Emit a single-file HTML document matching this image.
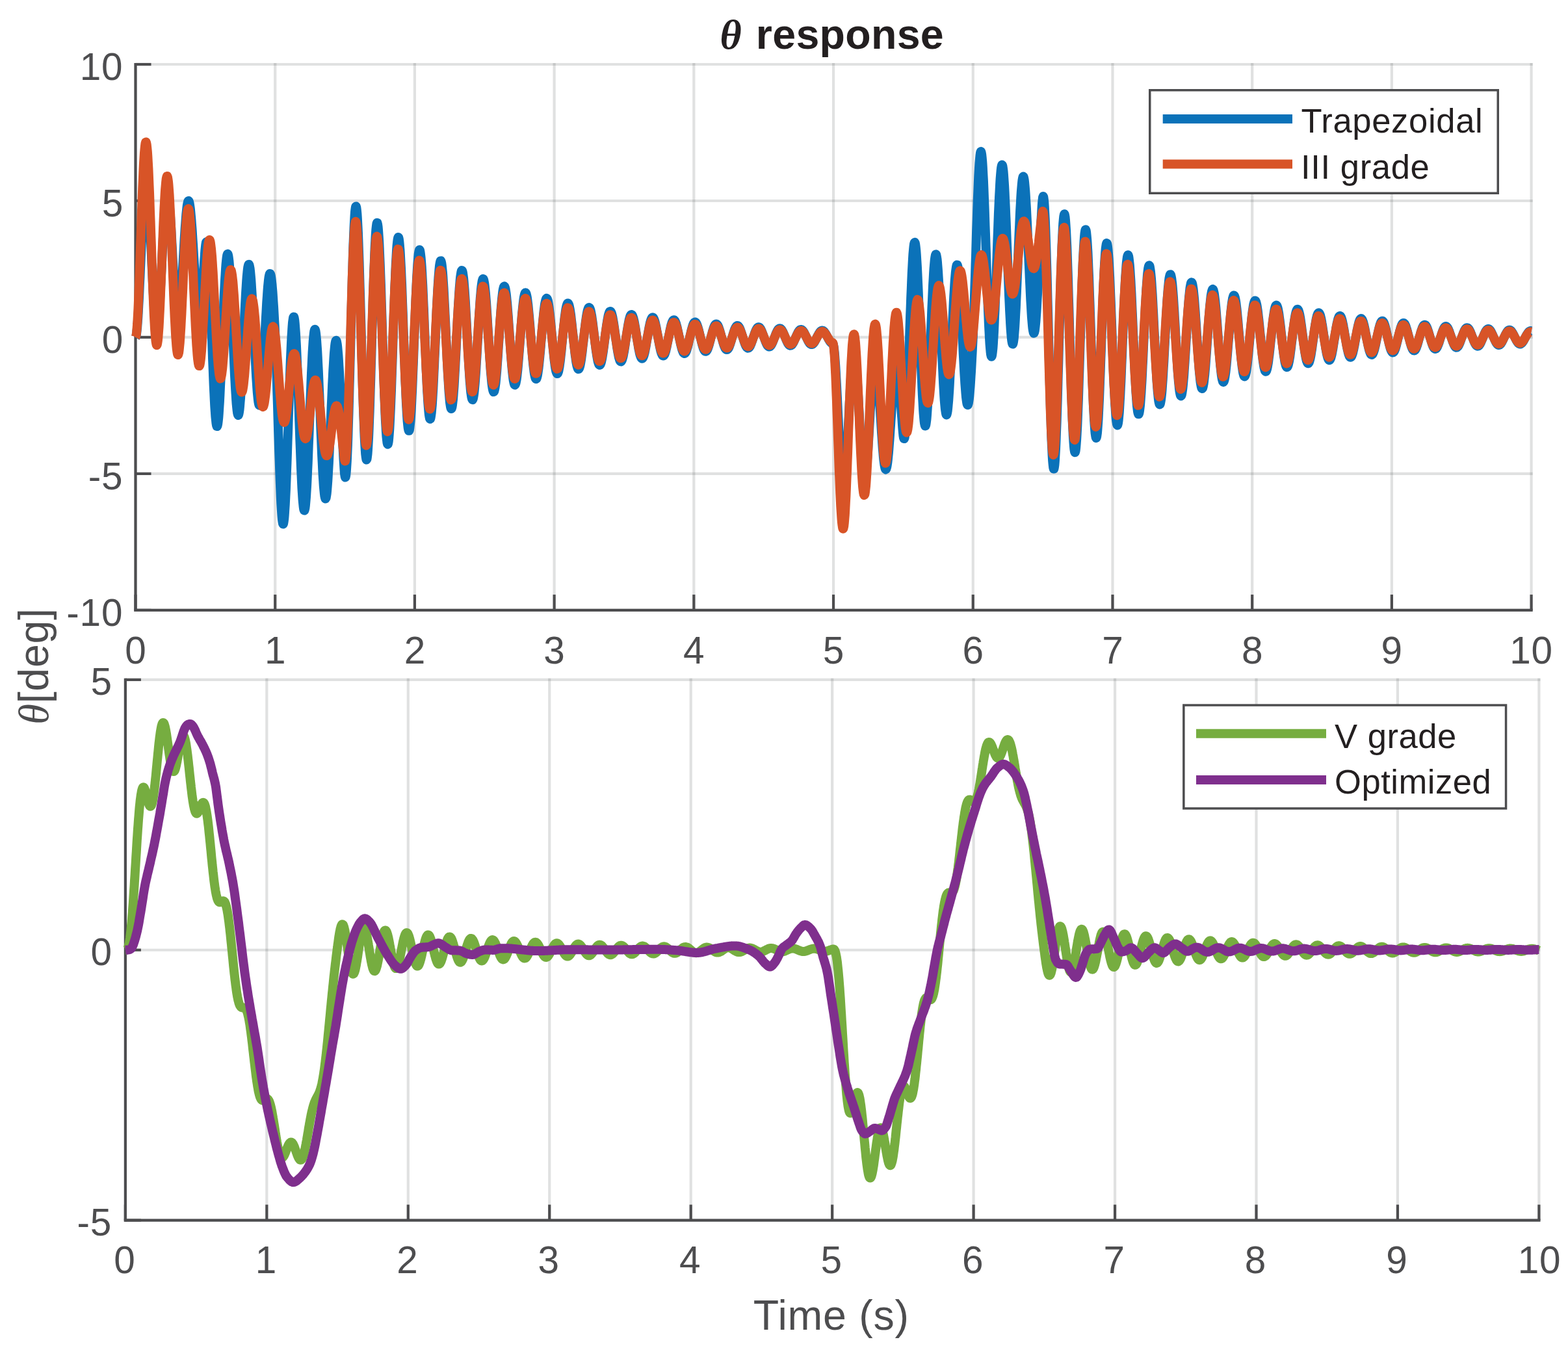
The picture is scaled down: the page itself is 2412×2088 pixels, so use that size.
<!DOCTYPE html>
<html lang="en"><head><meta charset="utf-8"><title>θ response</title>
<style>html,body{margin:0;padding:0;background:#fff}body{width:2412px;height:2088px;overflow:hidden}svg{display:block}</style>
</head><body>
<svg width="2412" height="2088" viewBox="0 0 2412 2088" font-family='"Liberation Sans", sans-serif'>
<rect width="2412" height="2088" fill="#fff"/>
<line x1="208.50" y1="96.90" x2="208.50" y2="938.90" stroke="#24272d" stroke-opacity="0.142" stroke-width="4.2"/>
<line x1="423.21" y1="96.90" x2="423.21" y2="938.90" stroke="#24272d" stroke-opacity="0.142" stroke-width="4.2"/>
<line x1="637.92" y1="96.90" x2="637.92" y2="938.90" stroke="#24272d" stroke-opacity="0.142" stroke-width="4.2"/>
<line x1="852.63" y1="96.90" x2="852.63" y2="938.90" stroke="#24272d" stroke-opacity="0.142" stroke-width="4.2"/>
<line x1="1067.34" y1="96.90" x2="1067.34" y2="938.90" stroke="#24272d" stroke-opacity="0.142" stroke-width="4.2"/>
<line x1="1282.05" y1="96.90" x2="1282.05" y2="938.90" stroke="#24272d" stroke-opacity="0.142" stroke-width="4.2"/>
<line x1="1496.76" y1="96.90" x2="1496.76" y2="938.90" stroke="#24272d" stroke-opacity="0.142" stroke-width="4.2"/>
<line x1="1711.47" y1="96.90" x2="1711.47" y2="938.90" stroke="#24272d" stroke-opacity="0.142" stroke-width="4.2"/>
<line x1="1926.18" y1="96.90" x2="1926.18" y2="938.90" stroke="#24272d" stroke-opacity="0.142" stroke-width="4.2"/>
<line x1="2140.89" y1="96.90" x2="2140.89" y2="938.90" stroke="#24272d" stroke-opacity="0.142" stroke-width="4.2"/>
<line x1="2355.60" y1="96.90" x2="2355.60" y2="938.90" stroke="#24272d" stroke-opacity="0.142" stroke-width="4.2"/>
<line x1="208.50" y1="938.90" x2="2357.70" y2="938.90" stroke="#24272d" stroke-opacity="0.142" stroke-width="4.2"/>
<line x1="208.50" y1="728.92" x2="2357.70" y2="728.92" stroke="#24272d" stroke-opacity="0.142" stroke-width="4.2"/>
<line x1="208.50" y1="518.95" x2="2357.70" y2="518.95" stroke="#24272d" stroke-opacity="0.142" stroke-width="4.2"/>
<line x1="208.50" y1="308.98" x2="2357.70" y2="308.98" stroke="#24272d" stroke-opacity="0.142" stroke-width="4.2"/>
<line x1="208.50" y1="99.00" x2="2357.70" y2="99.00" stroke="#24272d" stroke-opacity="0.142" stroke-width="4.2"/>
<line x1="192.90" y1="1043.80" x2="192.90" y2="1877.60" stroke="#24272d" stroke-opacity="0.142" stroke-width="4.2"/>
<line x1="410.35" y1="1043.80" x2="410.35" y2="1877.60" stroke="#24272d" stroke-opacity="0.142" stroke-width="4.2"/>
<line x1="627.80" y1="1043.80" x2="627.80" y2="1877.60" stroke="#24272d" stroke-opacity="0.142" stroke-width="4.2"/>
<line x1="845.25" y1="1043.80" x2="845.25" y2="1877.60" stroke="#24272d" stroke-opacity="0.142" stroke-width="4.2"/>
<line x1="1062.70" y1="1043.80" x2="1062.70" y2="1877.60" stroke="#24272d" stroke-opacity="0.142" stroke-width="4.2"/>
<line x1="1280.15" y1="1043.80" x2="1280.15" y2="1877.60" stroke="#24272d" stroke-opacity="0.142" stroke-width="4.2"/>
<line x1="1497.60" y1="1043.80" x2="1497.60" y2="1877.60" stroke="#24272d" stroke-opacity="0.142" stroke-width="4.2"/>
<line x1="1715.05" y1="1043.80" x2="1715.05" y2="1877.60" stroke="#24272d" stroke-opacity="0.142" stroke-width="4.2"/>
<line x1="1932.50" y1="1043.80" x2="1932.50" y2="1877.60" stroke="#24272d" stroke-opacity="0.142" stroke-width="4.2"/>
<line x1="2149.95" y1="1043.80" x2="2149.95" y2="1877.60" stroke="#24272d" stroke-opacity="0.142" stroke-width="4.2"/>
<line x1="2367.40" y1="1043.80" x2="2367.40" y2="1877.60" stroke="#24272d" stroke-opacity="0.142" stroke-width="4.2"/>
<line x1="192.90" y1="1877.60" x2="2369.50" y2="1877.60" stroke="#24272d" stroke-opacity="0.142" stroke-width="4.2"/>
<line x1="192.90" y1="1461.75" x2="2369.50" y2="1461.75" stroke="#24272d" stroke-opacity="0.142" stroke-width="4.2"/>
<line x1="192.90" y1="1045.90" x2="2369.50" y2="1045.90" stroke="#24272d" stroke-opacity="0.142" stroke-width="4.2"/>
<line x1="208.50" y1="914.90" x2="208.50" y2="938.90" stroke="#4d4d4f" stroke-width="4.2"/>
<line x1="423.21" y1="914.90" x2="423.21" y2="938.90" stroke="#4d4d4f" stroke-width="4.2"/>
<line x1="637.92" y1="914.90" x2="637.92" y2="938.90" stroke="#4d4d4f" stroke-width="4.2"/>
<line x1="852.63" y1="914.90" x2="852.63" y2="938.90" stroke="#4d4d4f" stroke-width="4.2"/>
<line x1="1067.34" y1="914.90" x2="1067.34" y2="938.90" stroke="#4d4d4f" stroke-width="4.2"/>
<line x1="1282.05" y1="914.90" x2="1282.05" y2="938.90" stroke="#4d4d4f" stroke-width="4.2"/>
<line x1="1496.76" y1="914.90" x2="1496.76" y2="938.90" stroke="#4d4d4f" stroke-width="4.2"/>
<line x1="1711.47" y1="914.90" x2="1711.47" y2="938.90" stroke="#4d4d4f" stroke-width="4.2"/>
<line x1="1926.18" y1="914.90" x2="1926.18" y2="938.90" stroke="#4d4d4f" stroke-width="4.2"/>
<line x1="2140.89" y1="914.90" x2="2140.89" y2="938.90" stroke="#4d4d4f" stroke-width="4.2"/>
<line x1="2355.60" y1="914.90" x2="2355.60" y2="938.90" stroke="#4d4d4f" stroke-width="4.2"/>
<line x1="208.50" y1="938.90" x2="232.50" y2="938.90" stroke="#4d4d4f" stroke-width="4.2"/>
<line x1="208.50" y1="728.92" x2="232.50" y2="728.92" stroke="#4d4d4f" stroke-width="4.2"/>
<line x1="208.50" y1="518.95" x2="232.50" y2="518.95" stroke="#4d4d4f" stroke-width="4.2"/>
<line x1="208.50" y1="308.98" x2="232.50" y2="308.98" stroke="#4d4d4f" stroke-width="4.2"/>
<line x1="208.50" y1="99.00" x2="232.50" y2="99.00" stroke="#4d4d4f" stroke-width="4.2"/>
<path d="M208.50 96.90 V938.90 H2357.70" fill="none" stroke="#4d4d4f" stroke-width="4.2" stroke-linecap="butt" stroke-linejoin="miter"/>
<rect x="206.40" y="936.80" width="4.2" height="4.2" fill="#4d4d4f"/>
<line x1="192.90" y1="1853.60" x2="192.90" y2="1877.60" stroke="#4d4d4f" stroke-width="4.2"/>
<line x1="410.35" y1="1853.60" x2="410.35" y2="1877.60" stroke="#4d4d4f" stroke-width="4.2"/>
<line x1="627.80" y1="1853.60" x2="627.80" y2="1877.60" stroke="#4d4d4f" stroke-width="4.2"/>
<line x1="845.25" y1="1853.60" x2="845.25" y2="1877.60" stroke="#4d4d4f" stroke-width="4.2"/>
<line x1="1062.70" y1="1853.60" x2="1062.70" y2="1877.60" stroke="#4d4d4f" stroke-width="4.2"/>
<line x1="1280.15" y1="1853.60" x2="1280.15" y2="1877.60" stroke="#4d4d4f" stroke-width="4.2"/>
<line x1="1497.60" y1="1853.60" x2="1497.60" y2="1877.60" stroke="#4d4d4f" stroke-width="4.2"/>
<line x1="1715.05" y1="1853.60" x2="1715.05" y2="1877.60" stroke="#4d4d4f" stroke-width="4.2"/>
<line x1="1932.50" y1="1853.60" x2="1932.50" y2="1877.60" stroke="#4d4d4f" stroke-width="4.2"/>
<line x1="2149.95" y1="1853.60" x2="2149.95" y2="1877.60" stroke="#4d4d4f" stroke-width="4.2"/>
<line x1="2367.40" y1="1853.60" x2="2367.40" y2="1877.60" stroke="#4d4d4f" stroke-width="4.2"/>
<line x1="192.90" y1="1877.60" x2="216.90" y2="1877.60" stroke="#4d4d4f" stroke-width="4.2"/>
<line x1="192.90" y1="1461.75" x2="216.90" y2="1461.75" stroke="#4d4d4f" stroke-width="4.2"/>
<line x1="192.90" y1="1045.90" x2="216.90" y2="1045.90" stroke="#4d4d4f" stroke-width="4.2"/>
<path d="M192.90 1043.80 V1877.60 H2369.50" fill="none" stroke="#4d4d4f" stroke-width="4.2" stroke-linecap="butt" stroke-linejoin="miter"/>
<rect x="190.80" y="1875.50" width="4.2" height="4.2" fill="#4d4d4f"/>
<path d="M208.5 519.0 L209.0 518.3 L209.6 516.3 L210.1 513.1 L210.6 508.7 L211.2 503.0 L211.7 496.3 L212.3 488.5 L212.8 479.8 L213.3 470.2 L213.9 459.9 L214.4 448.9 L214.9 437.4 L215.5 425.6 L216.0 413.4 L216.6 401.2 L217.1 389.0 L217.6 376.8 L218.2 365.0 L218.7 353.5 L219.2 342.6 L219.8 332.3 L220.3 322.7 L220.8 313.9 L221.4 306.0 L221.9 299.2 L222.5 293.4 L223.0 288.8 L223.5 285.3 L224.1 283.0 L224.6 281.9 L225.1 282.1 L225.7 283.5 L226.2 286.0 L226.8 289.8 L227.3 294.7 L227.8 300.6 L228.4 307.5 L228.9 315.4 L229.4 324.1 L230.0 333.5 L230.5 343.5 L231.0 354.1 L231.6 365.0 L232.1 376.3 L232.7 387.7 L233.2 399.2 L233.7 410.6 L234.3 421.7 L234.8 432.6 L235.3 443.0 L235.9 452.9 L236.4 462.1 L236.9 470.6 L237.5 478.3 L238.0 485.1 L238.6 490.8 L239.1 495.6 L239.6 499.2 L240.2 501.8 L240.7 503.2 L241.2 503.5 L241.8 502.6 L242.3 500.6 L242.9 497.5 L243.4 493.3 L243.9 488.1 L244.5 482.0 L245.0 474.9 L245.5 467.1 L246.1 458.5 L246.6 449.4 L247.1 439.7 L247.7 429.5 L248.2 419.1 L248.8 408.5 L249.3 397.7 L249.8 387.1 L250.4 376.5 L250.9 366.2 L251.4 356.3 L252.0 346.9 L252.5 338.0 L253.1 329.8 L253.6 322.4 L254.1 315.7 L254.7 310.0 L255.2 305.2 L255.7 301.4 L256.3 298.6 L256.8 296.9 L257.3 296.3 L257.9 296.7 L258.4 298.2 L259.0 300.7 L259.5 304.3 L260.0 308.8 L260.6 314.2 L261.1 320.5 L261.6 327.5 L262.2 335.3 L262.7 343.7 L263.3 352.6 L263.8 361.9 L264.3 371.6 L264.9 381.5 L265.4 391.5 L265.9 401.5 L266.5 411.4 L267.0 421.1 L267.5 430.5 L268.1 439.5 L268.6 448.0 L269.2 455.9 L269.7 463.1 L270.2 469.6 L270.8 475.3 L271.3 480.1 L271.8 484.0 L272.4 487.0 L272.9 488.9 L273.4 489.9 L274.0 489.9 L274.5 488.9 L275.1 486.8 L275.6 483.9 L276.1 480.0 L276.7 475.2 L277.2 469.6 L277.7 463.3 L278.3 456.3 L278.8 448.6 L279.4 440.5 L279.9 431.9 L280.4 422.9 L281.0 413.8 L281.5 404.4 L282.0 395.1 L282.6 385.8 L283.1 376.6 L283.6 367.7 L284.2 359.1 L284.7 351.0 L285.3 343.4 L285.8 336.4 L286.3 330.1 L286.9 324.5 L287.4 319.7 L287.9 315.7 L288.5 312.6 L289.0 310.5 L289.6 309.2 L290.1 308.9 L290.6 309.5 L291.2 311.1 L291.7 313.5 L292.2 316.8 L292.8 321.0 L293.3 325.9 L293.8 331.6 L294.4 338.0 L294.9 344.9 L295.5 352.4 L296.0 360.3 L296.5 368.5 L297.1 377.0 L297.6 385.7 L298.1 394.4 L298.7 403.2 L299.2 411.8 L299.8 420.2 L300.3 428.3 L300.8 436.1 L301.4 443.4 L301.9 450.2 L302.4 456.3 L303.0 461.8 L303.5 466.6 L304.0 470.6 L304.6 473.8 L305.1 476.1 L305.7 477.6 L306.2 478.2 L306.7 478.0 L307.3 476.8 L307.8 474.8 L308.3 472.0 L308.9 468.4 L309.4 464.1 L310.0 459.0 L310.5 453.3 L311.0 447.0 L311.6 440.2 L312.1 433.0 L312.6 425.4 L313.2 417.5 L313.7 409.4 L314.2 401.3 L314.8 393.1 L315.3 385.9 L315.9 380.2 L316.4 375.9 L316.9 373.2 L317.5 372.1 L318.0 372.6 L318.5 374.6 L319.1 378.1 L319.6 383.2 L320.1 389.6 L320.7 397.4 L321.2 406.5 L321.8 416.7 L322.3 428.0 L322.8 440.2 L323.4 453.2 L323.9 466.8 L324.4 481.0 L325.0 495.4 L325.5 510.1 L326.1 524.8 L326.6 539.3 L327.1 553.6 L327.7 567.5 L328.2 580.7 L328.7 593.3 L329.3 605.0 L329.8 615.7 L330.3 625.3 L330.9 633.8 L331.4 641.0 L332.0 646.9 L332.5 651.4 L333.0 654.4 L333.6 656.0 L334.1 656.1 L334.6 654.8 L335.2 652.0 L335.7 647.8 L336.3 642.2 L336.8 635.4 L337.3 627.3 L337.9 618.1 L338.4 607.9 L338.9 596.8 L339.5 584.9 L340.0 572.4 L340.5 559.4 L341.1 545.9 L341.6 532.3 L342.2 518.5 L342.7 504.9 L343.2 491.4 L343.8 478.3 L344.3 465.7 L344.8 453.7 L345.4 442.4 L345.9 432.1 L346.5 422.7 L347.0 414.3 L347.5 407.2 L348.1 401.2 L348.6 396.5 L349.1 393.2 L349.7 391.2 L350.2 390.6 L350.7 391.3 L351.3 393.5 L351.8 396.9 L352.4 401.7 L352.9 407.6 L353.4 414.7 L354.0 423.0 L354.5 432.2 L355.0 442.2 L355.6 453.1 L356.1 464.6 L356.6 476.7 L357.2 489.1 L357.7 501.8 L358.3 514.6 L358.8 527.4 L359.3 540.1 L359.9 552.5 L360.4 564.5 L360.9 575.9 L361.5 586.7 L362.0 596.7 L362.6 605.9 L363.1 614.0 L363.6 621.1 L364.2 627.1 L364.7 631.9 L365.2 635.5 L365.8 637.8 L366.3 638.9 L366.8 638.7 L367.4 637.1 L367.9 634.4 L368.5 630.4 L369.0 625.2 L369.5 618.9 L370.1 611.6 L370.6 603.4 L371.1 594.2 L371.7 584.3 L372.2 573.8 L372.8 562.7 L373.3 551.2 L373.8 539.4 L374.4 527.4 L374.9 515.4 L375.4 503.5 L376.0 491.8 L376.5 480.4 L377.0 469.5 L377.6 459.2 L378.1 449.6 L378.7 440.7 L379.2 432.8 L379.7 425.7 L380.3 419.7 L380.8 414.8 L381.3 411.1 L381.9 408.5 L382.4 407.0 L383.0 406.8 L383.5 407.8 L384.0 410.0 L384.6 413.3 L385.1 417.7 L385.6 423.2 L386.2 429.7 L386.7 437.1 L387.2 445.4 L387.8 454.4 L388.3 464.0 L388.9 474.2 L389.4 484.8 L389.9 495.8 L390.5 506.9 L391.0 518.2 L391.5 529.3 L392.1 540.4 L392.6 551.1 L393.2 561.5 L393.7 571.3 L394.2 580.6 L394.8 589.1 L395.3 596.9 L395.8 603.8 L396.4 609.8 L396.9 614.7 L397.4 618.6 L398.0 621.5 L398.5 623.2 L399.1 623.8 L399.6 623.3 L400.1 621.7 L400.7 619.0 L401.2 615.2 L401.7 610.5 L402.3 604.7 L402.8 598.1 L403.3 590.7 L403.9 582.5 L404.4 573.7 L405.0 564.3 L405.5 554.5 L406.0 544.4 L406.6 534.0 L407.1 523.5 L407.6 513.1 L408.2 502.7 L408.7 492.5 L409.3 482.7 L409.8 473.3 L410.3 464.4 L410.9 456.2 L411.4 448.7 L411.9 441.9 L412.5 436.0 L413.0 431.0 L413.5 427.0 L414.1 423.9 L414.6 421.9 L415.2 421.0 L415.7 421.1 L416.2 422.2 L416.8 424.4 L417.3 427.5 L417.8 431.6 L418.4 436.7 L418.9 442.6 L419.5 449.3 L420.0 456.7 L420.5 464.7 L421.1 473.3 L421.6 482.3 L422.1 491.7 L422.7 502.0 L423.2 513.8 L423.7 526.8 L424.3 541.1 L424.8 556.3 L425.4 572.4 L425.9 589.2 L426.4 606.5 L427.0 624.0 L427.5 641.7 L428.0 659.2 L428.6 676.5 L429.1 693.4 L429.7 709.6 L430.2 725.1 L430.7 739.5 L431.3 752.9 L431.8 765.0 L432.3 775.7 L432.9 785.0 L433.4 792.7 L433.9 798.7 L434.5 803.0 L435.0 805.6 L435.6 806.5 L436.1 805.5 L436.6 802.8 L437.2 798.4 L437.7 792.4 L438.2 784.8 L438.8 775.6 L439.3 765.1 L439.9 753.3 L440.4 740.4 L440.9 726.4 L441.5 711.7 L442.0 696.2 L442.5 680.2 L443.1 663.9 L443.6 647.4 L444.1 630.9 L444.7 614.6 L445.2 598.7 L445.8 583.3 L446.3 568.6 L446.8 554.7 L447.4 541.8 L447.9 530.0 L448.4 519.5 L449.0 510.3 L449.5 502.6 L450.0 496.4 L450.6 491.8 L451.1 488.7 L451.7 487.4 L452.2 487.6 L452.7 489.5 L453.3 493.1 L453.8 498.2 L454.3 504.8 L454.9 512.8 L455.4 522.2 L456.0 532.8 L456.5 544.5 L457.0 557.2 L457.6 570.7 L458.1 585.0 L458.6 599.8 L459.2 614.9 L459.7 630.3 L460.2 645.7 L460.8 661.1 L461.3 676.1 L461.9 690.7 L462.4 704.7 L462.9 718.0 L463.5 730.4 L464.0 741.8 L464.5 752.1 L465.1 761.1 L465.6 768.8 L466.2 775.2 L466.7 780.1 L467.2 783.5 L467.8 785.3 L468.3 785.6 L468.8 784.4 L469.4 781.6 L469.9 777.4 L470.4 771.7 L471.0 764.7 L471.5 756.4 L472.1 746.9 L472.6 736.3 L473.1 724.8 L473.7 712.4 L474.2 699.3 L474.7 685.6 L475.3 671.6 L475.8 657.2 L476.4 642.8 L476.9 628.4 L477.4 614.3 L478.0 600.4 L478.5 587.1 L479.0 574.4 L479.6 562.5 L480.1 551.5 L480.6 541.5 L481.2 532.6 L481.7 524.9 L482.3 518.5 L482.8 513.5 L483.3 509.8 L483.9 507.5 L484.4 506.7 L484.9 507.3 L485.5 509.4 L486.0 512.8 L486.5 517.6 L487.1 523.7 L487.6 531.1 L488.2 539.6 L488.7 549.1 L489.2 559.6 L489.8 570.9 L490.3 582.9 L490.8 595.5 L491.4 608.5 L491.9 621.8 L492.5 635.3 L493.0 648.8 L493.5 662.1 L494.1 675.2 L494.6 687.8 L495.1 699.9 L495.7 711.3 L496.2 721.9 L496.7 731.6 L497.3 740.3 L497.8 748.0 L498.4 754.4 L498.9 759.6 L499.4 763.5 L500.0 766.1 L500.5 767.4 L501.0 767.3 L501.6 765.9 L502.1 763.1 L502.7 759.1 L503.2 753.8 L503.7 747.4 L504.3 739.8 L504.8 731.2 L505.3 721.8 L505.9 711.5 L506.4 700.4 L506.9 688.9 L507.5 676.8 L508.0 664.5 L508.6 651.9 L509.1 639.3 L509.6 626.8 L510.2 614.4 L510.7 602.5 L511.2 591.0 L511.8 580.1 L512.3 569.8 L512.9 560.4 L513.4 551.9 L513.9 544.4 L514.5 538.0 L515.0 532.7 L515.5 528.6 L516.1 525.7 L516.6 524.1 L517.1 523.7 L517.7 524.6 L518.2 526.7 L518.8 530.0 L519.3 534.5 L519.8 540.2 L520.4 546.9 L520.9 554.5 L521.4 563.1 L522.0 572.5 L522.5 582.5 L523.1 593.2 L523.6 604.3 L524.1 615.8 L524.7 627.4 L525.2 639.2 L525.7 651.0 L526.3 662.6 L526.8 673.9 L527.3 684.8 L527.9 695.3 L528.4 705.1 L529.0 714.1 L529.5 722.4 L530.0 728.7 L530.6 732.8 L531.1 734.6 L531.6 734.1 L532.2 731.3 L532.7 726.2 L533.2 718.9 L533.8 709.6 L534.3 698.2 L534.9 685.0 L535.4 670.1 L535.9 653.6 L536.5 635.8 L537.0 616.7 L537.5 596.8 L538.1 576.1 L538.6 554.8 L539.2 533.3 L539.7 511.7 L540.2 490.3 L540.8 469.3 L541.3 448.9 L541.8 429.4 L542.4 410.9 L542.9 393.6 L543.4 377.8 L544.0 363.5 L544.5 350.9 L545.1 340.2 L545.6 331.5 L546.1 324.8 L546.7 320.2 L547.2 317.7 L547.7 317.4 L548.3 319.2 L548.8 323.2 L549.4 329.3 L549.9 337.3 L550.4 347.2 L551.0 359.0 L551.5 372.4 L552.0 387.3 L552.6 403.5 L553.1 420.9 L553.6 439.2 L554.2 458.4 L554.7 478.1 L555.3 498.1 L555.8 518.3 L556.3 538.4 L556.9 558.2 L557.4 577.5 L557.9 596.1 L558.5 613.7 L559.0 630.3 L559.6 645.7 L560.1 659.6 L560.6 671.9 L561.2 682.6 L561.7 691.4 L562.2 698.4 L562.8 703.4 L563.3 706.5 L563.8 707.5 L564.4 706.5 L564.9 703.5 L565.5 698.6 L566.0 691.8 L566.5 683.1 L567.1 672.7 L567.6 660.8 L568.1 647.3 L568.7 632.6 L569.2 616.7 L569.7 599.9 L570.3 582.2 L570.8 564.0 L571.4 545.3 L571.9 526.5 L572.4 507.6 L573.0 489.0 L573.5 470.8 L574.0 453.1 L574.6 436.3 L575.1 420.4 L575.7 405.6 L576.2 392.1 L576.7 380.0 L577.3 369.5 L577.8 360.5 L578.3 353.4 L578.9 348.0 L579.4 344.4 L579.9 342.8 L580.5 343.0 L581.0 345.1 L581.6 349.1 L582.1 354.8 L582.6 362.3 L583.2 371.4 L583.7 382.1 L584.2 394.2 L584.8 407.5 L585.3 422.0 L585.9 437.4 L586.4 453.7 L586.9 470.5 L587.5 487.9 L588.0 505.4 L588.5 523.1 L589.1 540.6 L589.6 557.8 L590.1 574.5 L590.7 590.6 L591.2 605.8 L591.8 620.0 L592.3 633.1 L592.8 644.9 L593.4 655.3 L593.9 664.2 L594.4 671.5 L595.0 677.1 L595.5 681.1 L596.1 683.3 L596.6 683.7 L597.1 682.4 L597.7 679.3 L598.2 674.5 L598.7 668.1 L599.3 660.2 L599.8 650.7 L600.3 639.9 L600.9 627.8 L601.4 614.7 L602.0 600.6 L602.5 585.6 L603.0 570.0 L603.6 554.0 L604.1 537.6 L604.6 521.1 L605.2 504.7 L605.7 488.5 L606.3 472.7 L606.8 457.4 L607.3 442.9 L607.9 429.3 L608.4 416.6 L608.9 405.1 L609.5 394.9 L610.0 386.1 L610.5 378.7 L611.1 372.8 L611.6 368.5 L612.2 365.9 L612.7 364.9 L613.2 365.5 L613.8 367.8 L614.3 371.7 L614.8 377.1 L615.4 384.0 L615.9 392.4 L616.4 402.0 L617.0 412.9 L617.5 424.8 L618.1 437.7 L618.6 451.4 L619.1 465.8 L619.7 480.6 L620.2 495.8 L620.7 511.2 L621.3 526.6 L621.8 541.9 L622.4 556.8 L622.9 571.3 L623.4 585.2 L624.0 598.2 L624.5 610.4 L625.0 621.6 L625.6 631.6 L626.1 640.3 L626.6 647.7 L627.2 653.7 L627.7 658.3 L628.3 661.3 L628.8 662.8 L629.3 662.8 L629.9 661.2 L630.4 658.1 L630.9 653.6 L631.5 647.6 L632.0 640.3 L632.6 631.7 L633.1 622.0 L633.6 611.2 L634.2 599.4 L634.7 586.9 L635.2 573.7 L635.8 559.9 L636.3 545.8 L636.8 531.4 L637.4 517.0 L637.9 502.7 L638.5 488.6 L639.0 474.9 L639.5 461.7 L640.1 449.2 L640.6 437.5 L641.1 426.7 L641.7 417.0 L642.2 408.4 L642.8 401.0 L643.3 394.8 L643.8 390.1 L644.4 386.7 L644.9 384.8 L645.4 384.3 L646.0 385.2 L646.5 387.6 L647.0 391.4 L647.6 396.5 L648.1 402.9 L648.7 410.5 L649.2 419.2 L649.7 428.9 L650.3 439.6 L650.8 451.1 L651.3 463.2 L651.9 475.9 L652.4 489.0 L652.9 502.3 L653.5 515.8 L654.0 529.2 L654.6 542.5 L655.1 555.5 L655.6 568.0 L656.2 579.9 L656.7 591.2 L657.2 601.6 L657.8 611.1 L658.3 619.5 L658.9 626.9 L659.4 633.0 L659.9 637.9 L660.5 641.6 L661.0 643.9 L661.5 644.8 L662.1 644.4 L662.6 642.7 L663.1 639.7 L663.7 635.4 L664.2 629.8 L664.8 623.1 L665.3 615.3 L665.8 606.6 L666.4 596.9 L666.9 586.4 L667.4 575.3 L668.0 563.6 L668.5 551.5 L669.1 539.1 L669.6 526.5 L670.1 513.9 L670.7 501.4 L671.2 489.2 L671.7 477.3 L672.3 466.0 L672.8 455.2 L673.3 445.2 L673.9 436.0 L674.4 427.7 L675.0 420.5 L675.5 414.3 L676.0 409.2 L676.6 405.4 L677.1 402.8 L677.6 401.4 L678.2 401.3 L678.7 402.5 L679.3 404.9 L679.8 408.5 L680.3 413.3 L680.9 419.1 L681.4 426.1 L681.9 433.9 L682.5 442.7 L683.0 452.2 L683.5 462.4 L684.1 473.1 L684.6 484.3 L685.2 495.8 L685.7 507.5 L686.2 519.3 L686.8 531.0 L687.3 542.6 L687.8 553.8 L688.4 564.6 L688.9 574.9 L689.5 584.6 L690.0 593.5 L690.5 601.5 L691.1 608.7 L691.6 614.8 L692.1 619.9 L692.7 623.9 L693.2 626.8 L693.7 628.5 L694.3 629.0 L694.8 628.4 L695.4 626.5 L695.9 623.6 L696.4 619.5 L697.0 614.4 L697.5 608.3 L698.0 601.2 L698.6 593.4 L699.1 584.7 L699.6 575.4 L700.2 565.5 L700.7 555.2 L701.3 544.5 L701.8 533.6 L702.3 522.6 L702.9 511.6 L703.4 500.8 L703.9 490.2 L704.5 479.9 L705.0 470.1 L705.6 460.8 L706.1 452.3 L706.6 444.4 L707.2 437.4 L707.7 431.3 L708.2 426.2 L708.8 422.1 L709.3 419.0 L709.8 417.0 L710.4 416.1 L710.9 416.3 L711.5 417.6 L712.0 420.0 L712.5 423.4 L713.1 427.9 L713.6 433.2 L714.1 439.5 L714.7 446.6 L715.2 454.4 L715.8 462.9 L716.3 472.0 L716.8 481.5 L717.4 491.3 L717.9 501.5 L718.4 511.7 L719.0 522.0 L719.5 532.2 L720.0 542.3 L720.6 552.0 L721.1 561.3 L721.7 570.2 L722.2 578.4 L722.7 586.0 L723.3 592.9 L723.8 598.9 L724.3 604.0 L724.9 608.2 L725.4 611.5 L726.0 613.7 L726.5 614.9 L727.0 615.1 L727.6 614.2 L728.1 612.4 L728.6 609.5 L729.2 605.7 L729.7 601.0 L730.2 595.5 L730.8 589.1 L731.3 582.0 L731.9 574.3 L732.4 566.0 L732.9 557.3 L733.5 548.2 L734.0 538.8 L734.5 529.2 L735.1 519.6 L735.6 510.0 L736.1 500.6 L736.7 491.4 L737.2 482.5 L737.8 474.0 L738.3 466.1 L738.8 458.8 L739.4 452.1 L739.9 446.2 L740.4 441.1 L741.0 436.8 L741.5 433.5 L742.1 431.0 L742.6 429.5 L743.1 429.0 L743.7 429.5 L744.2 430.8 L744.7 433.2 L745.3 436.4 L745.8 440.5 L746.3 445.4 L746.9 451.1 L747.4 457.5 L748.0 464.5 L748.5 472.0 L749.0 480.1 L749.6 488.5 L750.1 497.2 L750.6 506.0 L751.2 515.0 L751.7 524.0 L752.3 532.9 L752.8 541.6 L753.3 550.0 L753.9 558.1 L754.4 565.7 L754.9 572.8 L755.5 579.2 L756.0 585.0 L756.5 590.1 L757.1 594.4 L757.6 597.8 L758.2 600.4 L758.7 602.1 L759.2 603.0 L759.8 602.9 L760.3 601.9 L760.8 600.0 L761.4 597.3 L761.9 593.8 L762.5 589.5 L763.0 584.4 L763.5 578.7 L764.1 572.3 L764.6 565.5 L765.1 558.1 L765.7 550.4 L766.2 542.3 L766.7 534.1 L767.3 525.7 L767.8 517.3 L768.4 508.9 L768.9 500.7 L769.4 492.7 L770.0 485.1 L770.5 477.8 L771.0 471.0 L771.6 464.7 L772.1 459.1 L772.7 454.1 L773.2 449.8 L773.7 446.3 L774.3 443.6 L774.8 441.7 L775.3 440.6 L775.9 440.4 L776.4 441.0 L776.9 442.4 L777.5 444.6 L778.0 447.7 L778.6 451.5 L779.1 455.9 L779.6 461.1 L780.2 466.8 L780.7 473.1 L781.2 479.8 L781.8 486.9 L782.3 494.3 L782.8 502.0 L783.4 509.8 L783.9 517.6 L784.5 525.5 L785.0 533.2 L785.5 540.7 L786.1 548.0 L786.6 555.0 L787.1 561.5 L787.7 567.5 L788.2 573.0 L788.8 577.9 L789.3 582.2 L789.8 585.7 L790.4 588.6 L790.9 590.6 L791.4 591.9 L792.0 592.4 L792.5 592.2 L793.0 591.1 L793.6 589.3 L794.1 586.7 L794.7 583.4 L795.2 579.5 L795.7 574.9 L796.3 569.7 L796.8 564.1 L797.3 557.9 L797.9 551.4 L798.4 544.6 L799.0 537.5 L799.5 530.2 L800.0 522.9 L800.6 515.5 L801.1 508.3 L801.6 501.1 L802.2 494.2 L802.7 487.6 L803.2 481.4 L803.8 475.5 L804.3 470.2 L804.9 465.4 L805.4 461.2 L805.9 457.6 L806.5 454.8 L807.0 452.6 L807.5 451.1 L808.1 450.3 L808.6 450.3 L809.2 451.1 L809.7 452.5 L810.2 454.6 L810.8 457.5 L811.3 460.9 L811.8 465.0 L812.4 469.6 L812.9 474.8 L813.4 480.4 L814.0 486.3 L814.5 492.6 L815.1 499.2 L815.6 505.9 L816.1 512.7 L816.7 519.6 L817.2 526.4 L817.7 533.2 L818.3 539.7 L818.8 546.0 L819.3 552.0 L819.9 557.6 L820.4 562.8 L821.0 567.4 L821.5 571.6 L822.0 575.1 L822.6 578.0 L823.1 580.3 L823.6 582.0 L824.2 582.9 L824.7 583.2 L825.3 582.8 L825.8 581.7 L826.3 579.9 L826.9 577.5 L827.4 574.4 L827.9 570.8 L828.5 566.7 L829.0 562.1 L829.5 557.0 L830.1 551.5 L830.6 545.8 L831.2 539.7 L831.7 533.5 L832.2 527.1 L832.8 520.7 L833.3 514.3 L833.8 507.9 L834.4 501.8 L834.9 495.8 L835.5 490.1 L836.0 484.7 L836.5 479.7 L837.1 475.2 L837.6 471.1 L838.1 467.6 L838.7 464.6 L839.2 462.3 L839.7 460.5 L840.3 459.4 L840.8 458.9 L841.4 459.1 L841.9 459.9 L842.4 461.3 L843.0 463.3 L843.5 466.0 L844.0 469.1 L844.6 472.8 L845.1 477.0 L845.7 481.6 L846.2 486.6 L846.7 491.9 L847.3 497.4 L847.8 503.2 L848.3 509.1 L848.9 515.1 L849.4 521.1 L849.9 527.1 L850.5 532.9 L851.0 538.6 L851.6 544.0 L852.1 549.2 L852.6 554.0 L853.2 558.4 L853.7 562.3 L854.2 565.8 L854.8 568.8 L855.3 571.2 L855.9 573.0 L856.4 574.3 L856.9 575.0 L857.5 575.1 L858.0 574.5 L858.5 573.4 L859.1 571.7 L859.6 569.4 L860.1 566.7 L860.7 563.4 L861.2 559.6 L861.8 555.5 L862.3 551.0 L862.8 546.1 L863.4 541.0 L863.9 535.7 L864.4 530.2 L865.0 524.6 L865.5 519.0 L866.0 513.4 L866.6 507.9 L867.1 502.5 L867.7 497.3 L868.2 492.4 L868.7 487.8 L869.3 483.6 L869.8 479.7 L870.3 476.3 L870.9 473.3 L871.4 470.9 L872.0 468.9 L872.5 467.6 L873.0 466.7 L873.6 466.5 L874.1 466.8 L874.6 467.6 L875.2 469.0 L875.7 470.9 L876.2 473.3 L876.8 476.2 L877.3 479.6 L877.9 483.3 L878.4 487.4 L878.9 491.9 L879.5 496.6 L880.0 501.5 L880.5 506.6 L881.1 511.8 L881.6 517.0 L882.2 522.2 L882.7 527.4 L883.2 532.5 L883.8 537.4 L884.3 542.1 L884.8 546.5 L885.4 550.6 L885.9 554.4 L886.4 557.7 L887.0 560.6 L887.5 563.1 L888.1 565.1 L888.6 566.6 L889.1 567.5 L889.7 568.0 L890.2 567.9 L890.7 567.3 L891.3 566.2 L891.8 564.6 L892.4 562.5 L892.9 559.9 L893.4 557.0 L894.0 553.6 L894.5 549.9 L895.0 545.8 L895.6 541.5 L896.1 537.0 L896.6 532.3 L897.2 527.5 L897.7 522.6 L898.3 517.7 L898.8 512.8 L899.3 508.0 L899.9 503.4 L900.4 498.9 L900.9 494.7 L901.5 490.7 L902.0 487.1 L902.6 483.8 L903.1 480.9 L903.6 478.5 L904.2 476.4 L904.7 474.9 L905.2 473.8 L905.8 473.2 L906.3 473.1 L906.8 473.5 L907.4 474.3 L907.9 475.7 L908.5 477.5 L909.0 479.7 L909.5 482.4 L910.1 485.4 L910.6 488.7 L911.1 492.4 L911.7 496.3 L912.2 500.5 L912.7 504.8 L913.3 509.3 L913.8 513.9 L914.4 518.5 L914.9 523.0 L915.4 527.6 L916.0 532.0 L916.5 536.2 L917.0 540.2 L917.6 544.0 L918.1 547.5 L918.7 550.7 L919.2 553.6 L919.7 556.0 L920.3 558.1 L920.8 559.7 L921.3 560.8 L921.9 561.6 L922.4 561.8 L922.9 561.7 L923.5 561.0 L924.0 559.9 L924.6 558.4 L925.1 556.4 L925.6 554.1 L926.2 551.4 L926.7 548.4 L927.2 545.1 L927.8 541.5 L928.3 537.6 L928.9 533.6 L929.4 529.5 L929.9 525.3 L930.5 521.0 L931.0 516.7 L931.5 512.4 L932.1 508.3 L932.6 504.3 L933.1 500.4 L933.7 496.8 L934.2 493.4 L934.8 490.3 L935.3 487.5 L935.8 485.1 L936.4 483.1 L936.9 481.4 L937.4 480.1 L938.0 479.3 L938.5 478.9 L939.1 478.9 L939.6 479.4 L940.1 480.2 L940.7 481.5 L941.2 483.2 L941.7 485.2 L942.3 487.6 L942.8 490.4 L943.3 493.4 L943.9 496.6 L944.4 500.1 L945.0 503.8 L945.5 507.7 L946.0 511.6 L946.6 515.6 L947.1 519.6 L947.6 523.6 L948.2 527.5 L948.7 531.3 L949.2 535.0 L949.8 538.5 L950.3 541.7 L950.9 544.7 L951.4 547.4 L951.9 549.8 L952.5 551.8 L953.0 553.5 L953.5 554.9 L954.1 555.8 L954.6 556.3 L955.2 556.4 L955.7 556.2 L956.2 555.5 L956.8 554.4 L957.3 553.0 L957.8 551.2 L958.4 549.1 L958.9 546.7 L959.4 543.9 L960.0 541.0 L960.5 537.8 L961.1 534.4 L961.6 530.8 L962.1 527.2 L962.7 523.5 L963.2 519.7 L963.7 516.0 L964.3 512.3 L964.8 508.7 L965.4 505.2 L965.9 501.9 L966.4 498.8 L967.0 495.9 L967.5 493.2 L968.0 490.9 L968.6 488.9 L969.1 487.2 L969.6 485.8 L970.2 484.8 L970.7 484.2 L971.3 483.9 L971.8 484.0 L972.3 484.5 L972.9 485.4 L973.4 486.6 L973.9 488.1 L974.5 490.0 L975.0 492.2 L975.6 494.6 L976.1 497.3 L976.6 500.2 L977.2 503.4 L977.7 506.6 L978.2 510.0 L978.8 513.4 L979.3 516.9 L979.8 520.4 L980.4 523.9 L980.9 527.3 L981.5 530.6 L982.0 533.8 L982.5 536.8 L983.1 539.6 L983.6 542.1 L984.1 544.4 L984.7 546.4 L985.2 548.1 L985.8 549.5 L986.3 550.6 L986.8 551.3 L987.4 551.7 L987.9 551.7 L988.4 551.4 L989.0 550.7 L989.5 549.7 L990.0 548.3 L990.6 546.7 L991.1 544.8 L991.7 542.6 L992.2 540.1 L992.7 537.5 L993.3 534.6 L993.8 531.6 L994.3 528.5 L994.9 525.3 L995.4 522.0 L995.9 518.8 L996.5 515.5 L997.0 512.3 L997.6 509.2 L998.1 506.1 L998.6 503.3 L999.2 500.6 L999.7 498.1 L1000.2 495.9 L1000.8 493.9 L1001.3 492.2 L1001.9 490.8 L1002.4 489.7 L1002.9 488.9 L1003.5 488.5 L1004.0 488.3 L1004.5 488.5 L1005.1 489.0 L1005.6 489.9 L1006.1 491.0 L1006.7 492.4 L1007.2 494.1 L1007.8 496.1 L1008.3 498.3 L1008.8 500.7 L1009.4 503.3 L1009.9 506.1 L1010.4 508.9 L1011.0 511.9 L1011.5 514.9 L1012.1 518.0 L1012.6 521.1 L1013.1 524.1 L1013.7 527.0 L1014.2 529.9 L1014.7 532.6 L1015.3 535.2 L1015.8 537.6 L1016.3 539.8 L1016.9 541.7 L1017.4 543.4 L1018.0 544.8 L1018.5 545.9 L1019.0 546.8 L1019.6 547.3 L1020.1 547.6 L1020.6 547.5 L1021.2 547.1 L1021.7 546.5 L1022.3 545.5 L1022.8 544.3 L1023.3 542.8 L1023.9 541.0 L1024.4 539.0 L1024.9 536.8 L1025.5 534.5 L1026.0 532.0 L1026.5 529.3 L1027.1 526.6 L1027.6 523.7 L1028.2 520.9 L1028.7 518.0 L1029.2 515.2 L1029.8 512.4 L1030.3 509.7 L1030.8 507.1 L1031.4 504.6 L1031.9 502.3 L1032.4 500.2 L1033.0 498.3 L1033.5 496.7 L1034.1 495.2 L1034.6 494.1 L1035.1 493.2 L1035.7 492.6 L1036.2 492.2 L1036.7 492.2 L1037.3 492.4 L1037.8 493.0 L1038.4 493.8 L1038.9 494.8 L1039.4 496.1 L1040.0 497.7 L1040.5 499.5 L1041.0 501.4 L1041.6 503.6 L1042.1 505.9 L1042.6 508.3 L1043.2 510.9 L1043.7 513.5 L1044.3 516.2 L1044.8 518.8 L1045.3 521.5 L1045.9 524.1 L1046.4 526.7 L1046.9 529.2 L1047.5 531.5 L1048.0 533.7 L1048.6 535.8 L1049.1 537.6 L1049.6 539.2 L1050.2 540.7 L1050.7 541.8 L1051.2 542.8 L1051.8 543.4 L1052.3 543.8 L1052.8 544.0 L1053.4 543.9 L1053.9 543.5 L1054.5 542.8 L1055.0 541.9 L1055.5 540.8 L1056.1 539.4 L1056.6 537.8 L1057.1 536.0 L1057.7 534.1 L1058.2 531.9 L1058.8 529.7 L1059.3 527.4 L1059.8 524.9 L1060.4 522.5 L1060.9 520.0 L1061.4 517.5 L1062.0 515.0 L1062.5 512.6 L1063.0 510.2 L1063.6 508.0 L1064.1 505.9 L1064.7 503.9 L1065.2 502.1 L1065.7 500.5 L1066.3 499.1 L1066.8 497.9 L1067.3 497.0 L1067.9 496.3 L1068.4 495.8 L1069.0 495.6 L1069.5 495.6 L1070.0 495.9 L1070.6 496.4 L1071.1 497.2 L1071.6 498.1 L1072.2 499.4 L1072.7 500.8 L1073.2 502.4 L1073.8 504.1 L1074.3 506.1 L1074.9 508.1 L1075.4 510.3 L1075.9 512.5 L1076.5 514.8 L1077.0 517.1 L1077.5 519.5 L1078.1 521.8 L1078.6 524.1 L1079.1 526.3 L1079.7 528.4 L1080.2 530.5 L1080.8 532.3 L1081.3 534.1 L1081.8 535.7 L1082.4 537.0 L1082.9 538.2 L1083.4 539.2 L1084.0 539.9 L1084.5 540.5 L1085.1 540.8 L1085.6 540.8 L1086.1 540.6 L1086.7 540.2 L1087.2 539.6 L1087.7 538.8 L1088.3 537.7 L1088.8 536.5 L1089.3 535.0 L1089.9 533.4 L1090.4 531.7 L1091.0 529.8 L1091.5 527.8 L1092.0 525.8 L1092.6 523.6 L1093.1 521.4 L1093.6 519.3 L1094.2 517.1 L1094.7 514.9 L1095.3 512.8 L1095.8 510.8 L1096.3 508.9 L1096.9 507.1 L1097.4 505.4 L1097.9 503.9 L1098.5 502.5 L1099.0 501.3 L1099.5 500.3 L1100.1 499.6 L1100.6 499.0 L1101.2 498.6 L1101.7 498.5 L1102.2 498.6 L1102.8 498.9 L1103.3 499.4 L1103.8 500.1 L1104.4 501.0 L1104.9 502.1 L1105.5 503.4 L1106.0 504.9 L1106.5 506.4 L1107.1 508.1 L1107.6 510.0 L1108.1 511.9 L1108.7 513.8 L1109.2 515.9 L1109.7 517.9 L1110.3 520.0 L1110.8 522.0 L1111.4 524.0 L1111.9 525.9 L1112.4 527.7 L1113.0 529.5 L1113.5 531.1 L1114.0 532.6 L1114.6 533.9 L1115.1 535.1 L1115.6 536.0 L1116.2 536.8 L1116.7 537.4 L1117.3 537.9 L1117.8 538.1 L1118.3 538.0 L1118.9 537.8 L1119.4 537.4 L1119.9 536.8 L1120.5 536.0 L1121.0 535.1 L1121.6 533.9 L1122.1 532.6 L1122.6 531.2 L1123.2 529.6 L1123.7 528.0 L1124.2 526.2 L1124.8 524.4 L1125.3 522.5 L1125.8 520.6 L1126.4 518.7 L1126.9 516.8 L1127.5 514.9 L1128.0 513.1 L1128.5 511.4 L1129.1 509.7 L1129.6 508.2 L1130.1 506.7 L1130.7 505.4 L1131.2 504.3 L1131.8 503.3 L1132.3 502.5 L1132.8 501.8 L1133.4 501.4 L1133.9 501.1 L1134.4 501.1 L1135.0 501.2 L1135.5 501.5 L1136.0 502.0 L1136.6 502.7 L1137.1 503.5 L1137.7 504.5 L1138.2 505.7 L1138.7 507.0 L1139.3 508.4 L1139.8 509.9 L1140.3 511.5 L1140.9 513.2 L1141.4 515.0 L1142.0 516.7 L1142.5 518.5 L1143.0 520.3 L1143.6 522.1 L1144.1 523.8 L1144.6 525.4 L1145.2 527.0 L1145.7 528.5 L1146.2 529.9 L1146.8 531.2 L1147.3 532.3 L1147.9 533.3 L1148.4 534.1 L1148.9 534.7 L1149.5 535.2 L1150.0 535.5 L1150.5 535.7 L1151.1 535.6 L1151.6 535.4 L1152.2 535.0 L1152.7 534.4 L1153.2 533.7 L1153.8 532.8 L1154.3 531.8 L1154.8 530.6 L1155.4 529.3 L1155.9 527.9 L1156.4 526.4 L1157.0 524.9 L1157.5 523.3 L1158.1 521.6 L1158.6 520.0 L1159.1 518.3 L1159.7 516.6 L1160.2 515.0 L1160.7 513.4 L1161.3 511.9 L1161.8 510.5 L1162.3 509.2 L1162.9 507.9 L1163.4 506.8 L1164.0 505.9 L1164.5 505.1 L1165.0 504.4 L1165.6 503.9 L1166.1 503.5 L1166.6 503.3 L1167.2 503.3 L1167.7 503.5 L1168.3 503.8 L1168.8 504.3 L1169.3 504.9 L1169.9 505.7 L1170.4 506.6 L1170.9 507.7 L1171.5 508.8 L1172.0 510.1 L1172.5 511.4 L1173.1 512.9 L1173.6 514.3 L1174.2 515.9 L1174.7 517.4 L1175.2 519.0 L1175.8 520.5 L1176.3 522.1 L1176.8 523.6 L1177.4 525.0 L1177.9 526.4 L1178.5 527.7 L1179.0 528.8 L1179.5 529.9 L1180.1 530.9 L1180.6 531.7 L1181.1 532.3 L1181.7 532.9 L1182.2 533.3 L1182.7 533.5 L1183.3 533.6 L1183.8 533.5 L1184.4 533.2 L1184.9 532.8 L1185.4 532.3 L1186.0 531.6 L1186.5 530.8 L1187.0 529.9 L1187.6 528.8 L1188.1 527.7 L1188.7 526.5 L1189.2 525.1 L1189.7 523.8 L1190.3 522.4 L1190.8 520.9 L1191.3 519.5 L1191.9 518.0 L1192.4 516.6 L1192.9 515.1 L1193.5 513.8 L1194.0 512.5 L1194.6 511.2 L1195.1 510.1 L1195.6 509.1 L1196.2 508.1 L1196.7 507.3 L1197.2 506.6 L1197.8 506.1 L1198.3 505.7 L1198.8 505.4 L1199.4 505.3 L1199.9 505.3 L1200.5 505.5 L1201.0 505.8 L1201.5 506.3 L1202.1 506.8 L1202.6 507.6 L1203.1 508.4 L1203.7 509.3 L1204.2 510.4 L1204.8 511.5 L1205.3 512.7 L1205.8 514.0 L1206.4 515.3 L1206.9 516.6 L1207.4 518.0 L1208.0 519.3 L1208.5 520.7 L1209.0 522.0 L1209.6 523.3 L1210.1 524.6 L1210.7 525.7 L1211.2 526.8 L1211.7 527.8 L1212.3 528.8 L1212.8 529.6 L1213.3 530.2 L1213.9 530.8 L1214.4 531.2 L1215.0 531.5 L1215.5 531.7 L1216.0 531.7 L1216.6 531.6 L1217.1 531.4 L1217.6 531.0 L1218.2 530.5 L1218.7 529.9 L1219.2 529.1 L1219.8 528.3 L1220.3 527.3 L1220.9 526.3 L1221.4 525.2 L1221.9 524.1 L1222.5 522.8 L1223.0 521.6 L1223.5 520.3 L1224.1 519.0 L1224.6 517.8 L1225.2 516.5 L1225.7 515.3 L1226.2 514.1 L1226.8 513.0 L1227.3 511.9 L1227.8 511.0 L1228.4 510.1 L1228.9 509.3 L1229.4 508.6 L1230.0 508.1 L1230.5 507.6 L1231.1 507.3 L1231.6 507.1 L1232.1 507.0 L1232.7 507.1 L1233.2 507.3 L1233.7 507.6 L1234.3 508.0 L1234.8 508.5 L1235.4 509.2 L1235.9 509.9 L1236.4 510.8 L1237.0 511.7 L1237.5 512.7 L1238.0 513.8 L1238.6 514.9 L1239.1 516.0 L1239.6 517.2 L1240.2 518.4 L1240.7 519.6 L1241.3 520.8 L1241.8 521.9 L1242.3 523.1 L1242.9 524.1 L1243.4 525.1 L1243.9 526.1 L1244.5 526.9 L1245.0 527.7 L1245.5 528.4 L1246.1 529.0 L1246.6 529.4 L1247.2 529.8 L1247.7 530.0 L1248.2 530.1 L1248.8 530.1 L1249.3 530.0 L1249.8 529.7 L1250.4 529.4 L1250.9 528.9 L1251.5 528.3 L1252.0 527.6 L1252.5 526.9 L1253.1 526.0 L1253.6 525.1 L1254.1 524.2 L1254.7 523.1 L1255.2 522.1 L1255.7 521.0 L1256.3 519.9 L1256.8 518.7 L1257.4 517.6 L1257.9 516.5 L1258.4 515.5 L1259.0 514.5 L1259.5 513.5 L1260.0 512.6 L1260.6 511.8 L1261.1 511.0 L1261.7 510.3 L1262.2 509.8 L1262.7 509.3 L1263.3 508.9 L1263.8 508.7 L1264.3 508.5 L1264.9 508.5 L1265.4 508.6 L1265.9 508.8 L1266.5 509.1 L1267.0 509.5 L1267.6 510.0 L1268.1 510.6 L1268.6 511.3 L1269.2 512.0 L1269.7 512.8 L1270.2 513.7 L1270.8 514.7 L1271.3 515.7 L1271.9 516.7 L1272.4 517.7 L1272.9 518.8 L1273.5 519.8 L1274.0 520.8 L1274.5 521.8 L1275.1 522.8 L1275.6 523.7 L1276.1 524.6 L1276.7 525.4 L1277.2 526.1 L1277.8 526.8 L1278.3 527.3 L1278.8 527.8 L1279.4 528.2 L1279.9 528.5 L1280.4 528.6 L1281.0 528.7 L1281.5 529.1 L1282.0 530.7 L1282.6 533.4 L1283.1 537.3 L1283.7 542.3 L1284.2 548.4 L1284.7 555.4 L1285.3 563.3 L1285.8 572.0 L1286.3 581.4 L1286.9 591.4 L1287.4 601.9 L1288.0 612.7 L1288.5 623.9 L1289.0 635.2 L1289.6 646.5 L1290.1 657.6 L1290.6 668.6 L1291.2 679.3 L1291.7 689.5 L1292.2 699.1 L1292.8 708.1 L1293.3 716.3 L1293.9 723.7 L1294.4 730.2 L1294.9 735.7 L1295.5 740.2 L1296.0 743.6 L1296.5 745.9 L1297.1 747.1 L1297.6 747.2 L1298.2 746.1 L1298.7 744.0 L1299.2 740.7 L1299.8 736.4 L1300.3 731.1 L1300.8 724.9 L1301.4 717.8 L1301.9 709.9 L1302.4 701.4 L1303.0 692.2 L1303.5 682.6 L1304.1 672.5 L1304.6 662.2 L1305.1 651.7 L1305.7 641.1 L1306.2 630.6 L1306.7 620.2 L1307.3 610.2 L1307.8 600.5 L1308.4 591.2 L1308.9 582.6 L1309.4 574.7 L1310.0 567.4 L1310.5 561.1 L1311.0 555.6 L1311.6 551.0 L1312.1 547.4 L1312.6 544.9 L1313.2 543.4 L1313.7 542.9 L1314.3 543.5 L1314.8 545.2 L1315.3 547.9 L1315.9 551.6 L1316.4 556.2 L1316.9 561.7 L1317.5 568.0 L1318.0 575.1 L1318.6 582.9 L1319.1 591.2 L1319.6 600.1 L1320.2 609.4 L1320.7 619.0 L1321.2 628.7 L1321.8 638.6 L1322.3 648.5 L1322.8 658.2 L1323.4 667.7 L1323.9 676.9 L1324.5 685.7 L1325.0 694.0 L1325.5 701.7 L1326.1 708.7 L1326.6 715.0 L1327.1 720.4 L1327.7 725.0 L1328.2 728.7 L1328.7 731.4 L1329.3 733.2 L1329.8 734.0 L1330.4 733.8 L1330.9 732.6 L1331.4 730.4 L1332.0 727.3 L1332.5 723.3 L1333.0 718.5 L1333.6 712.8 L1334.1 706.4 L1334.7 699.4 L1335.2 691.8 L1335.7 683.6 L1336.3 675.1 L1336.8 666.2 L1337.3 657.2 L1337.9 647.9 L1338.4 638.7 L1338.9 629.6 L1339.5 620.6 L1340.0 611.8 L1340.6 603.5 L1341.1 595.5 L1341.6 588.1 L1342.2 581.4 L1342.7 575.2 L1343.2 569.9 L1343.8 565.3 L1344.3 561.5 L1344.9 558.6 L1345.4 556.6 L1345.9 555.6 L1346.5 555.4 L1347.0 556.2 L1347.5 557.9 L1348.1 560.5 L1348.6 563.9 L1349.1 568.1 L1349.7 573.2 L1350.2 578.9 L1350.8 585.2 L1351.3 592.2 L1351.8 599.6 L1352.4 607.5 L1352.9 615.7 L1353.4 624.1 L1354.0 632.7 L1354.5 641.3 L1355.1 649.9 L1355.6 658.4 L1356.1 666.6 L1356.7 674.6 L1357.2 682.2 L1357.7 689.3 L1358.3 695.8 L1358.8 701.8 L1359.3 707.1 L1359.9 711.6 L1360.4 715.4 L1361.0 718.4 L1361.5 720.6 L1362.0 721.9 L1362.6 722.4 L1363.1 722.0 L1363.6 720.7 L1364.2 718.6 L1364.7 715.7 L1365.3 712.0 L1365.8 707.6 L1366.3 702.4 L1366.9 696.7 L1367.4 690.4 L1367.9 683.6 L1368.5 676.4 L1369.0 668.9 L1369.5 661.1 L1370.1 653.1 L1370.6 645.0 L1371.2 636.9 L1371.7 629.0 L1372.2 621.2 L1372.8 613.6 L1373.3 606.4 L1373.8 599.6 L1374.4 593.3 L1374.9 587.5 L1375.4 582.3 L1376.0 577.8 L1376.5 573.9 L1377.1 570.9 L1377.6 568.5 L1378.1 567.0 L1378.7 566.3 L1379.2 566.4 L1379.7 567.3 L1380.3 569.0 L1380.8 571.4 L1381.4 574.6 L1381.9 578.5 L1382.4 583.1 L1383.0 588.2 L1383.5 593.9 L1384.0 600.1 L1384.6 606.7 L1385.1 613.7 L1385.6 620.9 L1386.2 628.3 L1386.7 635.8 L1387.3 643.3 L1387.8 650.8 L1388.3 658.2 L1388.9 664.8 L1389.4 669.9 L1389.9 673.3 L1390.5 675.0 L1391.0 675.1 L1391.6 673.5 L1392.1 670.2 L1392.6 665.4 L1393.2 659.0 L1393.7 651.1 L1394.2 641.9 L1394.8 631.4 L1395.3 619.8 L1395.8 607.1 L1396.4 593.5 L1396.9 579.2 L1397.5 564.3 L1398.0 549.0 L1398.5 533.5 L1399.1 517.9 L1399.6 502.3 L1400.1 487.0 L1400.7 472.1 L1401.2 457.7 L1401.8 444.1 L1402.3 431.4 L1402.8 419.6 L1403.4 408.9 L1403.9 399.5 L1404.4 391.4 L1405.0 384.7 L1405.5 379.4 L1406.0 375.7 L1406.6 373.5 L1407.1 372.8 L1407.7 373.8 L1408.2 376.2 L1408.7 380.2 L1409.3 385.7 L1409.8 392.5 L1410.3 400.7 L1410.9 410.1 L1411.4 420.6 L1411.9 432.1 L1412.5 444.5 L1413.0 457.6 L1413.6 471.4 L1414.1 485.5 L1414.6 500.0 L1415.2 514.6 L1415.7 529.2 L1416.2 543.6 L1416.8 557.7 L1417.3 571.3 L1417.9 584.3 L1418.4 596.6 L1418.9 607.9 L1419.5 618.3 L1420.0 627.5 L1420.5 635.6 L1421.1 642.3 L1421.6 647.8 L1422.1 651.8 L1422.7 654.4 L1423.2 655.5 L1423.8 655.2 L1424.3 653.4 L1424.8 650.2 L1425.4 645.6 L1425.9 639.7 L1426.4 632.5 L1427.0 624.1 L1427.5 614.6 L1428.1 604.2 L1428.6 592.9 L1429.1 580.9 L1429.7 568.2 L1430.2 555.1 L1430.7 541.7 L1431.3 528.0 L1431.8 514.4 L1432.3 500.8 L1432.9 487.5 L1433.4 474.6 L1434.0 462.2 L1434.5 450.5 L1435.0 439.6 L1435.6 429.5 L1436.1 420.5 L1436.6 412.5 L1437.2 405.8 L1437.7 400.2 L1438.3 396.0 L1438.8 393.1 L1439.3 391.5 L1439.9 391.3 L1440.4 392.5 L1440.9 395.0 L1441.5 398.8 L1442.0 403.9 L1442.5 410.2 L1443.1 417.7 L1443.6 426.1 L1444.2 435.6 L1444.7 445.9 L1445.2 456.9 L1445.8 468.5 L1446.3 480.6 L1446.8 493.1 L1447.4 505.8 L1447.9 518.6 L1448.5 531.3 L1449.0 543.8 L1449.5 556.0 L1450.1 567.8 L1450.6 579.0 L1451.1 589.5 L1451.7 599.2 L1452.2 608.0 L1452.7 615.8 L1453.3 622.6 L1453.8 628.2 L1454.4 632.6 L1454.9 635.8 L1455.4 637.7 L1456.0 638.4 L1456.5 637.7 L1457.0 635.8 L1457.6 632.7 L1458.1 628.4 L1458.6 622.9 L1459.2 616.3 L1459.7 608.7 L1460.3 600.2 L1460.8 590.9 L1461.3 580.8 L1461.9 570.2 L1462.4 559.0 L1462.9 547.4 L1463.5 535.6 L1464.0 523.7 L1464.6 511.8 L1465.1 500.0 L1465.6 488.4 L1466.2 477.3 L1466.7 466.6 L1467.2 456.5 L1467.8 447.2 L1468.3 438.6 L1468.8 431.0 L1469.4 424.3 L1469.9 418.6 L1470.5 414.1 L1471.0 410.7 L1471.5 408.4 L1472.1 407.4 L1472.6 407.6 L1473.1 408.9 L1473.7 411.4 L1474.2 415.0 L1474.8 419.8 L1475.3 425.6 L1475.8 432.3 L1476.4 439.9 L1476.9 448.4 L1477.4 457.6 L1478.0 467.3 L1478.5 477.6 L1479.0 488.3 L1479.6 499.3 L1480.1 510.4 L1480.7 521.6 L1481.2 532.7 L1481.7 543.6 L1482.3 554.1 L1482.8 564.3 L1483.3 573.9 L1483.9 582.9 L1484.4 591.2 L1485.0 598.7 L1485.5 605.3 L1486.0 610.9 L1486.6 615.6 L1487.1 619.1 L1487.6 621.6 L1488.2 623.0 L1488.7 623.3 L1489.2 622.4 L1489.8 620.5 L1490.3 617.5 L1490.9 613.4 L1491.4 608.4 L1491.9 602.4 L1492.5 595.5 L1493.0 587.9 L1493.5 579.6 L1494.1 570.6 L1494.6 561.2 L1495.1 551.3 L1495.7 541.1 L1496.2 530.4 L1496.8 518.3 L1497.3 504.9 L1497.8 490.4 L1498.4 475.0 L1498.9 458.8 L1499.4 442.1 L1500.0 424.9 L1500.5 407.5 L1501.1 390.0 L1501.6 372.7 L1502.1 355.7 L1502.7 339.2 L1503.2 323.4 L1503.7 308.5 L1504.3 294.5 L1504.8 281.7 L1505.3 270.2 L1505.9 260.0 L1506.4 251.4 L1507.0 244.4 L1507.5 239.0 L1508.0 235.3 L1508.6 233.3 L1509.1 233.1 L1509.6 234.6 L1510.2 237.9 L1510.7 242.8 L1511.3 249.4 L1511.8 257.4 L1512.3 267.0 L1512.9 277.8 L1513.4 289.9 L1513.9 303.1 L1514.5 317.2 L1515.0 332.0 L1515.5 347.5 L1516.1 363.5 L1516.6 379.7 L1517.2 396.0 L1517.7 412.3 L1518.2 428.3 L1518.8 443.9 L1519.3 458.9 L1519.8 473.2 L1520.4 486.6 L1520.9 499.0 L1521.5 510.2 L1522.0 520.2 L1522.5 528.8 L1523.1 535.9 L1523.6 541.6 L1524.1 545.6 L1524.7 548.0 L1525.2 548.8 L1525.7 548.0 L1526.3 545.5 L1526.8 541.5 L1527.4 535.9 L1527.9 528.9 L1528.4 520.5 L1529.0 510.8 L1529.5 499.9 L1530.0 487.9 L1530.6 475.1 L1531.1 461.4 L1531.7 447.1 L1532.2 432.3 L1532.7 417.2 L1533.3 402.0 L1533.8 386.7 L1534.3 371.7 L1534.9 356.9 L1535.4 342.7 L1535.9 329.0 L1536.5 316.2 L1537.0 304.2 L1537.6 293.3 L1538.1 283.6 L1538.6 275.1 L1539.2 267.9 L1539.7 262.1 L1540.2 257.8 L1540.8 254.9 L1541.3 253.6 L1541.8 253.9 L1542.4 255.6 L1542.9 258.8 L1543.5 263.5 L1544.0 269.6 L1544.5 277.0 L1545.1 285.7 L1545.6 295.4 L1546.1 306.3 L1546.7 318.0 L1547.2 330.5 L1547.8 343.7 L1548.3 357.3 L1548.8 371.4 L1549.4 385.6 L1549.9 399.9 L1550.4 414.0 L1551.0 427.9 L1551.5 441.5 L1552.0 454.4 L1552.6 466.7 L1553.1 478.2 L1553.7 488.8 L1554.2 498.3 L1554.7 506.7 L1555.3 513.9 L1555.8 519.8 L1556.3 524.3 L1556.9 527.5 L1557.4 529.2 L1558.0 529.5 L1558.5 528.4 L1559.0 525.9 L1559.6 522.0 L1560.1 516.8 L1560.6 510.3 L1561.2 502.7 L1561.7 493.9 L1562.2 484.1 L1562.8 473.5 L1563.3 462.0 L1563.9 449.9 L1564.4 437.3 L1564.9 424.3 L1565.5 411.1 L1566.0 397.7 L1566.5 384.4 L1567.1 371.3 L1567.6 358.5 L1568.2 346.2 L1568.7 334.4 L1569.2 323.4 L1569.8 313.2 L1570.3 303.9 L1570.8 295.7 L1571.4 288.5 L1571.9 282.6 L1572.4 277.9 L1573.0 274.4 L1573.5 272.3 L1574.1 271.5 L1574.6 272.1 L1575.1 273.9 L1575.7 277.1 L1576.2 281.5 L1576.7 287.2 L1577.3 293.9 L1577.8 301.8 L1578.3 310.6 L1578.9 320.3 L1579.4 330.7 L1580.0 341.8 L1580.5 353.4 L1581.0 365.5 L1581.6 377.8 L1582.1 390.2 L1582.6 402.7 L1583.2 415.0 L1583.7 427.1 L1584.3 438.8 L1584.8 450.0 L1585.3 460.6 L1585.9 470.4 L1586.4 479.4 L1586.9 487.5 L1587.5 494.6 L1588.0 500.6 L1588.5 505.4 L1589.1 509.0 L1589.6 511.5 L1590.2 512.7 L1590.7 512.6 L1591.2 511.3 L1591.8 508.8 L1592.3 505.1 L1592.8 500.2 L1593.4 494.3 L1593.9 487.3 L1594.5 479.4 L1595.0 470.6 L1595.5 461.1 L1596.1 451.0 L1596.6 440.3 L1597.1 429.1 L1597.7 417.7 L1598.2 406.1 L1598.7 394.4 L1599.3 382.8 L1599.8 371.4 L1600.4 360.3 L1600.9 349.7 L1601.4 339.6 L1602.0 330.1 L1602.5 321.4 L1603.0 313.5 L1603.6 307.4 L1604.1 303.5 L1604.7 302.0 L1605.2 302.7 L1605.7 305.8 L1606.3 311.2 L1606.8 318.7 L1607.3 328.3 L1607.9 340.0 L1608.4 353.4 L1608.9 368.6 L1609.5 385.4 L1610.0 403.4 L1610.6 422.7 L1611.1 442.9 L1611.6 463.8 L1612.2 485.2 L1612.7 506.8 L1613.2 528.5 L1613.8 550.0 L1614.3 571.1 L1614.9 591.5 L1615.4 611.1 L1615.9 629.6 L1616.5 646.8 L1617.0 662.6 L1617.5 676.8 L1618.1 689.2 L1618.6 699.8 L1619.1 708.4 L1619.7 714.9 L1620.2 719.3 L1620.8 721.5 L1621.3 721.6 L1621.8 719.5 L1622.4 715.3 L1622.9 709.0 L1623.4 700.7 L1624.0 690.5 L1624.5 678.5 L1625.0 664.9 L1625.6 649.7 L1626.1 633.3 L1626.7 615.7 L1627.2 597.1 L1627.7 577.8 L1628.3 557.9 L1628.8 537.7 L1629.3 517.4 L1629.9 497.2 L1630.4 477.4 L1631.0 458.0 L1631.5 439.4 L1632.0 421.7 L1632.6 405.2 L1633.1 389.9 L1633.6 376.1 L1634.2 363.8 L1634.7 353.3 L1635.2 344.6 L1635.8 337.8 L1636.3 332.9 L1636.9 330.1 L1637.4 329.3 L1637.9 330.5 L1638.5 333.7 L1639.0 338.9 L1639.5 346.0 L1640.1 354.9 L1640.6 365.5 L1641.2 377.7 L1641.7 391.3 L1642.2 406.3 L1642.8 422.4 L1643.3 439.4 L1643.8 457.3 L1644.4 475.7 L1644.9 494.4 L1645.4 513.4 L1646.0 532.4 L1646.5 551.1 L1647.1 569.4 L1647.6 587.0 L1648.1 603.9 L1648.7 619.8 L1649.2 634.5 L1649.7 647.9 L1650.3 659.9 L1650.8 670.4 L1651.4 679.2 L1651.9 686.2 L1652.4 691.4 L1653.0 694.8 L1653.5 696.2 L1654.0 695.8 L1654.6 693.5 L1655.1 689.3 L1655.6 683.3 L1656.2 675.6 L1656.7 666.3 L1657.3 655.4 L1657.8 643.1 L1658.3 629.5 L1658.9 614.9 L1659.4 599.2 L1659.9 582.8 L1660.5 565.8 L1661.0 548.3 L1661.5 530.6 L1662.1 512.9 L1662.6 495.3 L1663.2 478.0 L1663.7 461.3 L1664.2 445.2 L1664.8 430.0 L1665.3 415.8 L1665.8 402.8 L1666.4 391.1 L1666.9 380.8 L1667.5 372.0 L1668.0 364.8 L1668.5 359.3 L1669.1 355.5 L1669.6 353.5 L1670.1 353.3 L1670.7 354.8 L1671.2 358.1 L1671.7 363.1 L1672.3 369.7 L1672.8 377.9 L1673.4 387.5 L1673.9 398.5 L1674.4 410.8 L1675.0 424.1 L1675.5 438.4 L1676.0 453.5 L1676.6 469.3 L1677.1 485.5 L1677.7 501.9 L1678.2 518.5 L1678.7 535.0 L1679.3 551.3 L1679.8 567.2 L1680.3 582.4 L1680.9 597.0 L1681.4 610.6 L1681.9 623.2 L1682.5 634.6 L1683.0 644.7 L1683.6 653.5 L1684.1 660.8 L1684.6 666.5 L1685.2 670.6 L1685.7 673.1 L1686.2 674.0 L1686.8 673.1 L1687.3 670.7 L1687.9 666.6 L1688.4 661.0 L1688.9 653.8 L1689.5 645.3 L1690.0 635.5 L1690.5 624.4 L1691.1 612.3 L1691.6 599.2 L1692.1 585.4 L1692.7 570.9 L1693.2 555.9 L1693.8 540.5 L1694.3 525.0 L1694.8 509.6 L1695.4 494.2 L1695.9 479.3 L1696.4 464.8 L1697.0 450.9 L1697.5 437.8 L1698.1 425.7 L1698.6 414.6 L1699.1 404.7 L1699.7 396.0 L1700.2 388.7 L1700.7 382.8 L1701.3 378.4 L1701.8 375.5 L1702.3 374.1 L1702.9 374.3 L1703.4 376.1 L1704.0 379.4 L1704.5 384.1 L1705.0 390.2 L1705.6 397.8 L1706.1 406.5 L1706.6 416.4 L1707.2 427.4 L1707.7 439.3 L1708.2 452.0 L1708.8 465.4 L1709.3 479.3 L1709.9 493.5 L1710.4 507.9 L1710.9 522.4 L1711.5 536.8 L1712.0 551.0 L1712.5 564.7 L1713.1 577.9 L1713.6 590.4 L1714.2 602.1 L1714.7 612.8 L1715.2 622.5 L1715.8 631.1 L1716.3 638.4 L1716.8 644.4 L1717.4 649.0 L1717.9 652.2 L1718.4 654.0 L1719.0 654.4 L1719.5 653.3 L1720.1 650.7 L1720.6 646.8 L1721.1 641.5 L1721.7 635.0 L1722.2 627.2 L1722.7 618.3 L1723.3 608.4 L1723.8 597.6 L1724.4 586.0 L1724.9 573.7 L1725.4 560.9 L1726.0 547.7 L1726.5 534.2 L1727.0 520.7 L1727.6 507.2 L1728.1 493.8 L1728.6 480.8 L1729.2 468.3 L1729.7 456.4 L1730.3 445.1 L1730.8 434.8 L1731.3 425.3 L1731.9 416.9 L1732.4 409.7 L1732.9 403.6 L1733.5 398.8 L1734.0 395.3 L1734.6 393.1 L1735.1 392.3 L1735.6 392.8 L1736.2 394.7 L1736.7 397.9 L1737.2 402.4 L1737.8 408.1 L1738.3 415.0 L1738.8 422.9 L1739.4 431.8 L1739.9 441.6 L1740.5 452.2 L1741.0 463.5 L1741.5 475.3 L1742.1 487.5 L1742.6 500.0 L1743.1 512.7 L1743.7 525.4 L1744.2 537.9 L1744.8 550.2 L1745.3 562.1 L1745.8 573.4 L1746.4 584.2 L1746.9 594.2 L1747.4 603.3 L1748.0 611.6 L1748.5 618.8 L1749.0 624.8 L1749.6 629.8 L1750.1 633.5 L1750.7 636.0 L1751.2 637.2 L1751.7 637.2 L1752.3 635.9 L1752.8 633.3 L1753.3 629.6 L1753.9 624.7 L1754.4 618.7 L1754.9 611.6 L1755.5 603.6 L1756.0 594.7 L1756.6 585.0 L1757.1 574.7 L1757.6 563.8 L1758.2 552.5 L1758.7 540.9 L1759.2 529.1 L1759.8 517.3 L1760.3 505.5 L1760.9 493.9 L1761.4 482.7 L1761.9 471.8 L1762.5 461.6 L1763.0 452.0 L1763.5 443.1 L1764.1 435.1 L1764.6 428.0 L1765.1 421.9 L1765.7 416.9 L1766.2 413.0 L1766.8 410.2 L1767.3 408.7 L1767.8 408.3 L1768.4 409.0 L1768.9 411.0 L1769.4 414.1 L1770.0 418.3 L1770.5 423.6 L1771.1 429.8 L1771.6 437.0 L1772.1 445.0 L1772.7 453.8 L1773.2 463.2 L1773.7 473.2 L1774.3 483.6 L1774.8 494.4 L1775.3 505.4 L1775.9 516.4 L1776.4 527.5 L1777.0 538.4 L1777.5 549.0 L1778.0 559.3 L1778.6 569.1 L1779.1 578.4 L1779.6 586.9 L1780.2 594.7 L1780.7 601.7 L1781.3 607.7 L1781.8 612.8 L1782.3 616.8 L1782.9 619.8 L1783.4 621.7 L1783.9 622.4 L1784.5 622.1 L1785.0 620.7 L1785.5 618.2 L1786.1 614.6 L1786.6 610.1 L1787.2 604.5 L1787.7 598.1 L1788.2 590.9 L1788.8 583.0 L1789.3 574.4 L1789.8 565.2 L1790.4 555.6 L1790.9 545.6 L1791.4 535.4 L1792.0 525.1 L1792.5 514.8 L1793.1 504.5 L1793.6 494.4 L1794.1 484.7 L1794.7 475.3 L1795.2 466.5 L1795.7 458.3 L1796.3 450.7 L1796.8 443.9 L1797.4 437.9 L1797.9 432.9 L1798.4 428.7 L1799.0 425.6 L1799.5 423.5 L1800.0 422.4 L1800.6 422.3 L1801.1 423.2 L1801.6 425.2 L1802.2 428.2 L1802.7 432.1 L1803.3 436.9 L1803.8 442.6 L1804.3 449.1 L1804.9 456.3 L1805.4 464.1 L1805.9 472.5 L1806.5 481.3 L1807.0 490.6 L1807.6 500.0 L1808.1 509.6 L1808.6 519.3 L1809.2 529.0 L1809.7 538.4 L1810.2 547.7 L1810.8 556.6 L1811.3 565.0 L1811.8 572.9 L1812.4 580.2 L1812.9 586.9 L1813.5 592.7 L1814.0 597.8 L1814.5 602.0 L1815.1 605.3 L1815.6 607.6 L1816.1 609.0 L1816.7 609.4 L1817.2 608.9 L1817.8 607.4 L1818.3 604.9 L1818.8 601.6 L1819.4 597.4 L1819.9 592.3 L1820.4 586.6 L1821.0 580.1 L1821.5 573.0 L1822.0 565.3 L1822.6 557.2 L1823.1 548.7 L1823.7 539.9 L1824.2 531.0 L1824.7 521.9 L1825.3 512.9 L1825.8 504.0 L1826.3 495.2 L1826.9 486.8 L1827.4 478.7 L1828.0 471.1 L1828.5 464.1 L1829.0 457.7 L1829.6 451.9 L1830.1 446.9 L1830.6 442.7 L1831.2 439.3 L1831.7 436.8 L1832.2 435.1 L1832.8 434.4 L1833.3 434.6 L1833.9 435.7 L1834.4 437.6 L1834.9 440.4 L1835.5 444.1 L1836.0 448.5 L1836.5 453.7 L1837.1 459.5 L1837.6 466.0 L1838.1 472.9 L1838.7 480.4 L1839.2 488.2 L1839.8 496.3 L1840.3 504.6 L1840.8 513.1 L1841.4 521.5 L1841.9 529.9 L1842.4 538.2 L1843.0 546.2 L1843.5 553.8 L1844.1 561.1 L1844.6 567.9 L1845.1 574.1 L1845.7 579.7 L1846.2 584.7 L1846.7 588.9 L1847.3 592.4 L1847.8 595.0 L1848.3 596.8 L1848.9 597.8 L1849.4 598.0 L1850.0 597.3 L1850.5 595.7 L1851.0 593.4 L1851.6 590.3 L1852.1 586.4 L1852.6 581.8 L1853.2 576.6 L1853.7 570.8 L1854.3 564.4 L1854.8 557.6 L1855.3 550.4 L1855.9 542.9 L1856.4 535.2 L1856.9 527.4 L1857.5 519.4 L1858.0 511.6 L1858.5 503.8 L1859.1 496.2 L1859.6 488.9 L1860.2 482.0 L1860.7 475.5 L1861.2 469.4 L1861.8 464.0 L1862.3 459.1 L1862.8 454.9 L1863.4 451.4 L1863.9 448.7 L1864.5 446.7 L1865.0 445.4 L1865.5 445.0 L1866.1 445.4 L1866.6 446.5 L1867.1 448.5 L1867.7 451.1 L1868.2 454.5 L1868.7 458.5 L1869.3 463.2 L1869.8 468.4 L1870.4 474.2 L1870.9 480.4 L1871.4 487.0 L1872.0 493.9 L1872.5 501.1 L1873.0 508.4 L1873.6 515.8 L1874.1 523.2 L1874.6 530.5 L1875.2 537.6 L1875.7 544.6 L1876.3 551.2 L1876.8 557.4 L1877.3 563.2 L1877.9 568.5 L1878.4 573.3 L1878.9 577.4 L1879.5 581.0 L1880.0 583.8 L1880.6 585.9 L1881.1 587.3 L1881.6 588.0 L1882.2 587.9 L1882.7 587.1 L1883.2 585.6 L1883.8 583.4 L1884.3 580.5 L1884.8 576.9 L1885.4 572.7 L1885.9 568.0 L1886.5 562.8 L1887.0 557.1 L1887.5 551.1 L1888.1 544.7 L1888.6 538.1 L1889.1 531.3 L1889.7 524.5 L1890.2 517.5 L1890.8 510.7 L1891.3 503.9 L1891.8 497.4 L1892.4 491.1 L1892.9 485.1 L1893.4 479.5 L1894.0 474.4 L1894.5 469.7 L1895.0 465.6 L1895.6 462.1 L1896.1 459.2 L1896.7 457.0 L1897.2 455.4 L1897.7 454.5 L1898.3 454.4 L1898.8 454.9 L1899.3 456.0 L1899.9 457.9 L1900.4 460.4 L1901.0 463.5 L1901.5 467.2 L1902.0 471.4 L1902.6 476.1 L1903.1 481.3 L1903.6 486.8 L1904.2 492.6 L1904.7 498.7 L1905.2 505.0 L1905.8 511.4 L1906.3 517.9 L1906.9 524.3 L1907.4 530.7 L1907.9 536.9 L1908.5 542.9 L1909.0 548.6 L1909.5 554.0 L1910.1 558.9 L1910.6 563.4 L1911.2 567.5 L1911.7 571.0 L1912.2 573.9 L1912.8 576.2 L1913.3 577.9 L1913.8 578.9 L1914.4 579.4 L1914.9 579.1 L1915.4 578.2 L1916.0 576.7 L1916.5 574.6 L1917.1 571.9 L1917.6 568.7 L1918.1 564.9 L1918.7 560.7 L1919.2 556.0 L1919.7 551.0 L1920.3 545.6 L1920.8 540.0 L1921.3 534.1 L1921.9 528.2 L1922.4 522.2 L1923.0 516.1 L1923.5 510.1 L1924.0 504.3 L1924.6 498.6 L1925.1 493.2 L1925.6 488.0 L1926.2 483.2 L1926.7 478.8 L1927.3 474.9 L1927.8 471.5 L1928.3 468.5 L1928.9 466.2 L1929.4 464.4 L1929.9 463.2 L1930.5 462.5 L1931.0 462.5 L1931.5 463.1 L1932.1 464.3 L1932.6 466.1 L1933.2 468.4 L1933.7 471.3 L1934.2 474.6 L1934.8 478.4 L1935.3 482.7 L1935.8 487.3 L1936.4 492.2 L1936.9 497.3 L1937.5 502.7 L1938.0 508.3 L1938.5 513.9 L1939.1 519.5 L1939.6 525.2 L1940.1 530.7 L1940.7 536.1 L1941.2 541.2 L1941.7 546.1 L1942.3 550.7 L1942.8 555.0 L1943.4 558.8 L1943.9 562.2 L1944.4 565.1 L1945.0 567.5 L1945.5 569.4 L1946.0 570.8 L1946.6 571.5 L1947.1 571.7 L1947.7 571.4 L1948.2 570.5 L1948.7 569.0 L1949.3 567.0 L1949.8 564.5 L1950.3 561.6 L1950.9 558.2 L1951.4 554.4 L1951.9 550.2 L1952.5 545.7 L1953.0 541.0 L1953.6 536.0 L1954.1 530.9 L1954.6 525.6 L1955.2 520.3 L1955.7 515.1 L1956.2 509.9 L1956.8 504.8 L1957.3 499.9 L1957.8 495.2 L1958.4 490.8 L1958.9 486.7 L1959.5 482.9 L1960.0 479.6 L1960.5 476.7 L1961.1 474.3 L1961.6 472.3 L1962.1 470.9 L1962.7 470.0 L1963.2 469.6 L1963.8 469.7 L1964.3 470.4 L1964.8 471.6 L1965.4 473.3 L1965.9 475.4 L1966.4 478.0 L1967.0 481.1 L1967.5 484.5 L1968.0 488.3 L1968.6 492.4 L1969.1 496.7 L1969.7 501.3 L1970.2 506.0 L1970.7 510.9 L1971.3 515.8 L1971.8 520.8 L1972.3 525.7 L1972.9 530.5 L1973.4 535.1 L1974.0 539.6 L1974.5 543.8 L1975.0 547.8 L1975.6 551.4 L1976.1 554.6 L1976.6 557.5 L1977.2 559.9 L1977.7 561.9 L1978.2 563.4 L1978.8 564.5 L1979.3 565.0 L1979.9 565.1 L1980.4 564.6 L1980.9 563.7 L1981.5 562.3 L1982.0 560.4 L1982.5 558.2 L1983.1 555.5 L1983.6 552.4 L1984.2 549.0 L1984.7 545.2 L1985.2 541.2 L1985.8 537.0 L1986.3 532.7 L1986.8 528.1 L1987.4 523.6 L1987.9 518.9 L1988.4 514.3 L1989.0 509.8 L1989.5 505.4 L1990.1 501.2 L1990.6 497.1 L1991.1 493.3 L1991.7 489.8 L1992.2 486.7 L1992.7 483.9 L1993.3 481.4 L1993.8 479.4 L1994.4 477.8 L1994.9 476.7 L1995.4 476.0 L1996.0 475.8 L1996.5 476.0 L1997.0 476.7 L1997.6 477.9 L1998.1 479.5 L1998.6 481.5 L1999.2 483.8 L1999.7 486.6 L2000.3 489.7 L2000.8 493.1 L2001.3 496.7 L2001.9 500.6 L2002.4 504.6 L2002.9 508.8 L2003.5 513.1 L2004.0 517.4 L2004.5 521.7 L2005.1 525.9 L2005.6 530.1 L2006.2 534.1 L2006.7 538.0 L2007.2 541.6 L2007.8 545.0 L2008.3 548.1 L2008.8 550.8 L2009.4 553.2 L2009.9 555.3 L2010.5 556.9 L2011.0 558.1 L2011.5 558.9 L2012.1 559.3 L2012.6 559.2 L2013.1 558.7 L2013.7 557.8 L2014.2 556.4 L2014.7 554.7 L2015.3 552.6 L2015.8 550.2 L2016.4 547.4 L2016.9 544.3 L2017.4 541.0 L2018.0 537.5 L2018.5 533.8 L2019.0 529.9 L2019.6 525.9 L2020.1 521.9 L2020.7 517.9 L2021.2 513.9 L2021.7 509.9 L2022.3 506.1 L2022.8 502.4 L2023.3 499.0 L2023.9 495.7 L2024.4 492.7 L2024.9 490.0 L2025.5 487.7 L2026.0 485.7 L2026.6 484.0 L2027.1 482.7 L2027.6 481.8 L2028.2 481.3 L2028.7 481.3 L2029.2 481.6 L2029.8 482.3 L2030.3 483.4 L2030.9 484.9 L2031.4 486.7 L2031.9 488.9 L2032.5 491.4 L2033.0 494.1 L2033.5 497.2 L2034.1 500.4 L2034.6 503.8 L2035.1 507.4 L2035.7 511.1 L2036.2 514.8 L2036.8 518.6 L2037.3 522.3 L2037.8 526.0 L2038.4 529.7 L2038.9 533.1 L2039.4 536.5 L2040.0 539.6 L2040.5 542.5 L2041.0 545.1 L2041.6 547.4 L2042.1 549.4 L2042.7 551.1 L2043.2 552.4 L2043.7 553.4 L2044.3 554.0 L2044.8 554.2 L2045.3 554.0 L2045.9 553.5 L2046.4 552.6 L2047.0 551.4 L2047.5 549.8 L2048.0 547.8 L2048.6 545.6 L2049.1 543.1 L2049.6 540.4 L2050.2 537.4 L2050.7 534.3 L2051.2 531.0 L2051.8 527.6 L2052.3 524.1 L2052.9 520.6 L2053.4 517.1 L2053.9 513.6 L2054.5 510.2 L2055.0 506.9 L2055.5 503.7 L2056.1 500.7 L2056.6 497.9 L2057.2 495.4 L2057.7 493.1 L2058.2 491.1 L2058.8 489.4 L2059.3 488.1 L2059.8 487.0 L2060.4 486.4 L2060.9 486.0 L2061.4 486.0 L2062.0 486.4 L2062.5 487.1 L2063.1 488.2 L2063.6 489.6 L2064.1 491.2 L2064.7 493.2 L2065.2 495.5 L2065.7 497.9 L2066.3 500.6 L2066.8 503.5 L2067.4 506.5 L2067.9 509.7 L2068.4 512.9 L2069.0 516.2 L2069.5 519.5 L2070.0 522.8 L2070.6 526.0 L2071.1 529.1 L2071.6 532.1 L2072.2 535.0 L2072.7 537.7 L2073.3 540.1 L2073.8 542.4 L2074.3 544.3 L2074.9 546.0 L2075.4 547.4 L2075.9 548.5 L2076.5 549.2 L2077.0 549.7 L2077.6 549.8 L2078.1 549.5 L2078.6 549.0 L2079.2 548.1 L2079.7 546.9 L2080.2 545.5 L2080.8 543.7 L2081.3 541.7 L2081.8 539.5 L2082.4 537.0 L2082.9 534.4 L2083.5 531.6 L2084.0 528.7 L2084.5 525.7 L2085.1 522.6 L2085.6 519.6 L2086.1 516.5 L2086.7 513.5 L2087.2 510.5 L2087.7 507.6 L2088.3 504.9 L2088.8 502.3 L2089.4 500.0 L2089.9 497.8 L2090.4 495.9 L2091.0 494.2 L2091.5 492.8 L2092.0 491.7 L2092.6 490.9 L2093.1 490.4 L2093.7 490.1 L2094.2 490.2 L2094.7 490.6 L2095.3 491.4 L2095.8 492.4 L2096.3 493.6 L2096.9 495.2 L2097.4 497.0 L2097.9 499.0 L2098.5 501.2 L2099.0 503.6 L2099.6 506.1 L2100.1 508.8 L2100.6 511.6 L2101.2 514.4 L2101.7 517.3 L2102.2 520.2 L2102.8 523.1 L2103.3 525.9 L2103.9 528.6 L2104.4 531.2 L2104.9 533.6 L2105.5 535.9 L2106.0 538.0 L2106.5 539.9 L2107.1 541.5 L2107.6 542.9 L2108.1 544.1 L2108.7 545.0 L2109.2 545.5 L2109.8 545.8 L2110.3 545.9 L2110.8 545.6 L2111.4 545.0 L2111.9 544.2 L2112.4 543.1 L2113.0 541.7 L2113.5 540.1 L2114.1 538.3 L2114.6 536.3 L2115.1 534.1 L2115.7 531.8 L2116.2 529.3 L2116.7 526.8 L2117.3 524.1 L2117.8 521.5 L2118.3 518.8 L2118.9 516.1 L2119.4 513.5 L2120.0 510.9 L2120.5 508.4 L2121.0 506.1 L2121.6 503.9 L2122.1 501.8 L2122.6 500.0 L2123.2 498.4 L2123.7 497.0 L2124.2 495.8 L2124.8 494.9 L2125.3 494.3 L2125.9 493.9 L2126.4 493.8 L2126.9 493.9 L2127.5 494.4 L2128.0 495.0 L2128.5 496.0 L2129.1 497.2 L2129.6 498.6 L2130.2 500.2 L2130.7 502.0 L2131.2 504.0 L2131.8 506.1 L2132.3 508.4 L2132.8 510.7 L2133.4 513.2 L2133.9 515.7 L2134.4 518.2 L2135.0 520.7 L2135.5 523.2 L2136.1 525.6 L2136.6 528.0 L2137.1 530.2 L2137.7 532.3 L2138.2 534.3 L2138.7 536.1 L2139.3 537.7 L2139.8 539.0 L2140.4 540.2 L2140.9 541.1 L2141.4 541.8 L2142.0 542.3 L2142.5 542.5 L2143.0 542.4 L2143.6 542.1 L2144.1 541.6 L2144.6 540.8 L2145.2 539.8 L2145.7 538.5 L2146.3 537.1 L2146.8 535.4 L2147.3 533.6 L2147.9 531.7 L2148.4 529.6 L2148.9 527.4 L2149.5 525.2 L2150.0 522.9 L2150.6 520.5 L2151.1 518.2 L2151.6 515.8 L2152.2 513.5 L2152.7 511.3 L2153.2 509.2 L2153.8 507.2 L2154.3 505.3 L2154.8 503.5 L2155.4 502.0 L2155.9 500.6 L2156.5 499.4 L2157.0 498.5 L2157.5 497.8 L2158.1 497.3 L2158.6 497.0 L2159.1 497.0 L2159.7 497.2 L2160.2 497.6 L2160.8 498.2 L2161.3 499.1 L2161.8 500.2 L2162.4 501.5 L2162.9 502.9 L2163.4 504.6 L2164.0 506.3 L2164.5 508.2 L2165.0 510.2 L2165.6 512.3 L2166.1 514.5 L2166.7 516.7 L2167.2 518.9 L2167.7 521.1 L2168.3 523.2 L2168.8 525.3 L2169.3 527.4 L2169.9 529.3 L2170.4 531.1 L2170.9 532.8 L2171.5 534.3 L2172.0 535.6 L2172.6 536.8 L2173.1 537.8 L2173.6 538.5 L2174.2 539.1 L2174.7 539.4 L2175.2 539.5 L2175.8 539.4 L2176.3 539.1 L2176.9 538.6 L2177.4 537.8 L2177.9 536.9 L2178.5 535.7 L2179.0 534.4 L2179.5 533.0 L2180.1 531.4 L2180.6 529.6 L2181.1 527.8 L2181.7 525.9 L2182.2 523.9 L2182.8 521.8 L2183.3 519.8 L2183.8 517.7 L2184.4 515.7 L2184.9 513.7 L2185.4 511.8 L2186.0 509.9 L2186.5 508.2 L2187.1 506.6 L2187.6 505.1 L2188.1 503.8 L2188.7 502.6 L2189.2 501.7 L2189.7 500.9 L2190.3 500.3 L2190.8 499.9 L2191.3 499.7 L2191.9 499.8 L2192.4 500.0 L2193.0 500.4 L2193.5 501.0 L2194.0 501.9 L2194.6 502.8 L2195.1 504.0 L2195.6 505.3 L2196.2 506.8 L2196.7 508.4 L2197.3 510.0 L2197.8 511.8 L2198.3 513.7 L2198.9 515.6 L2199.4 517.5 L2199.9 519.4 L2200.5 521.3 L2201.0 523.2 L2201.5 525.0 L2202.1 526.8 L2202.6 528.4 L2203.2 530.0 L2203.7 531.4 L2204.2 532.7 L2204.8 533.8 L2205.3 534.8 L2205.8 535.6 L2206.4 536.2 L2206.9 536.6 L2207.5 536.9 L2208.0 536.9 L2208.5 536.8 L2209.1 536.5 L2209.6 535.9 L2210.1 535.2 L2210.7 534.4 L2211.2 533.3 L2211.7 532.2 L2212.3 530.8 L2212.8 529.4 L2213.4 527.9 L2213.9 526.2 L2214.4 524.5 L2215.0 522.8 L2215.5 521.0 L2216.0 519.2 L2216.6 517.4 L2217.1 515.6 L2217.6 513.9 L2218.2 512.2 L2218.7 510.7 L2219.3 509.2 L2219.8 507.8 L2220.3 506.5 L2220.9 505.4 L2221.4 504.4 L2221.9 503.6 L2222.5 503.0 L2223.0 502.5 L2223.6 502.2 L2224.1 502.1 L2224.6 502.2 L2225.2 502.5 L2225.7 502.9 L2226.2 503.5 L2226.8 504.2 L2227.3 505.1 L2227.8 506.2 L2228.4 507.4 L2228.9 508.7 L2229.5 510.1 L2230.0 511.6 L2230.5 513.1 L2231.1 514.8 L2231.6 516.4 L2232.1 518.1 L2232.7 519.8 L2233.2 521.5 L2233.8 523.1 L2234.3 524.7 L2234.8 526.2 L2235.4 527.6 L2235.9 528.9 L2236.4 530.1 L2237.0 531.2 L2237.5 532.2 L2238.0 533.0 L2238.6 533.7 L2239.1 534.2 L2239.7 534.5 L2240.2 534.7 L2240.7 534.6 L2241.3 534.5 L2241.8 534.1 L2242.3 533.6 L2242.9 533.0 L2243.4 532.2 L2244.0 531.3 L2244.5 530.2 L2245.0 529.0 L2245.6 527.7 L2246.1 526.4 L2246.6 524.9 L2247.2 523.4 L2247.7 521.9 L2248.2 520.3 L2248.8 518.7 L2249.3 517.2 L2249.9 515.6 L2250.4 514.1 L2250.9 512.7 L2251.5 511.3 L2252.0 510.1 L2252.5 508.9 L2253.1 507.8 L2253.6 506.9 L2254.1 506.1 L2254.7 505.4 L2255.2 504.9 L2255.8 504.5 L2256.3 504.3 L2256.8 504.3 L2257.4 504.4 L2257.9 504.6 L2258.4 505.0 L2259.0 505.6 L2259.5 506.3 L2260.1 507.1 L2260.6 508.1 L2261.1 509.1 L2261.7 510.3 L2262.2 511.5 L2262.7 512.9 L2263.3 514.2 L2263.8 515.7 L2264.3 517.1 L2264.9 518.6 L2265.4 520.1 L2266.0 521.5 L2266.5 522.9 L2267.0 524.3 L2267.6 525.6 L2268.1 526.8 L2268.6 528.0 L2269.2 529.0 L2269.7 529.9 L2270.3 530.7 L2270.8 531.4 L2271.3 531.9 L2271.9 532.3 L2272.4 532.6 L2272.9 532.7 L2273.5 532.6 L2274.0 532.5 L2274.5 532.1 L2275.1 531.7 L2275.6 531.1 L2276.2 530.3 L2276.7 529.5 L2277.2 528.5 L2277.8 527.5 L2278.3 526.3 L2278.8 525.1 L2279.4 523.8 L2279.9 522.5 L2280.5 521.2 L2281.0 519.8 L2281.5 518.4 L2282.1 517.0 L2282.6 515.7 L2283.1 514.4 L2283.7 513.2 L2284.2 512.0 L2284.7 510.9 L2285.3 509.9 L2285.8 509.0 L2286.4 508.2 L2286.9 507.5 L2287.4 507.0 L2288.0 506.6 L2288.5 506.3 L2289.0 506.1 L2289.6 506.1 L2290.1 506.2 L2290.7 506.5 L2291.2 506.9 L2291.7 507.4 L2292.3 508.1 L2292.8 508.8 L2293.3 509.7 L2293.9 510.6 L2294.4 511.7 L2294.9 512.8 L2295.5 513.9 L2296.0 515.2 L2296.6 516.4 L2297.1 517.7 L2297.6 519.0 L2298.2 520.3 L2298.7 521.5 L2299.2 522.8 L2299.8 523.9 L2300.3 525.1 L2300.8 526.1 L2301.4 527.1 L2301.9 528.0 L2302.5 528.7 L2303.0 529.4 L2303.5 530.0 L2304.1 530.4 L2304.6 530.7 L2305.1 530.9 L2305.7 531.0 L2306.2 530.9 L2306.8 530.7 L2307.3 530.4 L2307.8 529.9 L2308.4 529.4 L2308.9 528.7 L2309.4 527.9 L2310.0 527.1 L2310.5 526.1 L2311.0 525.1 L2311.6 524.0 L2312.1 522.9 L2312.7 521.7 L2313.2 520.6 L2313.7 519.4 L2314.3 518.2 L2314.8 517.0 L2315.3 515.8 L2315.9 514.7 L2316.4 513.6 L2317.0 512.6 L2317.5 511.7 L2318.0 510.8 L2318.6 510.1 L2319.1 509.4 L2319.6 508.8 L2320.2 508.4 L2320.7 508.0 L2321.2 507.8 L2321.8 507.7 L2322.3 507.7 L2322.9 507.9 L2323.4 508.1 L2323.9 508.5 L2324.5 509.0 L2325.0 509.6 L2325.5 510.3 L2326.1 511.1 L2326.6 511.9 L2327.2 512.8 L2327.7 513.8 L2328.2 514.9 L2328.8 515.9 L2329.3 517.0 L2329.8 518.2 L2330.4 519.3 L2330.9 520.4 L2331.4 521.5 L2332.0 522.6 L2332.5 523.6 L2333.1 524.5 L2333.6 525.4 L2334.1 526.3 L2334.7 527.0 L2335.2 527.7 L2335.7 528.2 L2336.3 528.7 L2336.8 529.0 L2337.3 529.3 L2337.9 529.4 L2338.4 529.4 L2339.0 529.4 L2339.5 529.1 L2340.0 528.8 L2340.6 528.4 L2341.1 527.9 L2341.6 527.3 L2342.2 526.6 L2342.7 525.8 L2343.3 525.0 L2343.8 524.1 L2344.3 523.1 L2344.9 522.1 L2345.4 521.1 L2345.9 520.1 L2346.5 519.0 L2347.0 518.0 L2347.5 516.9 L2348.1 515.9 L2348.6 515.0 L2349.2 514.1 L2349.7 513.2 L2350.2 512.4 L2350.8 511.7 L2351.3 511.0 L2351.8 510.5 L2352.4 510.0 L2352.9 509.6 L2353.5 509.4 L2354.0 509.2 L2354.5 509.1 L2355.1 509.2 L2355.6 509.3" fill="none" stroke="#0b72b9" stroke-width="14" stroke-linejoin="round" stroke-linecap="butt"/>
<path d="M208.5 519.0 L209.0 518.1 L209.6 515.5 L210.1 511.2 L210.6 505.3 L211.2 497.8 L211.7 488.9 L212.3 478.7 L212.8 467.2 L213.3 454.6 L213.9 441.1 L214.4 426.8 L214.9 411.8 L215.5 396.4 L216.0 380.7 L216.6 364.8 L217.1 349.1 L217.6 333.5 L218.2 318.4 L218.7 303.8 L219.2 289.9 L219.8 277.0 L220.3 265.0 L220.8 254.2 L221.4 244.6 L221.9 236.4 L222.5 229.7 L223.0 224.5 L223.5 220.8 L224.1 218.8 L224.6 218.4 L225.1 219.6 L225.7 222.4 L226.2 226.9 L226.8 232.9 L227.3 240.3 L227.8 249.2 L228.4 259.3 L228.9 270.7 L229.4 283.1 L230.0 296.4 L230.5 310.6 L231.0 325.4 L231.6 340.7 L232.1 356.4 L232.7 372.2 L233.2 388.0 L233.7 403.7 L234.3 419.1 L234.8 434.0 L235.3 448.2 L235.9 461.7 L236.4 474.4 L236.9 486.0 L237.5 496.4 L238.0 505.6 L238.6 513.5 L239.1 520.0 L239.6 525.1 L240.2 528.6 L240.7 530.7 L241.2 531.2 L241.8 530.1 L242.3 527.6 L242.9 523.6 L243.4 518.3 L243.9 511.5 L244.5 503.6 L245.0 494.5 L245.5 484.3 L246.1 473.2 L246.6 461.3 L247.1 448.7 L247.7 435.7 L248.2 422.2 L248.8 408.5 L249.3 394.8 L249.8 381.1 L250.4 367.7 L250.9 354.6 L251.4 342.1 L252.0 330.2 L252.5 319.2 L253.1 309.0 L253.6 299.9 L254.1 291.8 L254.7 285.0 L255.2 279.5 L255.7 275.3 L256.3 272.5 L256.8 271.1 L257.3 271.1 L257.9 272.6 L258.4 275.4 L259.0 279.7 L259.5 285.2 L260.0 292.1 L260.6 300.1 L261.1 309.3 L261.6 319.5 L262.2 330.6 L262.7 342.4 L263.3 355.0 L263.8 368.1 L264.3 381.6 L264.9 395.4 L265.4 409.3 L265.9 423.1 L266.5 436.8 L267.0 450.2 L267.5 463.2 L268.1 475.6 L268.6 487.3 L269.2 498.2 L269.7 508.1 L270.2 517.1 L270.8 525.0 L271.3 531.7 L271.8 537.1 L272.4 541.3 L272.9 544.2 L273.4 545.8 L274.0 546.0 L274.5 544.9 L275.1 542.5 L275.6 538.8 L276.1 533.9 L276.7 527.9 L277.2 520.8 L277.7 512.7 L278.3 503.7 L278.8 493.9 L279.4 483.5 L279.9 472.5 L280.4 461.1 L281.0 449.3 L281.5 437.4 L282.0 425.5 L282.6 413.7 L283.1 402.1 L283.6 390.9 L284.2 380.1 L284.7 370.0 L285.3 360.6 L285.8 352.0 L286.3 344.3 L286.9 337.6 L287.4 331.9 L287.9 327.4 L288.5 324.1 L289.0 321.9 L289.6 321.1 L290.1 321.4 L290.6 323.0 L291.2 325.9 L291.7 329.9 L292.2 335.1 L292.8 341.3 L293.3 348.6 L293.8 356.9 L294.4 366.0 L294.9 375.9 L295.5 386.5 L296.0 397.7 L296.5 409.3 L297.1 421.2 L297.6 433.3 L298.1 445.5 L298.7 457.6 L299.2 469.6 L299.8 481.3 L300.3 492.6 L300.8 503.3 L301.4 513.5 L301.9 522.9 L302.4 531.5 L303.0 539.1 L303.5 545.9 L304.0 551.5 L304.6 556.1 L305.1 559.6 L305.7 562.0 L306.2 563.1 L306.7 563.1 L307.3 562.0 L307.8 559.7 L308.3 556.4 L308.9 551.9 L309.4 546.5 L310.0 540.2 L310.5 533.0 L311.0 525.1 L311.6 516.5 L312.1 507.4 L312.6 497.7 L313.2 487.8 L313.7 477.6 L314.2 467.3 L314.8 456.9 L315.3 446.7 L315.9 436.7 L316.4 427.1 L316.9 417.9 L317.5 409.2 L318.0 401.2 L318.5 394.0 L319.1 387.5 L319.6 381.9 L320.1 377.3 L320.7 373.6 L321.2 371.0 L321.8 369.5 L322.3 369.0 L322.8 369.6 L323.4 371.3 L323.9 374.1 L324.4 377.9 L325.0 382.7 L325.5 388.4 L326.1 395.1 L326.6 402.5 L327.1 410.7 L327.7 419.5 L328.2 429.0 L328.7 438.8 L329.3 449.1 L329.8 459.6 L330.3 470.3 L330.9 481.0 L331.4 491.6 L332.0 502.1 L332.5 512.3 L333.0 522.1 L333.6 531.5 L334.1 540.2 L334.6 548.4 L335.2 555.8 L335.7 562.4 L336.3 568.1 L336.8 572.9 L337.3 576.8 L337.9 579.7 L338.4 581.6 L338.9 582.5 L339.5 582.3 L340.0 581.2 L340.5 579.1 L341.1 576.0 L341.6 572.0 L342.2 567.2 L342.7 561.6 L343.2 555.2 L343.8 548.3 L344.3 540.7 L344.8 532.7 L345.4 524.3 L345.9 515.6 L346.5 506.8 L347.0 497.8 L347.5 488.9 L348.1 480.1 L348.6 471.5 L349.1 463.2 L349.7 455.4 L350.2 448.0 L350.7 441.2 L351.3 435.1 L351.8 429.7 L352.4 425.0 L352.9 421.2 L353.4 418.3 L354.0 416.3 L354.5 415.2 L355.0 415.1 L355.6 415.9 L356.1 417.7 L356.6 420.3 L357.2 423.9 L357.7 428.4 L358.3 433.6 L358.8 439.6 L359.3 446.4 L359.9 453.7 L360.4 461.6 L360.9 470.0 L361.5 478.8 L362.0 487.8 L362.6 497.1 L363.1 506.5 L363.6 515.9 L364.2 525.2 L364.7 534.4 L365.2 543.3 L365.8 551.9 L366.3 560.0 L366.8 567.6 L367.4 574.6 L367.9 581.0 L368.5 586.7 L369.0 591.6 L369.5 595.7 L370.1 599.0 L370.6 601.4 L371.1 602.9 L371.7 603.5 L372.2 603.3 L372.8 602.2 L373.3 600.2 L373.8 597.4 L374.4 593.9 L374.9 589.6 L375.4 584.6 L376.0 579.0 L376.5 572.9 L377.0 566.3 L377.6 559.3 L378.1 551.9 L378.7 544.4 L379.2 536.7 L379.7 529.0 L380.3 521.3 L380.8 513.7 L381.3 506.3 L381.9 499.2 L382.4 492.5 L383.0 486.3 L383.5 480.5 L384.0 475.4 L384.6 470.9 L385.1 467.1 L385.6 464.0 L386.2 461.7 L386.7 460.2 L387.2 459.5 L387.8 459.6 L388.3 460.6 L388.9 462.3 L389.4 464.9 L389.9 468.3 L390.5 472.4 L391.0 477.2 L391.5 482.6 L392.1 488.7 L392.6 495.3 L393.2 502.4 L393.7 509.8 L394.2 517.6 L394.8 525.6 L395.3 533.8 L395.8 542.1 L396.4 550.4 L396.9 558.6 L397.4 566.6 L398.0 574.4 L398.5 581.8 L399.1 588.9 L399.6 595.5 L400.1 601.6 L400.7 607.1 L401.2 612.0 L401.7 616.2 L402.3 619.7 L402.8 622.4 L403.3 624.4 L403.9 625.7 L404.4 626.1 L405.0 625.8 L405.5 624.7 L406.0 622.9 L406.6 620.4 L407.1 617.2 L407.6 613.4 L408.2 609.0 L408.7 604.1 L409.3 598.7 L409.8 593.0 L410.3 586.9 L410.9 580.5 L411.4 573.9 L411.9 567.3 L412.5 560.6 L413.0 554.0 L413.5 547.5 L414.1 541.2 L414.6 535.1 L415.2 529.4 L415.7 524.1 L416.2 519.3 L416.8 515.0 L417.3 511.2 L417.8 508.1 L418.4 505.6 L418.9 503.9 L419.5 502.8 L420.0 502.4 L420.5 502.7 L421.1 503.8 L421.6 505.6 L422.1 508.0 L422.7 511.2 L423.2 515.0 L423.7 519.3 L424.3 524.3 L424.8 529.8 L425.4 535.7 L425.9 542.0 L426.4 548.6 L427.0 555.5 L427.5 562.6 L428.0 569.9 L428.6 577.2 L429.1 584.5 L429.7 591.6 L430.2 598.7 L430.7 605.5 L431.3 612.0 L431.8 618.1 L432.3 623.9 L432.9 629.2 L433.4 633.9 L433.9 638.1 L434.5 641.7 L435.0 644.7 L435.6 647.0 L436.1 648.7 L436.6 649.7 L437.2 650.0 L437.7 649.7 L438.2 648.7 L438.8 647.0 L439.3 644.8 L439.9 642.0 L440.4 638.6 L440.9 634.7 L441.5 630.4 L442.0 625.7 L442.5 620.7 L443.1 615.4 L443.6 609.8 L444.1 604.2 L444.7 598.4 L445.2 592.7 L445.8 587.0 L446.3 581.4 L446.8 576.0 L447.4 570.8 L447.9 566.0 L448.4 561.6 L449.0 557.5 L449.5 553.9 L450.0 550.8 L450.6 548.3 L451.1 546.3 L451.7 545.0 L452.2 544.2 L452.7 544.1 L453.3 544.6 L453.8 545.7 L454.3 547.5 L454.9 549.8 L455.4 552.8 L456.0 556.3 L456.5 560.3 L457.0 564.8 L457.6 569.7 L458.1 575.0 L458.6 580.6 L459.2 586.6 L459.7 592.7 L460.2 599.0 L460.8 605.4 L461.3 611.8 L461.9 618.3 L462.4 624.6 L462.9 630.7 L463.5 636.7 L464.0 642.4 L464.5 647.7 L465.1 652.7 L465.6 657.3 L466.2 661.4 L466.7 665.1 L467.2 668.2 L467.8 670.7 L468.3 672.7 L468.8 674.1 L469.4 674.9 L469.9 675.1 L470.4 674.8 L471.0 673.8 L471.5 672.4 L472.1 670.4 L472.6 667.9 L473.1 664.9 L473.7 661.5 L474.2 657.7 L474.7 653.6 L475.3 649.2 L475.8 644.6 L476.4 639.8 L476.9 634.9 L477.4 630.0 L478.0 625.0 L478.5 620.2 L479.0 615.4 L479.6 610.8 L480.1 606.4 L480.6 602.3 L481.2 598.6 L481.7 595.2 L482.3 592.2 L482.8 589.7 L483.3 587.7 L483.9 586.2 L484.4 585.2 L484.9 584.7 L485.5 584.8 L486.0 585.4 L486.5 586.6 L487.1 588.3 L487.6 590.5 L488.2 593.3 L488.7 596.5 L489.2 600.1 L489.8 604.2 L490.3 608.6 L490.8 613.4 L491.4 618.5 L491.9 623.7 L492.5 629.2 L493.0 634.8 L493.5 640.5 L494.1 646.2 L494.6 651.8 L495.1 657.4 L495.7 662.8 L496.2 668.0 L496.7 673.0 L497.3 677.7 L497.8 682.0 L498.4 686.0 L498.9 689.6 L499.4 692.7 L500.0 695.4 L500.5 697.6 L501.0 699.2 L501.6 700.4 L502.1 701.1 L502.7 701.2 L503.2 700.9 L503.7 700.0 L504.3 698.7 L504.8 696.9 L505.3 694.7 L505.9 692.1 L506.4 689.2 L506.9 685.9 L507.5 682.3 L508.0 678.5 L508.6 674.5 L509.1 670.4 L509.6 666.2 L510.2 661.9 L510.7 657.7 L511.2 653.5 L511.8 649.4 L512.3 645.5 L512.9 641.9 L513.4 638.4 L513.9 635.3 L514.5 632.5 L515.0 630.0 L515.5 628.0 L516.1 626.4 L516.6 625.2 L517.1 624.5 L517.7 624.3 L518.2 624.5 L518.8 625.2 L519.3 626.4 L519.8 628.1 L520.4 630.2 L520.9 632.8 L521.4 635.7 L522.0 639.1 L522.5 642.8 L523.1 646.8 L523.6 651.1 L524.1 655.6 L524.7 660.3 L525.2 665.2 L525.7 670.1 L526.3 675.2 L526.8 680.2 L527.3 685.2 L527.9 690.1 L528.4 694.8 L529.0 699.4 L529.5 703.8 L530.0 707.6 L530.6 709.5 L531.1 709.4 L531.6 707.3 L532.2 703.2 L532.7 697.1 L533.2 689.1 L533.8 679.4 L534.3 668.0 L534.9 655.1 L535.4 640.8 L535.9 625.2 L536.5 608.6 L537.0 591.1 L537.5 572.9 L538.1 554.2 L538.6 535.3 L539.2 516.2 L539.7 497.3 L540.2 478.6 L540.8 460.5 L541.3 443.1 L541.8 426.6 L542.4 411.1 L542.9 396.8 L543.4 383.9 L544.0 372.6 L544.5 362.8 L545.1 354.7 L545.6 348.4 L546.1 344.0 L546.7 341.4 L547.2 340.8 L547.7 342.0 L548.3 345.2 L548.8 350.1 L549.4 356.9 L549.9 365.3 L550.4 375.4 L551.0 386.9 L551.5 399.8 L552.0 413.9 L552.6 429.0 L553.1 445.1 L553.6 461.8 L554.2 479.1 L554.7 496.7 L555.3 514.5 L555.8 532.3 L556.3 549.9 L556.9 567.0 L557.4 583.5 L557.9 599.3 L558.5 614.2 L559.0 628.0 L559.6 640.5 L560.1 651.7 L560.6 661.4 L561.2 669.6 L561.7 676.1 L562.2 681.0 L562.8 684.1 L563.3 685.4 L563.8 684.9 L564.4 682.6 L564.9 678.7 L565.5 673.0 L566.0 665.7 L566.5 656.9 L567.1 646.7 L567.6 635.1 L568.1 622.4 L568.7 608.6 L569.2 593.9 L569.7 578.5 L570.3 562.5 L570.8 546.2 L571.4 529.6 L571.9 513.0 L572.4 496.5 L573.0 480.3 L573.5 464.6 L574.0 449.6 L574.6 435.3 L575.1 422.0 L575.7 409.9 L576.2 398.9 L576.7 389.2 L577.3 381.0 L577.8 374.3 L578.3 369.2 L578.9 365.7 L579.4 363.8 L579.9 363.6 L580.5 365.0 L581.0 368.1 L581.6 372.8 L582.1 379.0 L582.6 386.7 L583.2 395.7 L583.7 406.1 L584.2 417.5 L584.8 430.0 L585.3 443.4 L585.9 457.6 L586.4 472.3 L586.9 487.5 L587.5 502.9 L588.0 518.5 L588.5 533.9 L589.1 549.2 L589.6 564.0 L590.1 578.3 L590.7 592.0 L591.2 604.7 L591.8 616.5 L592.3 627.2 L592.8 636.7 L593.4 644.9 L593.9 651.8 L594.4 657.2 L595.0 661.0 L595.5 663.4 L596.1 664.2 L596.6 663.4 L597.1 661.2 L597.7 657.4 L598.2 652.1 L598.7 645.5 L599.3 637.5 L599.8 628.3 L600.3 618.0 L600.9 606.7 L601.4 594.5 L602.0 581.5 L602.5 567.9 L603.0 553.9 L603.6 539.6 L604.1 525.1 L604.6 510.6 L605.2 496.2 L605.7 482.2 L606.3 468.6 L606.8 455.6 L607.3 443.4 L607.9 432.0 L608.4 421.6 L608.9 412.3 L609.5 404.1 L610.0 397.2 L610.5 391.7 L611.1 387.5 L611.6 384.7 L612.2 383.4 L612.7 383.5 L613.2 385.1 L613.8 388.1 L614.3 392.5 L614.8 398.2 L615.4 405.2 L615.9 413.3 L616.4 422.5 L617.0 432.8 L617.5 443.9 L618.1 455.7 L618.6 468.2 L619.1 481.1 L619.7 494.4 L620.2 507.9 L620.7 521.5 L621.3 534.9 L621.8 548.2 L622.4 561.0 L622.9 573.4 L623.4 585.1 L624.0 596.1 L624.5 606.2 L625.0 615.3 L625.6 623.4 L626.1 630.3 L626.6 636.0 L627.2 640.4 L627.7 643.5 L628.3 645.2 L628.8 645.7 L629.3 644.7 L629.9 642.4 L630.4 638.8 L630.9 634.0 L631.5 627.9 L632.0 620.7 L632.6 612.5 L633.1 603.3 L633.6 593.2 L634.2 582.4 L634.7 571.0 L635.2 559.1 L635.8 546.8 L636.3 534.2 L636.8 521.6 L637.4 508.9 L637.9 496.5 L638.5 484.3 L639.0 472.5 L639.5 461.3 L640.1 450.8 L640.6 441.0 L641.1 432.2 L641.7 424.2 L642.2 417.4 L642.8 411.6 L643.3 407.0 L643.8 403.6 L644.4 401.5 L644.9 400.6 L645.4 401.0 L646.0 402.6 L646.5 405.5 L647.0 409.6 L647.6 414.8 L648.1 421.1 L648.7 428.4 L649.2 436.7 L649.7 445.8 L650.3 455.6 L650.8 466.1 L651.3 477.1 L651.9 488.4 L652.4 500.1 L652.9 511.9 L653.5 523.7 L654.0 535.4 L654.6 546.9 L655.1 558.1 L655.6 568.7 L656.2 578.8 L656.7 588.2 L657.2 596.9 L657.8 604.6 L658.3 611.5 L658.9 617.3 L659.4 622.0 L659.9 625.6 L660.5 628.0 L661.0 629.3 L661.5 629.4 L662.1 628.3 L662.6 626.1 L663.1 622.7 L663.7 618.3 L664.2 612.8 L664.8 606.3 L665.3 598.9 L665.8 590.7 L666.4 581.8 L666.9 572.2 L667.4 562.2 L668.0 551.7 L668.5 540.9 L669.1 529.9 L669.6 518.8 L670.1 507.8 L670.7 497.0 L671.2 486.4 L671.7 476.3 L672.3 466.6 L672.8 457.6 L673.3 449.2 L673.9 441.6 L674.4 434.9 L675.0 429.1 L675.5 424.3 L676.0 420.5 L676.6 417.8 L677.1 416.2 L677.6 415.7 L678.2 416.2 L678.7 417.9 L679.3 420.7 L679.8 424.4 L680.3 429.2 L680.9 434.9 L681.4 441.5 L681.9 448.8 L682.5 456.9 L683.0 465.6 L683.5 474.9 L684.1 484.5 L684.6 494.5 L685.2 504.7 L685.7 515.0 L686.2 525.3 L686.8 535.5 L687.3 545.5 L687.8 555.1 L688.4 564.3 L688.9 573.0 L689.5 581.1 L690.0 588.5 L690.5 595.1 L691.1 600.8 L691.6 605.7 L692.1 609.6 L692.7 612.5 L693.2 614.5 L693.7 615.4 L694.3 615.2 L694.8 614.1 L695.4 611.9 L695.9 608.7 L696.4 604.6 L697.0 599.7 L697.5 593.8 L698.0 587.2 L698.6 579.9 L699.1 572.0 L699.6 563.6 L700.2 554.7 L700.7 545.5 L701.3 536.0 L701.8 526.4 L702.3 516.8 L702.9 507.2 L703.4 497.8 L703.9 488.6 L704.5 479.9 L705.0 471.5 L705.6 463.8 L706.1 456.6 L706.6 450.2 L707.2 444.5 L707.7 439.6 L708.2 435.6 L708.8 432.5 L709.3 430.3 L709.8 429.1 L710.4 428.9 L710.9 429.6 L711.5 431.2 L712.0 433.8 L712.5 437.3 L713.1 441.6 L713.6 446.8 L714.1 452.7 L714.7 459.2 L715.2 466.4 L715.8 474.1 L716.3 482.3 L716.8 490.8 L717.4 499.5 L717.9 508.5 L718.4 517.5 L719.0 526.5 L719.5 535.3 L720.0 544.0 L720.6 552.3 L721.1 560.2 L721.7 567.7 L722.2 574.6 L722.7 580.9 L723.3 586.5 L723.8 591.4 L724.3 595.5 L724.9 598.7 L725.4 601.1 L726.0 602.5 L726.5 603.1 L727.0 602.8 L727.6 601.6 L728.1 599.5 L728.6 596.6 L729.2 592.8 L729.7 588.3 L730.2 583.1 L730.8 577.2 L731.3 570.7 L731.9 563.7 L732.4 556.2 L732.9 548.4 L733.5 540.3 L734.0 532.0 L734.5 523.6 L735.1 515.2 L735.6 506.9 L736.1 498.7 L736.7 490.8 L737.2 483.2 L737.8 476.1 L738.3 469.4 L738.8 463.3 L739.4 457.8 L739.9 453.0 L740.4 448.9 L741.0 445.6 L741.5 443.0 L742.1 441.3 L742.6 440.4 L743.1 440.4 L743.7 441.2 L744.2 442.8 L744.7 445.3 L745.3 448.5 L745.8 452.4 L746.3 457.0 L746.9 462.3 L747.4 468.2 L748.0 474.5 L748.5 481.4 L749.0 488.5 L749.6 496.0 L750.1 503.7 L750.6 511.5 L751.2 519.4 L751.7 527.2 L752.3 534.9 L752.8 542.4 L753.3 549.6 L753.9 556.4 L754.4 562.9 L754.9 568.8 L755.5 574.1 L756.0 578.9 L756.5 583.0 L757.1 586.4 L757.6 589.0 L758.2 590.9 L758.7 592.1 L759.2 592.4 L759.8 592.0 L760.3 590.7 L760.8 588.8 L761.4 586.0 L761.9 582.6 L762.5 578.5 L763.0 573.8 L763.5 568.6 L764.1 562.8 L764.6 556.6 L765.1 550.0 L765.7 543.1 L766.2 536.0 L766.7 528.8 L767.3 521.4 L767.8 514.1 L768.4 506.9 L768.9 499.8 L769.4 492.9 L770.0 486.4 L770.5 480.2 L771.0 474.5 L771.6 469.3 L772.1 464.6 L772.7 460.6 L773.2 457.1 L773.7 454.4 L774.3 452.3 L774.8 451.0 L775.3 450.4 L775.9 450.5 L776.4 451.4 L776.9 452.9 L777.5 455.2 L778.0 458.1 L778.6 461.7 L779.1 465.9 L779.6 470.6 L780.2 475.8 L780.7 481.5 L781.2 487.5 L781.8 493.8 L782.3 500.4 L782.8 507.1 L783.4 513.9 L783.9 520.8 L784.5 527.6 L785.0 534.3 L785.5 540.8 L786.1 547.0 L786.6 552.9 L787.1 558.4 L787.7 563.5 L788.2 568.1 L788.8 572.1 L789.3 575.5 L789.8 578.3 L790.4 580.5 L790.9 582.0 L791.4 582.9 L792.0 583.0 L792.5 582.5 L793.0 581.3 L793.6 579.4 L794.1 576.9 L794.7 573.8 L795.2 570.1 L795.7 565.9 L796.3 561.2 L796.8 556.1 L797.3 550.6 L797.9 544.8 L798.4 538.7 L799.0 532.5 L799.5 526.1 L800.0 519.7 L800.6 513.3 L801.1 507.1 L801.6 500.9 L802.2 495.0 L802.7 489.4 L803.2 484.1 L803.8 479.2 L804.3 474.7 L804.9 470.7 L805.4 467.3 L805.9 464.4 L806.5 462.2 L807.0 460.5 L807.5 459.5 L808.1 459.1 L808.6 459.3 L809.2 460.2 L809.7 461.7 L810.2 463.8 L810.8 466.5 L811.3 469.8 L811.8 473.5 L812.4 477.7 L812.9 482.3 L813.4 487.3 L814.0 492.7 L814.5 498.2 L815.1 504.0 L815.6 509.9 L816.1 515.9 L816.7 521.9 L817.2 527.8 L817.7 533.6 L818.3 539.2 L818.8 544.6 L819.3 549.6 L819.9 554.4 L820.4 558.7 L821.0 562.6 L821.5 566.0 L822.0 568.9 L822.6 571.2 L823.1 573.0 L823.6 574.2 L824.2 574.8 L824.7 574.8 L825.3 574.2 L825.8 573.0 L826.3 571.3 L826.9 569.0 L827.4 566.1 L827.9 562.8 L828.5 559.1 L829.0 554.9 L829.5 550.3 L830.1 545.5 L830.6 540.4 L831.2 535.0 L831.7 529.6 L832.2 524.0 L832.8 518.4 L833.3 512.9 L833.8 507.4 L834.4 502.1 L834.9 497.0 L835.5 492.1 L836.0 487.5 L836.5 483.3 L837.1 479.6 L837.6 476.2 L838.1 473.3 L838.7 470.9 L839.2 469.0 L839.7 467.7 L840.3 466.9 L840.8 466.7 L841.4 467.1 L841.9 467.9 L842.4 469.4 L843.0 471.3 L843.5 473.8 L844.0 476.7 L844.6 480.1 L845.1 483.8 L845.7 487.9 L846.2 492.4 L846.7 497.1 L847.3 502.0 L847.8 507.0 L848.3 512.2 L848.9 517.4 L849.4 522.6 L849.9 527.8 L850.5 532.8 L851.0 537.6 L851.6 542.3 L852.1 546.7 L852.6 550.7 L853.2 554.4 L853.7 557.7 L854.2 560.6 L854.8 563.0 L855.3 564.9 L855.9 566.4 L856.4 567.3 L856.9 567.7 L857.5 567.6 L858.0 567.0 L858.5 565.8 L859.1 564.2 L859.6 562.1 L860.1 559.5 L860.7 556.6 L861.2 553.2 L861.8 549.5 L862.3 545.4 L862.8 541.1 L863.4 536.6 L863.9 532.0 L864.4 527.2 L865.0 522.3 L865.5 517.4 L866.0 512.6 L866.6 507.8 L867.1 503.2 L867.7 498.8 L868.2 494.6 L868.7 490.7 L869.3 487.1 L869.8 483.9 L870.3 481.1 L870.9 478.6 L871.4 476.6 L872.0 475.1 L872.5 474.1 L873.0 473.5 L873.6 473.4 L874.1 473.8 L874.6 474.7 L875.2 476.0 L875.7 477.8 L876.2 480.1 L876.8 482.7 L877.3 485.7 L877.9 489.0 L878.4 492.7 L878.9 496.6 L879.5 500.8 L880.0 505.1 L880.5 509.5 L881.1 514.0 L881.6 518.6 L882.2 523.1 L882.7 527.6 L883.2 532.0 L883.8 536.2 L884.3 540.2 L884.8 543.9 L885.4 547.4 L885.9 550.5 L886.4 553.3 L887.0 555.8 L887.5 557.8 L888.1 559.4 L888.6 560.6 L889.1 561.3 L889.7 561.5 L890.2 561.3 L890.7 560.7 L891.3 559.6 L891.8 558.1 L892.4 556.1 L892.9 553.8 L893.4 551.2 L894.0 548.1 L894.5 544.8 L895.0 541.3 L895.6 537.5 L896.1 533.5 L896.6 529.4 L897.2 525.2 L897.7 521.0 L898.3 516.7 L898.8 512.5 L899.3 508.4 L899.9 504.4 L900.4 500.6 L900.9 497.0 L901.5 493.6 L902.0 490.6 L902.6 487.8 L903.1 485.4 L903.6 483.4 L904.2 481.7 L904.7 480.5 L905.2 479.6 L905.8 479.2 L906.3 479.2 L906.8 479.7 L907.4 480.5 L907.9 481.8 L908.5 483.5 L909.0 485.5 L909.5 487.9 L910.1 490.5 L910.6 493.5 L911.1 496.8 L911.7 500.2 L912.2 503.9 L912.7 507.7 L913.3 511.6 L913.8 515.5 L914.4 519.5 L914.9 523.4 L915.4 527.3 L916.0 531.1 L916.5 534.7 L917.0 538.2 L917.6 541.4 L918.1 544.4 L918.7 547.1 L919.2 549.5 L919.7 551.5 L920.3 553.2 L920.8 554.5 L921.3 555.4 L921.9 556.0 L922.4 556.1 L922.9 555.8 L923.5 555.2 L924.0 554.2 L924.6 552.8 L925.1 551.0 L925.6 548.9 L926.2 546.5 L926.7 543.8 L927.2 540.9 L927.8 537.7 L928.3 534.4 L928.9 530.9 L929.4 527.3 L929.9 523.6 L930.5 519.9 L931.0 516.2 L931.5 512.5 L932.1 509.0 L932.6 505.5 L933.1 502.2 L933.7 499.1 L934.2 496.2 L934.8 493.6 L935.3 491.3 L935.8 489.3 L936.4 487.6 L936.9 486.2 L937.4 485.2 L938.0 484.5 L938.5 484.3 L939.1 484.4 L939.6 484.8 L940.1 485.6 L940.7 486.8 L941.2 488.3 L941.7 490.2 L942.3 492.3 L942.8 494.7 L943.3 497.4 L943.9 500.2 L944.4 503.3 L945.0 506.5 L945.5 509.8 L946.0 513.2 L946.6 516.7 L947.1 520.2 L947.6 523.6 L948.2 527.0 L948.7 530.3 L949.2 533.4 L949.8 536.4 L950.3 539.1 L950.9 541.7 L951.4 544.0 L951.9 546.0 L952.5 547.7 L953.0 549.1 L953.5 550.2 L954.1 550.9 L954.6 551.3 L955.2 551.3 L955.7 551.0 L956.2 550.4 L956.8 549.4 L957.3 548.1 L957.8 546.5 L958.4 544.7 L958.9 542.5 L959.4 540.1 L960.0 537.5 L960.5 534.7 L961.1 531.8 L961.6 528.7 L962.1 525.5 L962.7 522.3 L963.2 519.1 L963.7 515.8 L964.3 512.7 L964.8 509.6 L965.4 506.6 L965.9 503.8 L966.4 501.1 L967.0 498.6 L967.5 496.4 L968.0 494.4 L968.6 492.7 L969.1 491.3 L969.6 490.1 L970.2 489.3 L970.7 488.8 L971.3 488.7 L971.8 488.8 L972.3 489.3 L972.9 490.1 L973.4 491.2 L973.9 492.6 L974.5 494.2 L975.0 496.1 L975.6 498.3 L976.1 500.6 L976.6 503.2 L977.2 505.9 L977.7 508.7 L978.2 511.6 L978.8 514.6 L979.3 517.6 L979.8 520.7 L980.4 523.7 L980.9 526.6 L981.5 529.4 L982.0 532.1 L982.5 534.7 L983.1 537.1 L983.6 539.2 L984.1 541.2 L984.7 542.9 L985.2 544.3 L985.8 545.5 L986.3 546.4 L986.8 546.9 L987.4 547.2 L987.9 547.2 L988.4 546.9 L989.0 546.2 L989.5 545.3 L990.0 544.1 L990.6 542.7 L991.1 541.0 L991.7 539.1 L992.2 536.9 L992.7 534.6 L993.3 532.2 L993.8 529.6 L994.3 526.9 L994.9 524.1 L995.4 521.3 L995.9 518.4 L996.5 515.6 L997.0 512.9 L997.6 510.2 L998.1 507.6 L998.6 505.2 L999.2 502.9 L999.7 500.8 L1000.2 498.9 L1000.8 497.2 L1001.3 495.8 L1001.9 494.6 L1002.4 493.6 L1002.9 493.0 L1003.5 492.6 L1004.0 492.5 L1004.5 492.7 L1005.1 493.2 L1005.6 494.0 L1006.1 495.0 L1006.7 496.2 L1007.2 497.7 L1007.8 499.4 L1008.3 501.3 L1008.8 503.4 L1009.4 505.7 L1009.9 508.1 L1010.4 510.6 L1011.0 513.1 L1011.5 515.7 L1012.1 518.4 L1012.6 521.0 L1013.1 523.6 L1013.7 526.2 L1014.2 528.6 L1014.7 530.9 L1015.3 533.1 L1015.8 535.2 L1016.3 537.0 L1016.9 538.7 L1017.4 540.1 L1018.0 541.3 L1018.5 542.3 L1019.0 543.0 L1019.6 543.4 L1020.1 543.6 L1020.6 543.5 L1021.2 543.2 L1021.7 542.6 L1022.3 541.8 L1022.8 540.7 L1023.3 539.4 L1023.9 537.8 L1024.4 536.1 L1024.9 534.2 L1025.5 532.2 L1026.0 530.0 L1026.5 527.7 L1027.1 525.3 L1027.6 522.9 L1028.2 520.4 L1028.7 518.0 L1029.2 515.5 L1029.8 513.1 L1030.3 510.8 L1030.8 508.6 L1031.4 506.5 L1031.9 504.5 L1032.4 502.7 L1033.0 501.1 L1033.5 499.7 L1034.1 498.5 L1034.6 497.5 L1035.1 496.7 L1035.7 496.2 L1036.2 495.9 L1036.7 495.9 L1037.3 496.1 L1037.8 496.6 L1038.4 497.3 L1038.9 498.2 L1039.4 499.4 L1040.0 500.7 L1040.5 502.3 L1041.0 504.0 L1041.6 505.8 L1042.1 507.8 L1042.6 509.9 L1043.2 512.1 L1043.7 514.4 L1044.3 516.7 L1044.8 519.0 L1045.3 521.3 L1045.9 523.5 L1046.4 525.7 L1046.9 527.8 L1047.5 529.8 L1048.0 531.7 L1048.6 533.5 L1049.1 535.1 L1049.6 536.5 L1050.2 537.7 L1050.7 538.7 L1051.2 539.5 L1051.8 540.0 L1052.3 540.4 L1052.8 540.5 L1053.4 540.4 L1053.9 540.0 L1054.5 539.4 L1055.0 538.7 L1055.5 537.7 L1056.1 536.5 L1056.6 535.1 L1057.1 533.6 L1057.7 531.9 L1058.2 530.1 L1058.8 528.2 L1059.3 526.1 L1059.8 524.1 L1060.4 521.9 L1060.9 519.8 L1061.4 517.6 L1062.0 515.5 L1062.5 513.4 L1063.0 511.4 L1063.6 509.5 L1064.1 507.7 L1064.7 506.0 L1065.2 504.5 L1065.7 503.1 L1066.3 501.9 L1066.8 500.9 L1067.3 500.1 L1067.9 499.4 L1068.4 499.0 L1069.0 498.9 L1069.5 498.9 L1070.0 499.1 L1070.6 499.6 L1071.1 500.2 L1071.6 501.1 L1072.2 502.1 L1072.7 503.3 L1073.2 504.7 L1073.8 506.2 L1074.3 507.9 L1074.9 509.6 L1075.4 511.5 L1075.9 513.4 L1076.5 515.4 L1077.0 517.4 L1077.5 519.4 L1078.1 521.4 L1078.6 523.3 L1079.1 525.3 L1079.7 527.1 L1080.2 528.8 L1080.8 530.4 L1081.3 531.9 L1081.8 533.3 L1082.4 534.5 L1082.9 535.5 L1083.4 536.3 L1084.0 537.0 L1084.5 537.4 L1085.1 537.7 L1085.6 537.7 L1086.1 537.6 L1086.7 537.2 L1087.2 536.7 L1087.7 536.0 L1088.3 535.1 L1088.8 534.0 L1089.3 532.8 L1089.9 531.4 L1090.4 529.9 L1091.0 528.3 L1091.5 526.6 L1092.0 524.8 L1092.6 523.0 L1093.1 521.1 L1093.6 519.3 L1094.2 517.4 L1094.7 515.6 L1095.3 513.8 L1095.8 512.0 L1096.3 510.4 L1096.9 508.8 L1097.4 507.4 L1097.9 506.0 L1098.5 504.9 L1099.0 503.9 L1099.5 503.0 L1100.1 502.3 L1100.6 501.8 L1101.2 501.5 L1101.7 501.4 L1102.2 501.5 L1102.8 501.7 L1103.3 502.1 L1103.8 502.8 L1104.4 503.5 L1104.9 504.5 L1105.5 505.6 L1106.0 506.8 L1106.5 508.2 L1107.1 509.6 L1107.6 511.2 L1108.1 512.8 L1108.7 514.5 L1109.2 516.2 L1109.7 518.0 L1110.3 519.7 L1110.8 521.5 L1111.4 523.2 L1111.9 524.8 L1112.4 526.4 L1113.0 527.9 L1113.5 529.3 L1114.0 530.5 L1114.6 531.7 L1115.1 532.7 L1115.6 533.6 L1116.2 534.2 L1116.7 534.8 L1117.3 535.1 L1117.8 535.3 L1118.3 535.3 L1118.9 535.2 L1119.4 534.8 L1119.9 534.3 L1120.5 533.6 L1121.0 532.8 L1121.6 531.9 L1122.1 530.8 L1122.6 529.5 L1123.2 528.2 L1123.7 526.8 L1124.2 525.3 L1124.8 523.7 L1125.3 522.1 L1125.8 520.5 L1126.4 518.9 L1126.9 517.2 L1127.5 515.6 L1128.0 514.1 L1128.5 512.6 L1129.1 511.1 L1129.6 509.8 L1130.1 508.6 L1130.7 507.5 L1131.2 506.5 L1131.8 505.6 L1132.3 504.9 L1132.8 504.3 L1133.4 503.9 L1133.9 503.7 L1134.4 503.6 L1135.0 503.7 L1135.5 504.0 L1136.0 504.4 L1136.6 505.0 L1137.1 505.7 L1137.7 506.5 L1138.2 507.5 L1138.7 508.6 L1139.3 509.8 L1139.8 511.1 L1140.3 512.5 L1140.9 513.9 L1141.4 515.4 L1142.0 516.9 L1142.5 518.4 L1143.0 519.9 L1143.6 521.5 L1144.1 522.9 L1144.6 524.4 L1145.2 525.7 L1145.7 527.0 L1146.2 528.2 L1146.8 529.3 L1147.3 530.3 L1147.9 531.1 L1148.4 531.8 L1148.9 532.4 L1149.5 532.8 L1150.0 533.1 L1150.5 533.2 L1151.1 533.2 L1151.6 533.0 L1152.2 532.7 L1152.7 532.2 L1153.2 531.6 L1153.8 530.9 L1154.3 530.0 L1154.8 529.0 L1155.4 528.0 L1155.9 526.8 L1156.4 525.5 L1157.0 524.2 L1157.5 522.8 L1158.1 521.4 L1158.6 520.0 L1159.1 518.6 L1159.7 517.2 L1160.2 515.8 L1160.7 514.4 L1161.3 513.1 L1161.8 511.9 L1162.3 510.7 L1162.9 509.7 L1163.4 508.7 L1164.0 507.9 L1164.5 507.2 L1165.0 506.6 L1165.6 506.1 L1166.1 505.8 L1166.6 505.6 L1167.2 505.6 L1167.7 505.7 L1168.3 506.0 L1168.8 506.3 L1169.3 506.9 L1169.9 507.5 L1170.4 508.3 L1170.9 509.2 L1171.5 510.1 L1172.0 511.2 L1172.5 512.3 L1173.1 513.6 L1173.6 514.8 L1174.2 516.1 L1174.7 517.4 L1175.2 518.8 L1175.8 520.1 L1176.3 521.4 L1176.8 522.7 L1177.4 523.9 L1177.9 525.1 L1178.5 526.2 L1179.0 527.2 L1179.5 528.2 L1180.1 529.0 L1180.6 529.7 L1181.1 530.3 L1181.7 530.8 L1182.2 531.1 L1182.7 531.3 L1183.3 531.4 L1183.8 531.4 L1184.4 531.2 L1184.9 530.9 L1185.4 530.4 L1186.0 529.9 L1186.5 529.2 L1187.0 528.4 L1187.6 527.6 L1188.1 526.6 L1188.7 525.5 L1189.2 524.4 L1189.7 523.3 L1190.3 522.1 L1190.8 520.8 L1191.3 519.6 L1191.9 518.4 L1192.4 517.1 L1192.9 515.9 L1193.5 514.7 L1194.0 513.6 L1194.6 512.6 L1195.1 511.6 L1195.6 510.7 L1196.2 509.9 L1196.7 509.1 L1197.2 508.5 L1197.8 508.1 L1198.3 507.7 L1198.8 507.4 L1199.4 507.3 L1199.9 507.3 L1200.5 507.4 L1201.0 507.7 L1201.5 508.0 L1202.1 508.5 L1202.6 509.1 L1203.1 509.8 L1203.7 510.6 L1204.2 511.5 L1204.8 512.4 L1205.3 513.4 L1205.8 514.5 L1206.4 515.6 L1206.9 516.7 L1207.4 517.9 L1208.0 519.1 L1208.5 520.2 L1209.0 521.4 L1209.6 522.5 L1210.1 523.5 L1210.7 524.5 L1211.2 525.5 L1211.7 526.4 L1212.3 527.2 L1212.8 527.9 L1213.3 528.5 L1213.9 529.0 L1214.4 529.4 L1215.0 529.6 L1215.5 529.8 L1216.0 529.8 L1216.6 529.8 L1217.1 529.6 L1217.6 529.3 L1218.2 528.9 L1218.7 528.4 L1219.2 527.8 L1219.8 527.1 L1220.3 526.3 L1220.9 525.4 L1221.4 524.5 L1221.9 523.5 L1222.5 522.5 L1223.0 521.4 L1223.5 520.4 L1224.1 519.3 L1224.6 518.2 L1225.2 517.1 L1225.7 516.1 L1226.2 515.1 L1226.8 514.1 L1227.3 513.2 L1227.8 512.3 L1228.4 511.6 L1228.9 510.9 L1229.4 510.3 L1230.0 509.8 L1230.5 509.4 L1231.1 509.1 L1231.6 508.9 L1232.1 508.8 L1232.7 508.8 L1233.2 508.9 L1233.7 509.2 L1234.3 509.5 L1234.8 510.0 L1235.4 510.5 L1235.9 511.1 L1236.4 511.8 L1237.0 512.6 L1237.5 513.4 L1238.0 514.3 L1238.6 515.3 L1239.1 516.2 L1239.6 517.2 L1240.2 518.2 L1240.7 519.3 L1241.3 520.3 L1241.8 521.3 L1242.3 522.2 L1242.9 523.1 L1243.4 524.0 L1243.9 524.8 L1244.5 525.6 L1245.0 526.3 L1245.5 526.8 L1246.1 527.4 L1246.6 527.8 L1247.2 528.1 L1247.7 528.3 L1248.2 528.4 L1248.8 528.4 L1249.3 528.4 L1249.8 528.2 L1250.4 527.9 L1250.9 527.5 L1251.5 527.1 L1252.0 526.5 L1252.5 525.9 L1253.1 525.2 L1253.6 524.4 L1254.1 523.6 L1254.7 522.7 L1255.2 521.9 L1255.7 520.9 L1256.3 520.0 L1256.8 519.0 L1257.4 518.1 L1257.9 517.2 L1258.4 516.2 L1259.0 515.4 L1259.5 514.5 L1260.0 513.8 L1260.6 513.0 L1261.1 512.4 L1261.7 511.8 L1262.2 511.3 L1262.7 510.9 L1263.3 510.5 L1263.8 510.3 L1264.3 510.1 L1264.9 510.1 L1265.4 510.1 L1265.9 510.2 L1266.5 510.5 L1267.0 510.8 L1267.6 511.2 L1268.1 511.7 L1268.6 512.2 L1269.2 512.9 L1269.7 513.5 L1270.2 514.3 L1270.8 515.1 L1271.3 515.9 L1271.9 516.8 L1272.4 517.6 L1272.9 518.5 L1273.5 519.4 L1274.0 520.3 L1274.5 521.1 L1275.1 522.0 L1275.6 522.8 L1276.1 523.5 L1276.7 524.2 L1277.2 524.9 L1277.8 525.4 L1278.3 525.9 L1278.8 526.4 L1279.4 526.7 L1279.9 527.0 L1280.4 527.1 L1281.0 527.2 L1281.5 528.1 L1282.0 530.6 L1282.6 534.8 L1283.1 540.4 L1283.7 547.6 L1284.2 556.1 L1284.7 566.0 L1285.3 577.0 L1285.8 589.0 L1286.3 601.9 L1286.9 615.6 L1287.4 629.9 L1288.0 644.6 L1288.5 659.6 L1289.0 674.7 L1289.6 689.8 L1290.1 704.6 L1290.6 719.0 L1291.2 732.9 L1291.7 746.1 L1292.2 758.4 L1292.8 769.8 L1293.3 780.0 L1293.9 789.1 L1294.4 796.8 L1294.9 803.2 L1295.5 808.1 L1296.0 811.5 L1296.5 813.4 L1297.1 813.7 L1297.6 812.4 L1298.2 809.6 L1298.7 805.3 L1299.2 799.5 L1299.8 792.3 L1300.3 783.7 L1300.8 773.9 L1301.4 763.0 L1301.9 751.1 L1302.4 738.3 L1303.0 724.7 L1303.5 710.5 L1304.1 695.9 L1304.6 680.9 L1305.1 665.7 L1305.7 650.6 L1306.2 635.6 L1306.7 620.9 L1307.3 606.7 L1307.8 593.1 L1308.4 580.2 L1308.9 568.1 L1309.4 557.1 L1310.0 547.1 L1310.5 538.3 L1311.0 530.8 L1311.6 524.6 L1312.1 519.9 L1312.6 516.5 L1313.2 514.6 L1313.7 514.2 L1314.3 515.2 L1314.8 517.6 L1315.3 521.4 L1315.9 526.6 L1316.4 533.1 L1316.9 540.7 L1317.5 549.4 L1318.0 559.2 L1318.6 569.8 L1319.1 581.2 L1319.6 593.2 L1320.2 605.6 L1320.7 618.5 L1321.2 631.5 L1321.8 644.6 L1322.3 657.7 L1322.8 670.5 L1323.4 682.9 L1323.9 694.8 L1324.5 706.1 L1325.0 716.6 L1325.5 726.2 L1326.1 734.9 L1326.6 742.5 L1327.1 748.9 L1327.7 754.2 L1328.2 758.1 L1328.7 760.7 L1329.3 761.9 L1329.8 761.8 L1330.4 760.4 L1330.9 757.6 L1331.4 753.4 L1332.0 748.0 L1332.5 741.4 L1333.0 733.7 L1333.6 724.8 L1334.1 715.1 L1334.7 704.4 L1335.2 693.0 L1335.7 680.9 L1336.3 668.4 L1336.8 655.5 L1337.3 642.3 L1337.9 629.0 L1338.4 615.7 L1338.9 602.6 L1339.5 589.8 L1340.0 577.4 L1340.6 565.6 L1341.1 554.4 L1341.6 544.0 L1342.2 534.5 L1342.7 526.0 L1343.2 518.5 L1343.8 512.1 L1344.3 506.9 L1344.9 502.9 L1345.4 500.2 L1345.9 498.8 L1346.5 498.6 L1347.0 499.7 L1347.5 502.0 L1348.1 505.5 L1348.6 510.2 L1349.1 516.0 L1349.7 522.8 L1350.2 530.6 L1350.8 539.2 L1351.3 548.5 L1351.8 558.5 L1352.4 569.0 L1352.9 579.9 L1353.4 591.1 L1354.0 602.4 L1354.5 613.8 L1355.1 625.0 L1355.6 636.1 L1356.1 646.8 L1356.7 657.0 L1357.2 666.6 L1357.7 675.6 L1358.3 683.7 L1358.8 691.0 L1359.3 697.4 L1359.9 702.7 L1360.4 706.9 L1361.0 710.0 L1361.5 712.0 L1362.0 712.8 L1362.6 712.3 L1363.1 710.7 L1363.6 708.0 L1364.2 704.1 L1364.7 699.0 L1365.3 693.0 L1365.8 685.9 L1366.3 678.0 L1366.9 669.2 L1367.4 659.7 L1367.9 649.5 L1368.5 638.8 L1369.0 627.7 L1369.5 616.3 L1370.1 604.7 L1370.6 593.0 L1371.2 581.4 L1371.7 570.0 L1372.2 558.8 L1372.8 548.0 L1373.3 537.7 L1373.8 528.1 L1374.4 519.1 L1374.9 510.9 L1375.4 503.6 L1376.0 497.2 L1376.5 491.7 L1377.1 487.4 L1377.6 484.1 L1378.1 481.9 L1378.7 480.8 L1379.2 480.8 L1379.7 481.9 L1380.3 484.1 L1380.8 487.3 L1381.4 491.6 L1381.9 496.7 L1382.4 502.8 L1383.0 509.6 L1383.5 517.2 L1384.0 525.4 L1384.6 534.2 L1385.1 543.4 L1385.6 552.9 L1386.2 562.6 L1386.7 572.4 L1387.3 582.3 L1387.8 592.0 L1388.3 601.5 L1388.9 610.7 L1389.4 619.4 L1389.9 627.6 L1390.5 635.2 L1391.0 642.1 L1391.6 648.3 L1392.1 653.5 L1392.6 657.9 L1393.2 661.3 L1393.7 663.8 L1394.2 665.2 L1394.8 665.6 L1395.3 664.9 L1395.8 663.2 L1396.4 660.5 L1396.9 656.8 L1397.5 652.1 L1398.0 646.6 L1398.5 640.2 L1399.1 633.0 L1399.6 625.2 L1400.1 616.7 L1400.7 607.6 L1401.2 598.1 L1401.8 588.3 L1402.3 578.2 L1402.8 568.0 L1403.4 557.8 L1403.9 547.6 L1404.4 537.6 L1405.0 527.8 L1405.5 518.4 L1406.0 509.5 L1406.6 501.1 L1407.1 493.3 L1407.7 486.3 L1408.2 480.0 L1408.7 474.5 L1409.3 469.9 L1409.8 466.2 L1410.3 463.5 L1410.9 461.7 L1411.4 460.9 L1411.9 461.0 L1412.5 462.1 L1413.0 464.2 L1413.6 467.1 L1414.1 470.9 L1414.6 475.6 L1415.2 480.9 L1415.7 487.0 L1416.2 493.7 L1416.8 500.9 L1417.3 508.5 L1417.9 516.5 L1418.4 524.8 L1418.9 533.3 L1419.5 541.8 L1420.0 550.3 L1420.5 558.7 L1421.1 566.8 L1421.6 574.7 L1422.1 582.2 L1422.7 589.2 L1423.2 595.6 L1423.8 601.4 L1424.3 606.5 L1424.8 610.9 L1425.4 614.5 L1425.9 617.2 L1426.4 619.0 L1427.0 620.0 L1427.5 620.1 L1428.1 619.2 L1428.6 617.5 L1429.1 614.9 L1429.7 611.4 L1430.2 607.1 L1430.7 602.0 L1431.3 596.2 L1431.8 589.8 L1432.3 582.7 L1432.9 575.1 L1433.4 567.0 L1434.0 558.6 L1434.5 549.9 L1435.0 541.0 L1435.6 532.0 L1436.1 523.0 L1436.6 514.1 L1437.2 505.3 L1437.7 496.8 L1438.3 488.6 L1438.8 480.9 L1439.3 473.6 L1439.9 466.9 L1440.4 460.8 L1440.9 455.4 L1441.5 450.7 L1442.0 446.8 L1442.5 443.7 L1443.1 441.4 L1443.6 439.9 L1444.2 439.3 L1444.7 439.6 L1445.2 440.7 L1445.8 442.6 L1446.3 445.2 L1446.8 448.6 L1447.4 452.7 L1447.9 457.5 L1448.5 462.8 L1449.0 468.7 L1449.5 475.0 L1450.1 481.7 L1450.6 488.7 L1451.1 495.9 L1451.7 503.2 L1452.2 510.6 L1452.7 517.9 L1453.3 525.1 L1453.8 532.1 L1454.4 538.8 L1454.9 545.2 L1455.4 551.1 L1456.0 556.6 L1456.5 561.4 L1457.0 565.7 L1457.6 569.3 L1458.1 572.2 L1458.6 574.3 L1459.2 575.7 L1459.7 576.3 L1460.3 576.1 L1460.8 575.1 L1461.3 573.4 L1461.9 570.9 L1462.4 567.6 L1462.9 563.6 L1463.5 559.0 L1464.0 553.7 L1464.6 547.9 L1465.1 541.6 L1465.6 534.8 L1466.2 527.6 L1466.7 520.1 L1467.2 512.4 L1467.8 504.6 L1468.3 496.7 L1468.8 488.7 L1469.4 480.9 L1469.9 473.2 L1470.5 465.8 L1471.0 458.6 L1471.5 451.9 L1472.1 445.6 L1472.6 439.8 L1473.1 434.5 L1473.7 429.8 L1474.2 425.8 L1474.8 422.5 L1475.3 419.9 L1475.8 418.0 L1476.4 416.8 L1476.9 416.4 L1477.4 416.7 L1478.0 417.7 L1478.5 419.4 L1479.0 421.8 L1479.6 424.9 L1480.1 428.5 L1480.7 432.7 L1481.2 437.4 L1481.7 442.5 L1482.3 448.0 L1482.8 453.9 L1483.3 459.9 L1483.9 466.2 L1484.4 472.5 L1485.0 478.9 L1485.5 485.2 L1486.0 491.4 L1486.6 497.4 L1487.1 503.1 L1487.6 508.5 L1488.2 513.5 L1488.7 518.1 L1489.2 522.2 L1489.8 525.7 L1490.3 528.6 L1490.9 530.9 L1491.4 532.6 L1491.9 533.6 L1492.5 533.9 L1493.0 533.5 L1493.5 532.4 L1494.1 530.7 L1494.6 528.3 L1495.1 525.2 L1495.7 521.6 L1496.2 517.3 L1496.8 512.6 L1497.3 507.3 L1497.8 501.6 L1498.4 495.5 L1498.9 489.2 L1499.4 482.5 L1500.0 475.7 L1500.5 468.8 L1501.1 461.8 L1501.6 454.8 L1502.1 447.9 L1502.7 441.2 L1503.2 434.7 L1503.7 428.4 L1504.3 422.5 L1504.8 417.1 L1505.3 412.0 L1505.9 407.5 L1506.4 403.5 L1507.0 400.0 L1507.5 397.2 L1508.0 394.9 L1508.6 393.3 L1509.1 392.4 L1509.6 392.1 L1510.2 392.4 L1510.7 393.4 L1511.3 395.0 L1511.8 397.1 L1512.3 399.8 L1512.9 403.0 L1513.4 406.7 L1513.9 410.8 L1514.5 415.3 L1515.0 420.1 L1515.5 425.2 L1516.1 430.4 L1516.6 435.8 L1517.2 441.3 L1517.7 446.8 L1518.2 452.2 L1518.8 457.5 L1519.3 462.6 L1519.8 467.5 L1520.4 472.1 L1520.9 476.3 L1521.5 480.1 L1522.0 483.5 L1522.5 486.4 L1523.1 488.8 L1523.6 490.6 L1524.1 491.9 L1524.7 492.5 L1525.2 492.6 L1525.7 492.1 L1526.3 491.0 L1526.8 489.2 L1527.4 486.9 L1527.9 484.1 L1528.4 480.7 L1529.0 476.8 L1529.5 472.5 L1530.0 467.8 L1530.6 462.7 L1531.1 457.2 L1531.7 451.5 L1532.2 445.6 L1532.7 439.6 L1533.3 433.4 L1533.8 427.3 L1534.3 421.1 L1534.9 415.1 L1535.4 409.2 L1535.9 403.5 L1536.5 398.0 L1537.0 392.9 L1537.6 388.1 L1538.1 383.7 L1538.6 379.8 L1539.2 376.3 L1539.7 373.4 L1540.2 370.9 L1540.8 369.0 L1541.3 367.7 L1541.8 366.9 L1542.4 366.7 L1542.9 367.0 L1543.5 367.9 L1544.0 369.3 L1544.5 371.3 L1545.1 373.6 L1545.6 376.5 L1546.1 379.7 L1546.7 383.3 L1547.2 387.2 L1547.8 391.4 L1548.3 395.8 L1548.8 400.3 L1549.4 405.0 L1549.9 409.7 L1550.4 414.4 L1551.0 419.0 L1551.5 423.6 L1552.0 427.9 L1552.6 432.1 L1553.1 435.9 L1553.7 439.5 L1554.2 442.7 L1554.7 445.4 L1555.3 447.8 L1555.8 449.7 L1556.3 451.1 L1556.9 452.1 L1557.4 452.5 L1558.0 452.3 L1558.5 451.7 L1559.0 450.5 L1559.6 448.8 L1560.1 446.7 L1560.6 444.0 L1561.2 440.9 L1561.7 437.4 L1562.2 433.4 L1562.8 429.1 L1563.3 424.5 L1563.9 419.7 L1564.4 414.6 L1564.9 409.4 L1565.5 404.0 L1566.0 398.6 L1566.5 393.1 L1567.1 387.7 L1567.6 382.4 L1568.2 377.2 L1568.7 372.2 L1569.2 367.4 L1569.8 362.9 L1570.3 358.8 L1570.8 354.9 L1571.4 351.5 L1571.9 348.5 L1572.4 346.0 L1573.0 343.9 L1573.5 342.3 L1574.1 341.1 L1574.6 340.5 L1575.1 340.3 L1575.7 340.7 L1576.2 341.5 L1576.7 342.7 L1577.3 344.4 L1577.8 346.5 L1578.3 349.0 L1578.9 351.8 L1579.4 355.0 L1580.0 358.4 L1580.5 362.0 L1581.0 365.8 L1581.6 369.7 L1582.1 373.7 L1582.6 377.7 L1583.2 381.8 L1583.7 385.7 L1584.3 389.6 L1584.8 393.3 L1585.3 396.8 L1585.9 400.0 L1586.4 403.0 L1586.9 405.6 L1587.5 407.9 L1588.0 409.8 L1588.5 411.3 L1589.1 412.4 L1589.6 413.0 L1590.2 413.2 L1590.7 412.9 L1591.2 412.2 L1591.8 411.0 L1592.3 409.4 L1592.8 407.3 L1593.4 404.8 L1593.9 402.0 L1594.5 398.7 L1595.0 395.2 L1595.5 391.3 L1596.1 387.2 L1596.6 382.8 L1597.1 378.3 L1597.7 373.6 L1598.2 368.8 L1598.7 364.0 L1599.3 359.2 L1599.8 354.4 L1600.4 349.7 L1600.9 345.2 L1601.4 340.8 L1602.0 336.6 L1602.5 332.7 L1603.0 329.0 L1603.6 326.0 L1604.1 325.0 L1604.7 326.1 L1605.2 329.2 L1605.7 334.3 L1606.3 341.3 L1606.8 350.2 L1607.3 360.9 L1607.9 373.2 L1608.4 387.0 L1608.9 402.1 L1609.5 418.5 L1610.0 435.8 L1610.6 453.9 L1611.1 472.7 L1611.6 491.8 L1612.2 511.2 L1612.7 530.5 L1613.2 549.7 L1613.8 568.4 L1614.3 586.5 L1614.9 603.8 L1615.4 620.2 L1615.9 635.3 L1616.5 649.2 L1617.0 661.6 L1617.5 672.5 L1618.1 681.7 L1618.6 689.0 L1619.1 694.6 L1619.7 698.2 L1620.2 700.0 L1620.8 699.7 L1621.3 697.6 L1621.8 693.6 L1622.4 687.7 L1622.9 680.0 L1623.4 670.7 L1624.0 659.8 L1624.5 647.4 L1625.0 633.7 L1625.6 618.9 L1626.1 603.1 L1626.7 586.4 L1627.2 569.1 L1627.7 551.3 L1628.3 533.3 L1628.8 515.2 L1629.3 497.2 L1629.9 479.6 L1630.4 462.4 L1631.0 445.9 L1631.5 430.3 L1632.0 415.6 L1632.6 402.2 L1633.1 390.0 L1633.6 379.3 L1634.2 370.1 L1634.7 362.6 L1635.2 356.7 L1635.8 352.6 L1636.3 350.3 L1636.9 349.8 L1637.4 351.1 L1637.9 354.2 L1638.5 359.0 L1639.0 365.5 L1639.5 373.6 L1640.1 383.2 L1640.6 394.3 L1641.2 406.6 L1641.7 420.0 L1642.2 434.5 L1642.8 449.8 L1643.3 465.7 L1643.8 482.2 L1644.4 498.9 L1644.9 515.8 L1645.4 532.7 L1646.0 549.3 L1646.5 565.6 L1647.1 581.2 L1647.6 596.2 L1648.1 610.2 L1648.7 623.2 L1649.2 635.1 L1649.7 645.6 L1650.3 654.8 L1650.8 662.5 L1651.4 668.6 L1651.9 673.0 L1652.4 675.9 L1653.0 677.0 L1653.5 676.4 L1654.0 674.2 L1654.6 670.3 L1655.1 664.9 L1655.6 657.9 L1656.2 649.4 L1656.7 639.6 L1657.3 628.6 L1657.8 616.4 L1658.3 603.2 L1658.9 589.3 L1659.4 574.6 L1659.9 559.4 L1660.5 543.8 L1661.0 528.1 L1661.5 512.3 L1662.1 496.6 L1662.6 481.3 L1663.2 466.4 L1663.7 452.2 L1664.2 438.7 L1664.8 426.2 L1665.3 414.7 L1665.8 404.3 L1666.4 395.3 L1666.9 387.5 L1667.5 381.3 L1668.0 376.5 L1668.5 373.2 L1669.1 371.6 L1669.6 371.5 L1670.1 372.9 L1670.7 376.0 L1671.2 380.5 L1671.7 386.5 L1672.3 393.8 L1672.8 402.5 L1673.4 412.4 L1673.9 423.4 L1674.4 435.3 L1675.0 448.1 L1675.5 461.6 L1676.0 475.6 L1676.6 490.0 L1677.1 504.7 L1677.7 519.4 L1678.2 534.1 L1678.7 548.6 L1679.3 562.6 L1679.8 576.2 L1680.3 589.1 L1680.9 601.1 L1681.4 612.3 L1681.9 622.4 L1682.5 631.3 L1683.0 639.0 L1683.6 645.4 L1684.1 650.5 L1684.6 654.1 L1685.2 656.2 L1685.7 656.9 L1686.2 656.1 L1686.8 653.8 L1687.3 650.1 L1687.9 645.0 L1688.4 638.7 L1688.9 631.0 L1689.5 622.2 L1690.0 612.4 L1690.5 601.6 L1691.1 589.9 L1691.6 577.6 L1692.1 564.6 L1692.7 551.3 L1693.2 537.7 L1693.8 523.9 L1694.3 510.1 L1694.8 496.5 L1695.4 483.2 L1695.9 470.4 L1696.4 458.1 L1697.0 446.5 L1697.5 435.7 L1698.1 425.9 L1698.6 417.1 L1699.1 409.5 L1699.7 403.0 L1700.2 397.8 L1700.7 393.9 L1701.3 391.4 L1701.8 390.2 L1702.3 390.4 L1702.9 392.0 L1703.4 394.9 L1704.0 399.2 L1704.5 404.7 L1705.0 411.3 L1705.6 419.1 L1706.1 428.0 L1706.6 437.7 L1707.2 448.3 L1707.7 459.6 L1708.2 471.5 L1708.8 483.8 L1709.3 496.4 L1709.9 509.3 L1710.4 522.1 L1710.9 534.9 L1711.5 547.5 L1712.0 559.7 L1712.5 571.4 L1713.1 582.5 L1713.6 592.8 L1714.2 602.4 L1714.7 611.0 L1715.2 618.6 L1715.8 625.0 L1716.3 630.4 L1716.8 634.5 L1717.4 637.3 L1717.9 638.9 L1718.4 639.2 L1719.0 638.3 L1719.5 636.0 L1720.1 632.5 L1720.6 627.9 L1721.1 622.0 L1721.7 615.2 L1722.2 607.3 L1722.7 598.5 L1723.3 588.9 L1723.8 578.6 L1724.4 567.7 L1724.9 556.3 L1725.4 544.6 L1726.0 532.7 L1726.5 520.7 L1727.0 508.7 L1727.6 496.9 L1728.1 485.3 L1728.6 474.2 L1729.2 463.6 L1729.7 453.6 L1730.3 444.4 L1730.8 436.0 L1731.3 428.6 L1731.9 422.1 L1732.4 416.7 L1732.9 412.4 L1733.5 409.3 L1734.0 407.3 L1734.6 406.6 L1735.1 407.0 L1735.6 408.6 L1736.2 411.4 L1736.7 415.4 L1737.2 420.4 L1737.8 426.5 L1738.3 433.5 L1738.8 441.4 L1739.4 450.0 L1739.9 459.4 L1740.5 469.4 L1741.0 479.8 L1741.5 490.7 L1742.1 501.7 L1742.6 512.9 L1743.1 524.2 L1743.7 535.3 L1744.2 546.2 L1744.8 556.7 L1745.3 566.8 L1745.8 576.4 L1746.4 585.3 L1746.9 593.4 L1747.4 600.8 L1748.0 607.2 L1748.5 612.6 L1749.0 617.0 L1749.6 620.4 L1750.1 622.7 L1750.7 623.8 L1751.2 623.8 L1751.7 622.7 L1752.3 620.5 L1752.8 617.3 L1753.3 613.0 L1753.9 607.7 L1754.4 601.5 L1754.9 594.4 L1755.5 586.6 L1756.0 578.1 L1756.6 569.0 L1757.1 559.4 L1757.6 549.4 L1758.2 539.1 L1758.7 528.7 L1759.2 518.2 L1759.8 507.7 L1760.3 497.5 L1760.9 487.5 L1761.4 477.9 L1761.9 468.7 L1762.5 460.2 L1763.0 452.3 L1763.5 445.1 L1764.1 438.8 L1764.6 433.3 L1765.1 428.8 L1765.7 425.3 L1766.2 422.8 L1766.8 421.3 L1767.3 420.9 L1767.8 421.5 L1768.4 423.1 L1768.9 425.8 L1769.4 429.4 L1770.0 434.0 L1770.5 439.5 L1771.1 445.8 L1771.6 452.8 L1772.1 460.5 L1772.7 468.8 L1773.2 477.6 L1773.7 486.8 L1774.3 496.3 L1774.8 506.0 L1775.3 515.8 L1775.9 525.6 L1776.4 535.3 L1777.0 544.7 L1777.5 553.9 L1778.0 562.6 L1778.6 570.8 L1779.1 578.4 L1779.6 585.4 L1780.2 591.6 L1780.7 597.0 L1781.3 601.6 L1781.8 605.2 L1782.3 608.0 L1782.9 609.7 L1783.4 610.5 L1783.9 610.3 L1784.5 609.2 L1785.0 607.0 L1785.5 604.0 L1786.1 600.1 L1786.6 595.3 L1787.2 589.7 L1787.7 583.4 L1788.2 576.4 L1788.8 568.9 L1789.3 560.8 L1789.8 552.3 L1790.4 543.6 L1790.9 534.6 L1791.4 525.4 L1792.0 516.3 L1792.5 507.2 L1793.1 498.3 L1793.6 489.6 L1794.1 481.3 L1794.7 473.5 L1795.2 466.1 L1795.7 459.4 L1796.3 453.3 L1796.8 447.9 L1797.4 443.3 L1797.9 439.6 L1798.4 436.7 L1799.0 434.7 L1799.5 433.6 L1800.0 433.4 L1800.6 434.1 L1801.1 435.8 L1801.6 438.3 L1802.2 441.7 L1802.7 445.8 L1803.3 450.8 L1803.8 456.4 L1804.3 462.7 L1804.9 469.5 L1805.4 476.9 L1805.9 484.6 L1806.5 492.7 L1807.0 501.0 L1807.6 509.5 L1808.1 518.1 L1808.6 526.6 L1809.2 535.0 L1809.7 543.2 L1810.2 551.1 L1810.8 558.6 L1811.3 565.7 L1811.8 572.2 L1812.4 578.2 L1812.9 583.4 L1813.5 588.0 L1814.0 591.8 L1814.5 594.8 L1815.1 597.0 L1815.6 598.4 L1816.1 598.9 L1816.7 598.5 L1817.2 597.3 L1817.8 595.3 L1818.3 592.5 L1818.8 588.9 L1819.4 584.5 L1819.9 579.5 L1820.4 573.9 L1821.0 567.7 L1821.5 561.0 L1822.0 553.9 L1822.6 546.5 L1823.1 538.7 L1823.7 530.9 L1824.2 522.9 L1824.7 514.9 L1825.3 507.0 L1825.8 499.3 L1826.3 491.8 L1826.9 484.6 L1827.4 477.8 L1828.0 471.5 L1828.5 465.7 L1829.0 460.6 L1829.6 456.0 L1830.1 452.2 L1830.6 449.1 L1831.2 446.7 L1831.7 445.2 L1832.2 444.4 L1832.8 444.4 L1833.3 445.2 L1833.9 446.8 L1834.4 449.1 L1834.9 452.2 L1835.5 456.0 L1836.0 460.5 L1836.5 465.5 L1837.1 471.1 L1837.6 477.2 L1838.1 483.7 L1838.7 490.5 L1839.2 497.6 L1839.8 504.9 L1840.3 512.4 L1840.8 519.8 L1841.4 527.2 L1841.9 534.5 L1842.4 541.6 L1843.0 548.5 L1843.5 554.9 L1844.1 561.0 L1844.6 566.6 L1845.1 571.7 L1845.7 576.1 L1846.2 580.0 L1846.7 583.2 L1847.3 585.6 L1847.8 587.4 L1848.3 588.4 L1848.9 588.7 L1849.4 588.2 L1850.0 587.0 L1850.5 585.1 L1851.0 582.5 L1851.6 579.2 L1852.1 575.3 L1852.6 570.8 L1853.2 565.8 L1853.7 560.2 L1854.3 554.3 L1854.8 548.1 L1855.3 541.5 L1855.9 534.7 L1856.4 527.8 L1856.9 520.9 L1857.5 513.9 L1858.0 507.0 L1858.5 500.3 L1859.1 493.9 L1859.6 487.7 L1860.2 481.8 L1860.7 476.4 L1861.2 471.5 L1861.8 467.1 L1862.3 463.3 L1862.8 460.1 L1863.4 457.5 L1863.9 455.6 L1864.5 454.4 L1865.0 453.8 L1865.5 454.0 L1866.1 454.8 L1866.6 456.4 L1867.1 458.6 L1867.7 461.4 L1868.2 464.8 L1868.7 468.8 L1869.3 473.3 L1869.8 478.3 L1870.4 483.7 L1870.9 489.4 L1871.4 495.5 L1872.0 501.7 L1872.5 508.1 L1873.0 514.6 L1873.6 521.1 L1874.1 527.6 L1874.6 533.9 L1875.2 540.1 L1875.7 545.9 L1876.3 551.5 L1876.8 556.7 L1877.3 561.5 L1877.9 565.8 L1878.4 569.6 L1878.9 572.9 L1879.5 575.5 L1880.0 577.5 L1880.6 578.9 L1881.1 579.7 L1881.6 579.8 L1882.2 579.2 L1882.7 578.0 L1883.2 576.2 L1883.8 573.8 L1884.3 570.8 L1884.8 567.3 L1885.4 563.3 L1885.9 558.8 L1886.5 553.9 L1887.0 548.7 L1887.5 543.1 L1888.1 537.4 L1888.6 531.4 L1889.1 525.4 L1889.7 519.3 L1890.2 513.3 L1890.8 507.3 L1891.3 501.5 L1891.8 495.9 L1892.4 490.5 L1892.9 485.5 L1893.4 480.9 L1894.0 476.7 L1894.5 472.9 L1895.0 469.7 L1895.6 467.0 L1896.1 464.9 L1896.7 463.4 L1897.2 462.4 L1897.7 462.1 L1898.3 462.4 L1898.8 463.3 L1899.3 464.7 L1899.9 466.8 L1900.4 469.3 L1901.0 472.4 L1901.5 476.0 L1902.0 480.1 L1902.6 484.5 L1903.1 489.2 L1903.6 494.3 L1904.2 499.6 L1904.7 505.1 L1905.2 510.7 L1905.8 516.4 L1906.3 522.1 L1906.9 527.7 L1907.4 533.2 L1907.9 538.5 L1908.5 543.6 L1909.0 548.4 L1909.5 552.9 L1910.1 556.9 L1910.6 560.6 L1911.2 563.8 L1911.7 566.5 L1912.2 568.7 L1912.8 570.4 L1913.3 571.5 L1913.8 572.0 L1914.4 572.0 L1914.9 571.4 L1915.4 570.2 L1916.0 568.5 L1916.5 566.3 L1917.1 563.6 L1917.6 560.4 L1918.1 556.8 L1918.7 552.8 L1919.2 548.5 L1919.7 543.8 L1920.3 539.0 L1920.8 533.9 L1921.3 528.7 L1921.9 523.4 L1922.4 518.1 L1923.0 512.8 L1923.5 507.7 L1924.0 502.6 L1924.6 497.8 L1925.1 493.2 L1925.6 488.9 L1926.2 484.9 L1926.7 481.3 L1927.3 478.2 L1927.8 475.4 L1928.3 473.2 L1928.9 471.5 L1929.4 470.2 L1929.9 469.5 L1930.5 469.4 L1931.0 469.7 L1931.5 470.6 L1932.1 472.0 L1932.6 473.9 L1933.2 476.2 L1933.7 479.0 L1934.2 482.2 L1934.8 485.8 L1935.3 489.8 L1935.8 494.0 L1936.4 498.4 L1936.9 503.1 L1937.5 507.9 L1938.0 512.8 L1938.5 517.8 L1939.1 522.7 L1939.6 527.6 L1940.1 532.4 L1940.7 537.0 L1941.2 541.4 L1941.7 545.5 L1942.3 549.3 L1942.8 552.8 L1943.4 555.9 L1943.9 558.6 L1944.4 560.9 L1945.0 562.7 L1945.5 564.1 L1946.0 564.9 L1946.6 565.3 L1947.1 565.1 L1947.7 564.5 L1948.2 563.4 L1948.7 561.8 L1949.3 559.8 L1949.8 557.3 L1950.3 554.5 L1950.9 551.2 L1951.4 547.7 L1951.9 543.9 L1952.5 539.8 L1953.0 535.5 L1953.6 531.0 L1954.1 526.5 L1954.6 521.8 L1955.2 517.2 L1955.7 512.6 L1956.2 508.1 L1956.8 503.8 L1957.3 499.6 L1957.8 495.6 L1958.4 491.9 L1958.9 488.5 L1959.5 485.5 L1960.0 482.8 L1960.5 480.5 L1961.1 478.7 L1961.6 477.2 L1962.1 476.3 L1962.7 475.8 L1963.2 475.7 L1963.8 476.1 L1964.3 477.0 L1964.8 478.3 L1965.4 480.0 L1965.9 482.2 L1966.4 484.7 L1967.0 487.6 L1967.5 490.8 L1968.0 494.3 L1968.6 498.0 L1969.1 501.9 L1969.7 506.0 L1970.2 510.3 L1970.7 514.5 L1971.3 518.9 L1971.8 523.2 L1972.3 527.4 L1972.9 531.6 L1973.4 535.5 L1974.0 539.3 L1974.5 542.9 L1975.0 546.2 L1975.6 549.1 L1976.1 551.8 L1976.6 554.0 L1977.2 555.9 L1977.7 557.4 L1978.2 558.5 L1978.8 559.2 L1979.3 559.4 L1979.9 559.2 L1980.4 558.5 L1980.9 557.5 L1981.5 556.0 L1982.0 554.1 L1982.5 551.9 L1983.1 549.4 L1983.6 546.5 L1984.2 543.3 L1984.7 539.9 L1985.2 536.3 L1985.8 532.5 L1986.3 528.6 L1986.8 524.6 L1987.4 520.6 L1987.9 516.6 L1988.4 512.6 L1989.0 508.7 L1989.5 504.9 L1990.1 501.3 L1990.6 497.9 L1991.1 494.7 L1991.7 491.8 L1992.2 489.2 L1992.7 487.0 L1993.3 485.0 L1993.8 483.5 L1994.4 482.3 L1994.9 481.6 L1995.4 481.2 L1996.0 481.3 L1996.5 481.7 L1997.0 482.5 L1997.6 483.8 L1998.1 485.4 L1998.6 487.3 L1999.2 489.6 L1999.7 492.1 L2000.3 495.0 L2000.8 498.1 L2001.3 501.4 L2001.9 504.9 L2002.4 508.5 L2002.9 512.2 L2003.5 515.9 L2004.0 519.7 L2004.5 523.5 L2005.1 527.1 L2005.6 530.7 L2006.2 534.2 L2006.7 537.4 L2007.2 540.5 L2007.8 543.3 L2008.3 545.8 L2008.8 548.0 L2009.4 550.0 L2009.9 551.5 L2010.5 552.8 L2011.0 553.6 L2011.5 554.1 L2012.1 554.2 L2012.6 553.9 L2013.1 553.3 L2013.7 552.3 L2014.2 551.0 L2014.7 549.3 L2015.3 547.3 L2015.8 545.0 L2016.4 542.4 L2016.9 539.6 L2017.4 536.6 L2018.0 533.4 L2018.5 530.1 L2019.0 526.6 L2019.6 523.2 L2020.1 519.6 L2020.7 516.1 L2021.2 512.6 L2021.7 509.3 L2022.3 506.0 L2022.8 502.9 L2023.3 499.9 L2023.9 497.2 L2024.4 494.8 L2024.9 492.6 L2025.5 490.6 L2026.0 489.0 L2026.6 487.8 L2027.1 486.8 L2027.6 486.2 L2028.2 486.0 L2028.7 486.1 L2029.2 486.6 L2029.8 487.4 L2030.3 488.5 L2030.9 490.0 L2031.4 491.7 L2031.9 493.8 L2032.5 496.1 L2033.0 498.6 L2033.5 501.4 L2034.1 504.3 L2034.6 507.3 L2035.1 510.5 L2035.7 513.7 L2036.2 517.0 L2036.8 520.3 L2037.3 523.6 L2037.8 526.8 L2038.4 529.9 L2038.9 532.8 L2039.4 535.7 L2040.0 538.3 L2040.5 540.7 L2041.0 542.8 L2041.6 544.7 L2042.1 546.3 L2042.7 547.6 L2043.2 548.6 L2043.7 549.3 L2044.3 549.7 L2044.8 549.7 L2045.3 549.4 L2045.9 548.8 L2046.4 547.8 L2047.0 546.6 L2047.5 545.0 L2048.0 543.2 L2048.6 541.2 L2049.1 538.9 L2049.6 536.4 L2050.2 533.7 L2050.7 530.9 L2051.2 528.0 L2051.8 525.0 L2052.3 522.0 L2052.9 518.9 L2053.4 515.8 L2053.9 512.8 L2054.5 509.9 L2055.0 507.0 L2055.5 504.4 L2056.1 501.8 L2056.6 499.5 L2057.2 497.4 L2057.7 495.5 L2058.2 493.9 L2058.8 492.6 L2059.3 491.5 L2059.8 490.8 L2060.4 490.3 L2060.9 490.2 L2061.4 490.4 L2062.0 490.8 L2062.5 491.6 L2063.1 492.7 L2063.6 494.0 L2064.1 495.6 L2064.7 497.4 L2065.2 499.5 L2065.7 501.7 L2066.3 504.1 L2066.8 506.7 L2067.4 509.4 L2067.9 512.2 L2068.4 515.0 L2069.0 517.9 L2069.5 520.8 L2070.0 523.6 L2070.6 526.4 L2071.1 529.1 L2071.6 531.6 L2072.2 534.0 L2072.7 536.3 L2073.3 538.3 L2073.8 540.2 L2074.3 541.8 L2074.9 543.1 L2075.4 544.2 L2075.9 545.0 L2076.5 545.5 L2077.0 545.8 L2077.6 545.7 L2078.1 545.4 L2078.6 544.8 L2079.2 543.9 L2079.7 542.8 L2080.2 541.4 L2080.8 539.8 L2081.3 537.9 L2081.8 535.9 L2082.4 533.7 L2082.9 531.3 L2083.5 528.9 L2084.0 526.3 L2084.5 523.7 L2085.1 521.0 L2085.6 518.3 L2086.1 515.6 L2086.7 513.0 L2087.2 510.5 L2087.7 508.0 L2088.3 505.7 L2088.8 503.6 L2089.4 501.6 L2089.9 499.8 L2090.4 498.2 L2091.0 496.8 L2091.5 495.7 L2092.0 494.9 L2092.6 494.3 L2093.1 493.9 L2093.7 493.9 L2094.2 494.1 L2094.7 494.5 L2095.3 495.3 L2095.8 496.2 L2096.3 497.4 L2096.9 498.9 L2097.4 500.5 L2097.9 502.4 L2098.5 504.4 L2099.0 506.5 L2099.6 508.8 L2100.1 511.1 L2100.6 513.6 L2101.2 516.1 L2101.7 518.6 L2102.2 521.1 L2102.8 523.5 L2103.3 525.9 L2103.9 528.3 L2104.4 530.5 L2104.9 532.6 L2105.5 534.5 L2106.0 536.2 L2106.5 537.8 L2107.1 539.1 L2107.6 540.3 L2108.1 541.2 L2108.7 541.8 L2109.2 542.2 L2109.8 542.4 L2110.3 542.3 L2110.8 542.0 L2111.4 541.4 L2111.9 540.5 L2112.4 539.5 L2113.0 538.2 L2113.5 536.8 L2114.1 535.1 L2114.6 533.3 L2115.1 531.4 L2115.7 529.3 L2116.2 527.1 L2116.7 524.9 L2117.3 522.6 L2117.8 520.2 L2118.3 517.9 L2118.9 515.6 L2119.4 513.3 L2120.0 511.1 L2120.5 509.0 L2121.0 507.0 L2121.6 505.1 L2122.1 503.4 L2122.6 501.9 L2123.2 500.6 L2123.7 499.4 L2124.2 498.5 L2124.8 497.8 L2125.3 497.3 L2125.9 497.1 L2126.4 497.1 L2126.9 497.3 L2127.5 497.8 L2128.0 498.4 L2128.5 499.3 L2129.1 500.4 L2129.6 501.7 L2130.2 503.2 L2130.7 504.8 L2131.2 506.6 L2131.8 508.5 L2132.3 510.5 L2132.8 512.6 L2133.4 514.7 L2133.9 516.9 L2134.4 519.1 L2135.0 521.3 L2135.5 523.4 L2136.1 525.5 L2136.6 527.5 L2137.1 529.4 L2137.7 531.2 L2138.2 532.8 L2138.7 534.3 L2139.3 535.7 L2139.8 536.8 L2140.4 537.7 L2140.9 538.5 L2141.4 539.0 L2142.0 539.3 L2142.5 539.4 L2143.0 539.3 L2143.6 538.9 L2144.1 538.4 L2144.6 537.6 L2145.2 536.7 L2145.7 535.5 L2146.3 534.2 L2146.8 532.7 L2147.3 531.1 L2147.9 529.4 L2148.4 527.6 L2148.9 525.7 L2149.5 523.7 L2150.0 521.7 L2150.6 519.6 L2151.1 517.6 L2151.6 515.6 L2152.2 513.6 L2152.7 511.7 L2153.2 509.9 L2153.8 508.2 L2154.3 506.6 L2154.8 505.1 L2155.4 503.8 L2155.9 502.7 L2156.5 501.7 L2157.0 501.0 L2157.5 500.4 L2158.1 500.0 L2158.6 499.9 L2159.1 499.9 L2159.7 500.1 L2160.2 500.6 L2160.8 501.2 L2161.3 502.0 L2161.8 503.0 L2162.4 504.2 L2162.9 505.5 L2163.4 507.0 L2164.0 508.5 L2164.5 510.2 L2165.0 512.0 L2165.6 513.8 L2166.1 515.7 L2166.7 517.6 L2167.2 519.5 L2167.7 521.4 L2168.3 523.2 L2168.8 525.0 L2169.3 526.8 L2169.9 528.4 L2170.4 530.0 L2170.9 531.4 L2171.5 532.6 L2172.0 533.8 L2172.6 534.7 L2173.1 535.5 L2173.6 536.1 L2174.2 536.5 L2174.7 536.7 L2175.2 536.8 L2175.8 536.6 L2176.3 536.3 L2176.9 535.8 L2177.4 535.1 L2177.9 534.2 L2178.5 533.2 L2179.0 532.0 L2179.5 530.7 L2180.1 529.3 L2180.6 527.7 L2181.1 526.1 L2181.7 524.4 L2182.2 522.7 L2182.8 520.9 L2183.3 519.1 L2183.8 517.4 L2184.4 515.6 L2184.9 513.9 L2185.4 512.3 L2186.0 510.7 L2186.5 509.2 L2187.1 507.9 L2187.6 506.6 L2188.1 505.5 L2188.7 504.6 L2189.2 503.8 L2189.7 503.1 L2190.3 502.7 L2190.8 502.4 L2191.3 502.3 L2191.9 502.4 L2192.4 502.6 L2193.0 503.0 L2193.5 503.6 L2194.0 504.4 L2194.6 505.3 L2195.1 506.3 L2195.6 507.5 L2196.2 508.8 L2196.7 510.2 L2197.3 511.7 L2197.8 513.2 L2198.3 514.8 L2198.9 516.5 L2199.4 518.1 L2199.9 519.8 L2200.5 521.4 L2201.0 523.0 L2201.5 524.6 L2202.1 526.1 L2202.6 527.5 L2203.2 528.8 L2203.7 530.0 L2204.2 531.1 L2204.8 532.1 L2205.3 532.9 L2205.8 533.5 L2206.4 534.0 L2206.9 534.3 L2207.5 534.5 L2208.0 534.5 L2208.5 534.3 L2209.1 534.0 L2209.6 533.5 L2210.1 532.9 L2210.7 532.1 L2211.2 531.2 L2211.7 530.1 L2212.3 528.9 L2212.8 527.7 L2213.4 526.3 L2213.9 524.9 L2214.4 523.4 L2215.0 521.9 L2215.5 520.3 L2216.0 518.8 L2216.6 517.2 L2217.1 515.7 L2217.6 514.2 L2218.2 512.8 L2218.7 511.5 L2219.3 510.2 L2219.8 509.0 L2220.3 508.0 L2220.9 507.0 L2221.4 506.2 L2221.9 505.6 L2222.5 505.1 L2223.0 504.7 L2223.6 504.5 L2224.1 504.4 L2224.6 504.5 L2225.2 504.8 L2225.7 505.2 L2226.2 505.7 L2226.8 506.4 L2227.3 507.2 L2227.8 508.1 L2228.4 509.2 L2228.9 510.3 L2229.5 511.6 L2230.0 512.9 L2230.5 514.2 L2231.1 515.6 L2231.6 517.1 L2232.1 518.5 L2232.7 520.0 L2233.2 521.4 L2233.8 522.8 L2234.3 524.2 L2234.8 525.5 L2235.4 526.7 L2235.9 527.8 L2236.4 528.8 L2237.0 529.8 L2237.5 530.6 L2238.0 531.2 L2238.6 531.8 L2239.1 532.2 L2239.7 532.4 L2240.2 532.5 L2240.7 532.5 L2241.3 532.3 L2241.8 532.0 L2242.3 531.5 L2242.9 531.0 L2243.4 530.2 L2244.0 529.4 L2244.5 528.5 L2245.0 527.4 L2245.6 526.3 L2246.1 525.1 L2246.6 523.9 L2247.2 522.6 L2247.7 521.2 L2248.2 519.9 L2248.8 518.5 L2249.3 517.2 L2249.9 515.8 L2250.4 514.6 L2250.9 513.3 L2251.5 512.2 L2252.0 511.1 L2252.5 510.1 L2253.1 509.2 L2253.6 508.4 L2254.1 507.7 L2254.7 507.2 L2255.2 506.7 L2255.8 506.4 L2256.3 506.3 L2256.8 506.3 L2257.4 506.4 L2257.9 506.6 L2258.4 507.0 L2259.0 507.5 L2259.5 508.1 L2260.1 508.9 L2260.6 509.7 L2261.1 510.6 L2261.7 511.7 L2262.2 512.7 L2262.7 513.9 L2263.3 515.1 L2263.8 516.3 L2264.3 517.6 L2264.9 518.9 L2265.4 520.1 L2266.0 521.4 L2266.5 522.6 L2267.0 523.8 L2267.6 524.9 L2268.1 525.9 L2268.6 526.9 L2269.2 527.8 L2269.7 528.5 L2270.3 529.2 L2270.8 529.8 L2271.3 530.2 L2271.9 530.5 L2272.4 530.7 L2272.9 530.8 L2273.5 530.7 L2274.0 530.6 L2274.5 530.3 L2275.1 529.8 L2275.6 529.3 L2276.2 528.6 L2276.7 527.9 L2277.2 527.1 L2277.8 526.1 L2278.3 525.1 L2278.8 524.1 L2279.4 523.0 L2279.9 521.8 L2280.5 520.7 L2281.0 519.5 L2281.5 518.3 L2282.1 517.1 L2282.6 516.0 L2283.1 514.9 L2283.7 513.8 L2284.2 512.8 L2284.7 511.9 L2285.3 511.0 L2285.8 510.3 L2286.4 509.6 L2286.9 509.0 L2287.4 508.6 L2288.0 508.2 L2288.5 508.0 L2289.0 507.9 L2289.6 507.9 L2290.1 508.0 L2290.7 508.3 L2291.2 508.6 L2291.7 509.1 L2292.3 509.6 L2292.8 510.3 L2293.3 511.1 L2293.9 511.9 L2294.4 512.8 L2294.9 513.8 L2295.5 514.8 L2296.0 515.8 L2296.6 516.9 L2297.1 518.0 L2297.6 519.1 L2298.2 520.2 L2298.7 521.3 L2299.2 522.3 L2299.8 523.4 L2300.3 524.3 L2300.8 525.2 L2301.4 526.0 L2301.9 526.8 L2302.5 527.4 L2303.0 528.0 L2303.5 528.5 L2304.1 528.8 L2304.6 529.1 L2305.1 529.3 L2305.7 529.3 L2306.2 529.2 L2306.8 529.0 L2307.3 528.7 L2307.8 528.4 L2308.4 527.9 L2308.9 527.3 L2309.4 526.6 L2310.0 525.9 L2310.5 525.0 L2311.0 524.2 L2311.6 523.2 L2312.1 522.3 L2312.7 521.3 L2313.2 520.2 L2313.7 519.2 L2314.3 518.2 L2314.8 517.2 L2315.3 516.2 L2315.9 515.2 L2316.4 514.3 L2317.0 513.4 L2317.5 512.6 L2318.0 511.9 L2318.6 511.2 L2319.1 510.7 L2319.6 510.2 L2320.2 509.8 L2320.7 509.5 L2321.2 509.4 L2321.8 509.3 L2322.3 509.3 L2322.9 509.5 L2323.4 509.7 L2323.9 510.0 L2324.5 510.4 L2325.0 510.9 L2325.5 511.5 L2326.1 512.2 L2326.6 513.0 L2327.2 513.8 L2327.7 514.6 L2328.2 515.5 L2328.8 516.4 L2329.3 517.4 L2329.8 518.3 L2330.4 519.3 L2330.9 520.3 L2331.4 521.2 L2332.0 522.1 L2332.5 523.0 L2333.1 523.8 L2333.6 524.6 L2334.1 525.3 L2334.7 525.9 L2335.2 526.5 L2335.7 527.0 L2336.3 527.3 L2336.8 527.6 L2337.3 527.8 L2337.9 528.0 L2338.4 528.0 L2339.0 527.9 L2339.5 527.7 L2340.0 527.4 L2340.6 527.1 L2341.1 526.6 L2341.6 526.1 L2342.2 525.5 L2342.7 524.8 L2343.3 524.1 L2343.8 523.3 L2344.3 522.5 L2344.9 521.7 L2345.4 520.8 L2345.9 519.9 L2346.5 519.0 L2347.0 518.1 L2347.5 517.2 L2348.1 516.3 L2348.6 515.5 L2349.2 514.7 L2349.7 514.0 L2350.2 513.3 L2350.8 512.7 L2351.3 512.1 L2351.8 511.6 L2352.4 511.2 L2352.9 510.9 L2353.5 510.7 L2354.0 510.6 L2354.5 510.5 L2355.1 510.6 L2355.6 510.7" fill="none" stroke="#d85427" stroke-width="14" stroke-linejoin="round" stroke-linecap="butt"/>
<path d="M192.9 1461.8 L193.4 1461.7 L194.0 1461.7 L194.5 1461.5 L195.1 1461.1 L195.6 1460.6 L196.2 1459.7 L196.7 1458.6 L197.2 1457.1 L197.8 1455.2 L198.3 1452.9 L198.9 1450.2 L199.4 1447.0 L200.0 1443.3 L200.5 1439.1 L201.1 1434.4 L201.6 1429.2 L202.1 1423.6 L202.7 1417.5 L203.2 1410.9 L203.8 1403.9 L204.3 1396.5 L204.9 1388.8 L205.4 1380.7 L205.9 1372.3 L206.5 1363.8 L207.0 1355.0 L207.6 1346.1 L208.1 1337.1 L208.7 1328.1 L209.2 1319.1 L209.8 1310.2 L210.3 1301.5 L210.8 1292.9 L211.4 1284.5 L211.9 1276.5 L212.5 1268.8 L213.0 1261.4 L213.6 1254.5 L214.1 1248.0 L214.6 1242.0 L215.2 1236.5 L215.7 1231.5 L216.3 1227.1 L216.8 1223.2 L217.4 1219.9 L217.9 1217.1 L218.5 1214.9 L219.0 1213.3 L219.5 1212.1 L220.1 1211.4 L220.6 1211.2 L221.2 1211.5 L221.7 1212.1 L222.3 1213.2 L222.8 1214.5 L223.3 1216.1 L223.9 1218.0 L224.4 1220.0 L225.0 1222.2 L225.5 1224.4 L226.1 1226.7 L226.6 1229.0 L227.1 1231.2 L227.7 1233.2 L228.2 1235.1 L228.8 1236.8 L229.3 1238.3 L229.9 1239.4 L230.4 1240.3 L231.0 1240.7 L231.5 1240.8 L232.0 1240.5 L232.6 1239.8 L233.1 1238.7 L233.7 1237.1 L234.2 1235.0 L234.8 1232.6 L235.3 1229.7 L235.8 1226.4 L236.4 1222.7 L236.9 1218.7 L237.5 1214.3 L238.0 1209.6 L238.6 1204.6 L239.1 1199.4 L239.7 1194.0 L240.2 1188.5 L240.7 1182.8 L241.3 1177.1 L241.8 1171.4 L242.4 1165.7 L242.9 1160.1 L243.5 1154.6 L244.0 1149.2 L244.5 1144.2 L245.1 1139.3 L245.6 1134.8 L246.2 1130.6 L246.7 1126.7 L247.3 1123.3 L247.8 1120.3 L248.3 1117.7 L248.9 1115.6 L249.4 1114.0 L250.0 1112.8 L250.5 1112.2 L251.1 1112.0 L251.6 1112.2 L252.2 1113.0 L252.7 1114.2 L253.2 1115.8 L253.8 1117.8 L254.3 1120.1 L254.9 1122.9 L255.4 1125.9 L256.0 1129.1 L256.5 1132.7 L257.0 1136.3 L257.6 1140.2 L258.1 1144.1 L258.7 1148.1 L259.2 1152.1 L259.8 1156.0 L260.3 1159.9 L260.9 1163.6 L261.4 1167.2 L261.9 1170.5 L262.5 1173.7 L263.0 1176.5 L263.6 1179.1 L264.1 1181.4 L264.7 1183.2 L265.2 1184.8 L265.7 1185.9 L266.3 1186.7 L266.8 1187.1 L267.4 1187.1 L267.9 1186.7 L268.5 1186.0 L269.0 1184.9 L269.6 1183.4 L270.1 1181.6 L270.6 1179.6 L271.2 1177.2 L271.7 1174.6 L272.3 1171.9 L272.8 1168.9 L273.4 1165.9 L273.9 1162.7 L274.4 1159.5 L275.0 1156.3 L275.5 1153.1 L276.1 1150.1 L276.6 1147.1 L277.2 1144.3 L277.7 1141.7 L278.2 1139.3 L278.8 1137.2 L279.3 1135.4 L279.9 1133.9 L280.4 1132.8 L281.0 1132.0 L281.5 1131.6 L282.1 1131.6 L282.6 1132.1 L283.1 1132.9 L283.7 1134.2 L284.2 1135.8 L284.8 1137.9 L285.3 1140.4 L285.9 1143.2 L286.4 1146.4 L286.9 1150.0 L287.5 1153.8 L288.0 1157.9 L288.6 1162.3 L289.1 1166.9 L289.7 1171.7 L290.2 1176.6 L290.8 1181.6 L291.3 1186.7 L291.8 1191.8 L292.4 1196.8 L292.9 1201.9 L293.5 1206.8 L294.0 1211.6 L294.6 1216.3 L295.1 1220.7 L295.6 1225.0 L296.2 1228.9 L296.7 1232.6 L297.3 1236.0 L297.8 1239.1 L298.4 1241.9 L298.9 1244.3 L299.5 1246.4 L300.0 1248.1 L300.5 1249.5 L301.1 1250.5 L301.6 1251.3 L302.2 1251.7 L302.7 1251.8 L303.3 1251.6 L303.8 1251.1 L304.3 1250.4 L304.9 1249.6 L305.4 1248.5 L306.0 1247.3 L306.5 1246.0 L307.1 1244.7 L307.6 1243.2 L308.1 1241.8 L308.7 1240.5 L309.2 1239.2 L309.8 1238.0 L310.3 1237.0 L310.9 1236.1 L311.4 1235.4 L312.0 1235.0 L312.5 1234.8 L313.0 1235.0 L313.6 1235.4 L314.1 1236.1 L314.7 1237.2 L315.2 1238.6 L315.8 1240.4 L316.3 1242.6 L316.8 1245.1 L317.4 1247.9 L317.9 1251.1 L318.5 1254.6 L319.0 1258.4 L319.6 1262.6 L320.1 1267.0 L320.7 1271.6 L321.2 1276.5 L321.7 1281.6 L322.3 1286.9 L322.8 1292.3 L323.4 1297.8 L323.9 1303.3 L324.5 1308.9 L325.0 1314.6 L325.5 1320.1 L326.1 1325.6 L326.6 1331.1 L327.2 1336.3 L327.7 1341.5 L328.3 1346.4 L328.8 1351.1 L329.3 1355.6 L329.9 1359.8 L330.4 1363.8 L331.0 1367.4 L331.5 1370.8 L332.1 1373.8 L332.6 1376.6 L333.2 1379.0 L333.7 1381.1 L334.2 1383.0 L334.8 1384.5 L335.3 1385.7 L335.9 1386.7 L336.4 1387.4 L337.0 1387.9 L337.5 1388.2 L338.0 1388.3 L338.6 1388.3 L339.1 1388.1 L339.7 1387.9 L340.2 1387.6 L340.8 1387.2 L341.3 1386.9 L341.9 1386.6 L342.4 1386.4 L342.9 1386.2 L343.5 1386.2 L344.0 1386.4 L344.6 1386.7 L345.1 1387.2 L345.7 1387.9 L346.2 1388.9 L346.7 1390.2 L347.3 1391.7 L347.8 1393.6 L348.4 1395.7 L348.9 1398.1 L349.5 1400.8 L350.0 1403.9 L350.6 1407.2 L351.1 1410.8 L351.6 1414.7 L352.2 1418.8 L352.7 1423.2 L353.3 1427.8 L353.8 1432.7 L354.4 1437.7 L354.9 1442.8 L355.4 1448.1 L356.0 1453.5 L356.5 1459.0 L357.1 1464.5 L357.6 1470.0 L358.2 1475.5 L358.7 1481.0 L359.2 1486.4 L359.8 1491.6 L360.3 1496.8 L360.9 1501.7 L361.4 1506.5 L362.0 1511.1 L362.5 1515.5 L363.1 1519.6 L363.6 1523.5 L364.1 1527.1 L364.7 1530.5 L365.2 1533.5 L365.8 1536.3 L366.3 1538.8 L366.9 1541.0 L367.4 1542.9 L367.9 1544.6 L368.5 1546.0 L369.0 1547.2 L369.6 1548.1 L370.1 1548.9 L370.7 1549.5 L371.2 1549.9 L371.8 1550.2 L372.3 1550.3 L372.8 1550.4 L373.4 1550.5 L373.9 1550.5 L374.5 1550.5 L375.0 1550.5 L375.6 1550.6 L376.1 1550.8 L376.6 1551.1 L377.2 1551.5 L377.7 1552.0 L378.3 1552.8 L378.8 1553.7 L379.4 1554.9 L379.9 1556.3 L380.5 1557.9 L381.0 1559.7 L381.5 1561.8 L382.1 1564.2 L382.6 1566.8 L383.2 1569.7 L383.7 1572.8 L384.3 1576.1 L384.8 1579.7 L385.3 1583.5 L385.9 1587.5 L386.4 1591.7 L387.0 1596.0 L387.5 1600.5 L388.1 1605.1 L388.6 1609.8 L389.1 1614.5 L389.7 1619.3 L390.2 1624.1 L390.8 1628.9 L391.3 1633.7 L391.9 1638.4 L392.4 1643.0 L393.0 1647.6 L393.5 1651.9 L394.0 1656.2 L394.6 1660.2 L395.1 1664.0 L395.7 1667.7 L396.2 1671.1 L396.8 1674.3 L397.3 1677.2 L397.8 1679.9 L398.4 1682.3 L398.9 1684.4 L399.5 1686.3 L400.0 1688.0 L400.6 1689.3 L401.1 1690.5 L401.7 1691.4 L402.2 1692.1 L402.7 1692.6 L403.3 1693.0 L403.8 1693.1 L404.4 1693.1 L404.9 1693.0 L405.5 1692.8 L406.0 1692.5 L406.5 1692.2 L407.1 1691.8 L407.6 1691.5 L408.2 1691.1 L408.7 1690.8 L409.3 1690.6 L409.8 1690.5 L410.4 1690.4 L410.9 1690.5 L411.4 1690.8 L412.0 1691.2 L412.5 1691.8 L413.1 1692.6 L413.6 1693.6 L414.2 1694.7 L414.7 1696.1 L415.2 1697.7 L415.8 1699.5 L416.3 1701.5 L416.9 1703.8 L417.4 1706.2 L418.0 1708.8 L418.5 1711.5 L419.0 1714.4 L419.6 1717.5 L420.1 1720.7 L420.7 1724.0 L421.2 1727.4 L421.8 1730.8 L422.3 1734.3 L422.9 1737.8 L423.4 1741.3 L423.9 1744.7 L424.5 1748.2 L425.0 1751.5 L425.6 1754.7 L426.1 1757.9 L426.7 1760.9 L427.2 1763.7 L427.7 1766.4 L428.3 1768.8 L428.8 1771.1 L429.4 1773.2 L429.9 1775.0 L430.5 1776.6 L431.0 1777.9 L431.6 1779.1 L432.1 1780.0 L432.6 1780.6 L433.2 1781.0 L433.7 1781.2 L434.3 1781.2 L434.8 1780.9 L435.4 1780.5 L435.9 1779.8 L436.4 1779.0 L437.0 1778.1 L437.5 1777.0 L438.1 1775.8 L438.6 1774.5 L439.2 1773.2 L439.7 1771.8 L440.2 1770.3 L440.8 1768.9 L441.3 1767.4 L441.9 1766.0 L442.4 1764.7 L443.0 1763.4 L443.5 1762.2 L444.1 1761.2 L444.6 1760.2 L445.1 1759.4 L445.7 1758.7 L446.2 1758.2 L446.8 1757.8 L447.3 1757.6 L447.9 1757.6 L448.4 1757.7 L448.9 1758.0 L449.5 1758.5 L450.0 1759.2 L450.6 1759.9 L451.1 1760.9 L451.7 1762.0 L452.2 1763.1 L452.8 1764.4 L453.3 1765.8 L453.8 1767.3 L454.4 1768.8 L454.9 1770.3 L455.5 1771.9 L456.0 1773.5 L456.6 1775.0 L457.1 1776.5 L457.6 1777.9 L458.2 1779.2 L458.7 1780.5 L459.3 1781.6 L459.8 1782.6 L460.4 1783.4 L460.9 1784.0 L461.5 1784.5 L462.0 1784.7 L462.5 1784.8 L463.1 1784.7 L463.6 1784.3 L464.2 1783.7 L464.7 1782.9 L465.3 1781.8 L465.8 1780.6 L466.3 1779.1 L466.9 1777.4 L467.4 1775.5 L468.0 1773.4 L468.5 1771.1 L469.1 1768.7 L469.6 1766.1 L470.1 1763.4 L470.7 1760.5 L471.2 1757.5 L471.8 1754.5 L472.3 1751.3 L472.9 1748.1 L473.4 1744.9 L474.0 1741.7 L474.5 1738.4 L475.0 1735.2 L475.6 1732.1 L476.1 1728.9 L476.7 1725.9 L477.2 1722.9 L477.8 1720.0 L478.3 1717.3 L478.8 1714.6 L479.4 1712.1 L479.9 1709.7 L480.5 1707.4 L481.0 1705.3 L481.6 1703.3 L482.1 1701.4 L482.7 1699.7 L483.2 1698.0 L483.7 1696.5 L484.3 1695.2 L484.8 1693.9 L485.4 1692.7 L485.9 1691.5 L486.5 1690.4 L487.0 1689.4 L487.5 1688.4 L488.1 1687.4 L488.6 1686.4 L489.2 1685.4 L489.7 1684.3 L490.3 1683.2 L490.8 1682.0 L491.4 1680.7 L491.9 1679.3 L492.4 1677.7 L493.0 1676.0 L493.5 1674.2 L494.1 1672.2 L494.6 1670.0 L495.2 1667.6 L495.7 1665.0 L496.2 1662.3 L496.8 1659.3 L497.3 1656.1 L497.9 1652.7 L498.4 1649.0 L499.0 1645.2 L499.5 1641.2 L500.0 1637.0 L500.6 1632.5 L501.1 1627.9 L501.7 1623.1 L502.2 1618.2 L502.8 1613.1 L503.3 1607.9 L503.9 1602.5 L504.4 1597.1 L504.9 1591.6 L505.5 1585.9 L506.0 1580.3 L506.6 1574.6 L507.1 1568.8 L507.7 1563.1 L508.2 1557.4 L508.7 1551.7 L509.3 1546.0 L509.8 1540.4 L510.4 1534.8 L510.9 1529.3 L511.5 1523.9 L512.0 1518.6 L512.6 1513.3 L513.1 1508.2 L513.6 1503.1 L514.2 1498.2 L514.7 1493.4 L515.3 1488.6 L515.8 1484.0 L516.4 1479.5 L516.9 1475.0 L517.4 1470.6 L518.0 1466.3 L518.5 1462.0 L519.1 1457.8 L519.6 1453.6 L520.2 1449.6 L520.7 1445.7 L521.2 1442.0 L521.8 1438.5 L522.3 1435.2 L522.9 1432.3 L523.4 1429.7 L524.0 1427.5 L524.5 1425.6 L525.1 1424.1 L525.6 1423.1 L526.1 1422.4 L526.7 1422.2 L527.2 1422.4 L527.8 1423.0 L528.3 1424.0 L528.9 1425.5 L529.4 1427.3 L529.9 1429.5 L530.5 1432.0 L531.0 1434.8 L531.6 1437.9 L532.1 1441.2 L532.7 1444.8 L533.2 1448.5 L533.8 1452.3 L534.3 1456.2 L534.8 1460.2 L535.4 1464.1 L535.9 1468.1 L536.5 1471.9 L537.0 1475.6 L537.6 1479.1 L538.1 1482.5 L538.6 1485.6 L539.2 1488.4 L539.7 1491.0 L540.3 1493.2 L540.8 1495.0 L541.4 1496.5 L541.9 1497.7 L542.5 1498.4 L543.0 1498.7 L543.5 1498.7 L544.1 1498.2 L544.6 1497.4 L545.2 1496.2 L545.7 1494.6 L546.3 1492.7 L546.8 1490.4 L547.3 1487.9 L547.9 1485.1 L548.4 1482.0 L549.0 1478.8 L549.5 1475.4 L550.1 1471.8 L550.6 1468.2 L551.1 1464.5 L551.7 1460.8 L552.2 1457.1 L552.8 1453.5 L553.3 1449.9 L553.9 1446.6 L554.4 1443.4 L555.0 1440.4 L555.5 1437.7 L556.0 1435.2 L556.6 1433.0 L557.1 1431.1 L557.7 1429.6 L558.2 1428.5 L558.8 1427.6 L559.3 1427.2 L559.8 1427.1 L560.4 1427.4 L560.9 1428.1 L561.5 1429.1 L562.0 1430.5 L562.6 1432.2 L563.1 1434.2 L563.7 1436.5 L564.2 1439.0 L564.7 1441.8 L565.3 1444.8 L565.8 1447.9 L566.4 1451.2 L566.9 1454.6 L567.5 1458.1 L568.0 1461.5 L568.5 1465.0 L569.1 1468.4 L569.6 1471.7 L570.2 1474.9 L570.7 1478.0 L571.3 1480.8 L571.8 1483.5 L572.4 1485.9 L572.9 1488.0 L573.4 1489.8 L574.0 1491.4 L574.5 1492.6 L575.1 1493.5 L575.6 1494.0 L576.2 1494.2 L576.7 1494.0 L577.2 1493.5 L577.8 1492.7 L578.3 1491.5 L578.9 1490.0 L579.4 1488.2 L580.0 1486.2 L580.5 1483.8 L581.0 1481.3 L581.6 1478.6 L582.1 1475.7 L582.7 1472.6 L583.2 1469.5 L583.8 1466.3 L584.3 1463.0 L584.9 1459.8 L585.4 1456.6 L585.9 1453.4 L586.5 1450.4 L587.0 1447.5 L587.6 1444.8 L588.1 1442.2 L588.7 1439.9 L589.2 1437.8 L589.7 1436.0 L590.3 1434.5 L590.8 1433.2 L591.4 1432.3 L591.9 1431.7 L592.5 1431.4 L593.0 1431.5 L593.6 1431.8 L594.1 1432.5 L594.6 1433.5 L595.2 1434.8 L595.7 1436.4 L596.3 1438.2 L596.8 1440.3 L597.4 1442.6 L597.9 1445.1 L598.4 1447.8 L599.0 1450.6 L599.5 1453.5 L600.1 1456.5 L600.6 1459.5 L601.2 1462.6 L601.7 1465.6 L602.2 1468.5 L602.8 1471.4 L603.3 1474.2 L603.9 1476.8 L604.4 1479.2 L605.0 1481.5 L605.5 1483.5 L606.1 1485.3 L606.6 1486.8 L607.1 1488.1 L607.7 1489.0 L608.2 1489.7 L608.8 1490.1 L609.3 1490.1 L609.9 1489.9 L610.4 1489.3 L610.9 1488.5 L611.5 1487.4 L612.0 1486.0 L612.6 1484.3 L613.1 1482.5 L613.7 1480.4 L614.2 1478.1 L614.8 1475.7 L615.3 1473.1 L615.8 1470.4 L616.4 1467.6 L616.9 1464.8 L617.5 1461.9 L618.0 1459.1 L618.6 1456.3 L619.1 1453.6 L619.6 1451.0 L620.2 1448.5 L620.7 1446.1 L621.3 1444.0 L621.8 1442.0 L622.4 1440.2 L622.9 1438.7 L623.5 1437.5 L624.0 1436.5 L624.5 1435.8 L625.1 1435.3 L625.6 1435.2 L626.2 1435.3 L626.7 1435.7 L627.3 1436.4 L627.8 1437.4 L628.3 1438.6 L628.9 1440.1 L629.4 1441.8 L630.0 1443.6 L630.5 1445.7 L631.1 1448.0 L631.6 1450.3 L632.1 1452.8 L632.7 1455.4 L633.2 1458.0 L633.8 1460.7 L634.3 1463.4 L634.9 1466.0 L635.4 1468.6 L636.0 1471.0 L636.5 1473.4 L637.0 1475.7 L637.6 1477.8 L638.1 1479.7 L638.7 1481.4 L639.2 1482.8 L639.8 1484.1 L640.3 1485.1 L640.8 1485.9 L641.4 1486.4 L641.9 1486.6 L642.5 1486.6 L643.0 1486.3 L643.6 1485.7 L644.1 1484.9 L644.7 1483.8 L645.2 1482.5 L645.7 1481.0 L646.3 1479.3 L646.8 1477.4 L647.4 1475.4 L647.9 1473.2 L648.5 1470.9 L649.0 1468.5 L649.5 1466.1 L650.1 1463.6 L650.6 1461.1 L651.2 1458.6 L651.7 1456.2 L652.3 1453.8 L652.8 1451.6 L653.4 1449.4 L653.9 1447.4 L654.4 1445.6 L655.0 1443.9 L655.5 1442.4 L656.1 1441.2 L656.6 1440.2 L657.2 1439.4 L657.7 1438.8 L658.2 1438.5 L658.8 1438.5 L659.3 1438.7 L659.9 1439.1 L660.4 1439.8 L661.0 1440.7 L661.5 1441.9 L662.0 1443.2 L662.6 1444.8 L663.1 1446.5 L663.7 1448.4 L664.2 1450.4 L664.8 1452.5 L665.3 1454.7 L665.9 1457.0 L666.4 1459.3 L666.9 1461.6 L667.5 1463.9 L668.0 1466.2 L668.6 1468.4 L669.1 1470.6 L669.7 1472.6 L670.2 1474.6 L670.7 1476.3 L671.3 1477.9 L671.8 1479.4 L672.4 1480.6 L672.9 1481.6 L673.5 1482.5 L674.0 1483.0 L674.6 1483.4 L675.1 1483.5 L675.6 1483.4 L676.2 1483.1 L676.7 1482.5 L677.3 1481.7 L677.8 1480.7 L678.4 1479.5 L678.9 1478.1 L679.4 1476.6 L680.0 1474.9 L680.5 1473.1 L681.1 1471.1 L681.6 1469.1 L682.2 1467.0 L682.7 1464.8 L683.2 1462.6 L683.8 1460.4 L684.3 1458.3 L684.9 1456.2 L685.4 1454.1 L686.0 1452.2 L686.5 1450.3 L687.1 1448.6 L687.6 1447.1 L688.1 1445.7 L688.7 1444.5 L689.2 1443.4 L689.8 1442.6 L690.3 1442.0 L690.9 1441.6 L691.4 1441.4 L691.9 1441.4 L692.5 1441.7 L693.0 1442.1 L693.6 1442.8 L694.1 1443.7 L694.7 1444.7 L695.2 1446.0 L695.8 1447.4 L696.3 1448.9 L696.8 1450.6 L697.4 1452.4 L697.9 1454.3 L698.5 1456.2 L699.0 1458.2 L699.6 1460.3 L700.1 1462.3 L700.6 1464.3 L701.2 1466.3 L701.7 1468.2 L702.3 1470.1 L702.8 1471.9 L703.4 1473.5 L703.9 1475.0 L704.5 1476.4 L705.0 1477.6 L705.5 1478.6 L706.1 1479.4 L706.6 1480.1 L707.2 1480.5 L707.7 1480.8 L708.3 1480.8 L708.8 1480.6 L709.3 1480.3 L709.9 1479.7 L710.4 1479.0 L711.0 1478.0 L711.5 1476.9 L712.1 1475.7 L712.6 1474.3 L713.1 1472.7 L713.7 1471.1 L714.2 1469.4 L714.8 1467.5 L715.3 1465.7 L715.9 1463.8 L716.4 1461.9 L717.0 1460.0 L717.5 1458.1 L718.0 1456.3 L718.6 1454.5 L719.1 1452.8 L719.7 1451.3 L720.2 1449.8 L720.8 1448.5 L721.3 1447.3 L721.8 1446.3 L722.4 1445.4 L722.9 1444.8 L723.5 1444.3 L724.0 1444.0 L724.6 1443.9 L725.1 1444.0 L725.7 1444.3 L726.2 1444.7 L726.7 1445.4 L727.3 1446.2 L727.8 1447.2 L728.4 1448.3 L728.9 1449.6 L729.5 1451.0 L730.0 1452.5 L730.5 1454.1 L731.1 1455.8 L731.6 1457.5 L732.2 1459.3 L732.7 1461.0 L733.3 1462.8 L733.8 1464.6 L734.4 1466.3 L734.9 1468.0 L735.4 1469.6 L736.0 1471.1 L736.5 1472.5 L737.1 1473.8 L737.6 1474.9 L738.2 1475.9 L738.7 1476.8 L739.2 1477.4 L739.8 1477.9 L740.3 1478.3 L740.9 1478.4 L741.4 1478.4 L742.0 1478.2 L742.5 1477.8 L743.0 1477.3 L743.6 1476.6 L744.1 1475.7 L744.7 1474.7 L745.2 1473.5 L745.8 1472.3 L746.3 1470.9 L746.9 1469.4 L747.4 1467.9 L747.9 1466.3 L748.5 1464.6 L749.0 1463.0 L749.6 1461.3 L750.1 1459.6 L750.7 1458.0 L751.2 1456.4 L751.7 1454.9 L752.3 1453.5 L752.8 1452.1 L753.4 1450.9 L753.9 1449.8 L754.5 1448.8 L755.0 1447.9 L755.6 1447.3 L756.1 1446.7 L756.6 1446.4 L757.2 1446.2 L757.7 1446.1 L758.3 1446.3 L758.8 1446.6 L759.4 1447.0 L759.9 1447.6 L760.4 1448.4 L761.0 1449.3 L761.5 1450.3 L762.1 1451.5 L762.6 1452.8 L763.2 1454.1 L763.7 1455.5 L764.2 1457.0 L764.8 1458.5 L765.3 1460.1 L765.9 1461.6 L766.4 1463.2 L767.0 1464.7 L767.5 1466.2 L768.1 1467.7 L768.6 1469.1 L769.1 1470.4 L769.7 1471.5 L770.2 1472.6 L770.8 1473.6 L771.3 1474.4 L771.9 1475.1 L772.4 1475.7 L772.9 1476.0 L773.5 1476.3 L774.0 1476.4 L774.6 1476.3 L775.1 1476.1 L775.7 1475.7 L776.2 1475.2 L776.8 1474.5 L777.3 1473.7 L777.8 1472.8 L778.4 1471.7 L778.9 1470.6 L779.5 1469.3 L780.0 1468.0 L780.6 1466.7 L781.1 1465.2 L781.6 1463.8 L782.2 1462.3 L782.7 1460.9 L783.3 1459.4 L783.8 1458.0 L784.4 1456.6 L784.9 1455.3 L785.5 1454.1 L786.0 1452.9 L786.5 1451.9 L787.1 1451.0 L787.6 1450.1 L788.2 1449.4 L788.7 1448.9 L789.3 1448.5 L789.8 1448.2 L790.3 1448.1 L790.9 1448.1 L791.4 1448.3 L792.0 1448.6 L792.5 1449.0 L793.1 1449.6 L793.6 1450.3 L794.1 1451.1 L794.7 1452.1 L795.2 1453.1 L795.8 1454.3 L796.3 1455.5 L796.9 1456.7 L797.4 1458.0 L798.0 1459.4 L798.5 1460.7 L799.0 1462.1 L799.6 1463.5 L800.1 1464.8 L800.7 1466.1 L801.2 1467.4 L801.8 1468.5 L802.3 1469.6 L802.8 1470.7 L803.4 1471.6 L803.9 1472.4 L804.5 1473.1 L805.0 1473.6 L805.6 1474.1 L806.1 1474.4 L806.7 1474.5 L807.2 1474.5 L807.7 1474.4 L808.3 1474.2 L808.8 1473.8 L809.4 1473.3 L809.9 1472.7 L810.5 1471.9 L811.0 1471.1 L811.5 1470.2 L812.1 1469.1 L812.6 1468.0 L813.2 1466.9 L813.7 1465.6 L814.3 1464.4 L814.8 1463.1 L815.4 1461.8 L815.9 1460.6 L816.4 1459.3 L817.0 1458.1 L817.5 1456.9 L818.1 1455.8 L818.6 1454.7 L819.2 1453.7 L819.7 1452.8 L820.2 1452.0 L820.8 1451.4 L821.3 1450.8 L821.9 1450.4 L822.4 1450.0 L823.0 1449.8 L823.5 1449.8 L824.0 1449.8 L824.6 1450.0 L825.1 1450.3 L825.7 1450.8 L826.2 1451.3 L826.8 1452.0 L827.3 1452.7 L827.9 1453.6 L828.4 1454.5 L828.9 1455.5 L829.5 1456.6 L830.0 1457.7 L830.6 1458.9 L831.1 1460.1 L831.7 1461.3 L832.2 1462.5 L832.7 1463.7 L833.3 1464.8 L833.8 1465.9 L834.4 1467.0 L834.9 1468.0 L835.5 1469.0 L836.0 1469.8 L836.6 1470.6 L837.1 1471.3 L837.6 1471.8 L838.2 1472.3 L838.7 1472.6 L839.3 1472.9 L839.8 1473.0 L840.4 1472.9 L840.9 1472.8 L841.4 1472.5 L842.0 1472.2 L842.5 1471.7 L843.1 1471.1 L843.6 1470.4 L844.2 1469.7 L844.7 1468.8 L845.2 1467.9 L845.8 1466.9 L846.3 1465.9 L846.9 1464.8 L847.4 1463.7 L848.0 1462.6 L848.5 1461.4 L849.1 1460.3 L849.6 1459.2 L850.1 1458.2 L850.7 1457.2 L851.2 1456.2 L851.8 1455.3 L852.3 1454.5 L852.9 1453.7 L853.4 1453.0 L853.9 1452.5 L854.5 1452.0 L855.0 1451.7 L855.6 1451.4 L856.1 1451.3 L856.7 1451.3 L857.2 1451.4 L857.8 1451.6 L858.3 1451.9 L858.8 1452.3 L859.4 1452.8 L859.9 1453.4 L860.5 1454.1 L861.0 1454.9 L861.6 1455.7 L862.1 1456.6 L862.6 1457.6 L863.2 1458.6 L863.7 1459.6 L864.3 1460.6 L864.8 1461.7 L865.4 1462.7 L865.9 1463.8 L866.5 1464.8 L867.0 1465.7 L867.5 1466.7 L868.1 1467.5 L868.6 1468.3 L869.2 1469.1 L869.7 1469.7 L870.3 1470.3 L870.8 1470.7 L871.3 1471.1 L871.9 1471.4 L872.4 1471.5 L873.0 1471.6 L873.5 1471.5 L874.1 1471.4 L874.6 1471.1 L875.1 1470.8 L875.7 1470.3 L876.2 1469.8 L876.8 1469.1 L877.3 1468.4 L877.9 1467.7 L878.4 1466.8 L879.0 1466.0 L879.5 1465.0 L880.0 1464.1 L880.6 1463.1 L881.1 1462.1 L881.7 1461.2 L882.2 1460.2 L882.8 1459.2 L883.3 1458.3 L883.8 1457.4 L884.4 1456.6 L884.9 1455.8 L885.5 1455.1 L886.0 1454.5 L886.6 1454.0 L887.1 1453.5 L887.7 1453.1 L888.2 1452.8 L888.7 1452.7 L889.3 1452.6 L889.8 1452.6 L890.4 1452.7 L890.9 1452.9 L891.5 1453.2 L892.0 1453.6 L892.5 1454.1 L893.1 1454.6 L893.6 1455.3 L894.2 1456.0 L894.7 1456.7 L895.3 1457.5 L895.8 1458.4 L896.4 1459.3 L896.9 1460.2 L897.4 1461.1 L898.0 1462.0 L898.5 1462.9 L899.1 1463.8 L899.6 1464.7 L900.2 1465.5 L900.7 1466.3 L901.2 1467.0 L901.8 1467.7 L902.3 1468.3 L902.9 1468.9 L903.4 1469.3 L904.0 1469.7 L904.5 1470.0 L905.0 1470.2 L905.6 1470.3 L906.1 1470.3 L906.7 1470.3 L907.2 1470.1 L907.8 1469.9 L908.3 1469.5 L908.9 1469.1 L909.4 1468.6 L909.9 1468.0 L910.5 1467.4 L911.0 1466.7 L911.6 1466.0 L912.1 1465.2 L912.7 1464.4 L913.2 1463.5 L913.7 1462.7 L914.3 1461.8 L914.8 1460.9 L915.4 1460.1 L915.9 1459.3 L916.5 1458.5 L917.0 1457.7 L917.6 1457.0 L918.1 1456.4 L918.6 1455.8 L919.2 1455.2 L919.7 1454.8 L920.3 1454.4 L920.8 1454.1 L921.4 1453.9 L921.9 1453.7 L922.4 1453.7 L923.0 1453.7 L923.5 1453.9 L924.1 1454.1 L924.6 1454.4 L925.2 1454.7 L925.7 1455.2 L926.3 1455.7 L926.8 1456.3 L927.3 1456.9 L927.9 1457.6 L928.4 1458.3 L929.0 1459.0 L929.5 1459.8 L930.1 1460.6 L930.6 1461.4 L931.1 1462.2 L931.7 1463.0 L932.2 1463.8 L932.8 1464.6 L933.3 1465.3 L933.9 1466.0 L934.4 1466.6 L934.9 1467.2 L935.5 1467.7 L936.0 1468.1 L936.6 1468.5 L937.1 1468.8 L937.7 1469.1 L938.2 1469.2 L938.8 1469.3 L939.3 1469.3 L939.8 1469.2 L940.4 1469.0 L940.9 1468.8 L941.5 1468.4 L942.0 1468.0 L942.6 1467.6 L943.1 1467.1 L943.6 1466.5 L944.2 1465.9 L944.7 1465.2 L945.3 1464.5 L945.8 1463.8 L946.4 1463.1 L946.9 1462.3 L947.5 1461.5 L948.0 1460.8 L948.5 1460.1 L949.1 1459.3 L949.6 1458.7 L950.2 1458.0 L950.7 1457.4 L951.3 1456.9 L951.8 1456.3 L952.3 1455.9 L952.9 1455.5 L953.4 1455.2 L954.0 1455.0 L954.5 1454.8 L955.1 1454.7 L955.6 1454.7 L956.1 1454.8 L956.7 1454.9 L957.2 1455.1 L957.8 1455.4 L958.3 1455.7 L958.9 1456.1 L959.4 1456.6 L960.0 1457.1 L960.5 1457.7 L961.0 1458.3 L961.6 1458.9 L962.1 1459.6 L962.7 1460.3 L963.2 1461.0 L963.8 1461.7 L964.3 1462.4 L964.8 1463.1 L965.4 1463.8 L965.9 1464.4 L966.5 1465.0 L967.0 1465.6 L967.6 1466.2 L968.1 1466.7 L968.7 1467.1 L969.2 1467.5 L969.7 1467.8 L970.3 1468.0 L970.8 1468.2 L971.4 1468.3 L971.9 1468.3 L972.5 1468.3 L973.0 1468.2 L973.5 1468.0 L974.1 1467.8 L974.6 1467.5 L975.2 1467.1 L975.7 1466.7 L976.3 1466.2 L976.8 1465.7 L977.4 1465.2 L977.9 1464.6 L978.4 1464.0 L979.0 1463.3 L979.5 1462.7 L980.1 1462.0 L980.6 1461.4 L981.2 1460.7 L981.7 1460.1 L982.2 1459.4 L982.8 1458.9 L983.3 1458.3 L983.9 1457.8 L984.4 1457.3 L985.0 1456.9 L985.5 1456.5 L986.0 1456.2 L986.6 1456.0 L987.1 1455.8 L987.7 1455.6 L988.2 1455.6 L988.8 1455.6 L989.3 1455.7 L989.9 1455.8 L990.4 1456.0 L990.9 1456.3 L991.5 1456.6 L992.0 1457.0 L992.6 1457.4 L993.1 1457.9 L993.7 1458.4 L994.2 1458.9 L994.7 1459.5 L995.3 1460.1 L995.8 1460.7 L996.4 1461.3 L996.9 1461.9 L997.5 1462.5 L998.0 1463.1 L998.6 1463.7 L999.1 1464.3 L999.6 1464.8 L1000.2 1465.3 L1000.7 1465.8 L1001.3 1466.2 L1001.8 1466.5 L1002.4 1466.9 L1002.9 1467.1 L1003.4 1467.3 L1004.0 1467.4 L1004.5 1467.5 L1005.1 1467.5 L1005.6 1467.5 L1006.2 1467.4 L1006.7 1467.2 L1007.3 1467.0 L1007.8 1466.7 L1008.3 1466.3 L1008.9 1466.0 L1009.4 1465.5 L1010.0 1465.1 L1010.5 1464.6 L1011.1 1464.1 L1011.6 1463.5 L1012.1 1462.9 L1012.7 1462.4 L1013.2 1461.8 L1013.8 1461.2 L1014.3 1460.6 L1014.9 1460.1 L1015.4 1459.6 L1015.9 1459.0 L1016.5 1458.6 L1017.0 1458.1 L1017.6 1457.7 L1018.1 1457.4 L1018.7 1457.1 L1019.2 1456.8 L1019.8 1456.6 L1020.3 1456.5 L1020.8 1456.4 L1021.4 1456.3 L1021.9 1456.4 L1022.5 1456.5 L1023.0 1456.6 L1023.6 1456.8 L1024.1 1457.0 L1024.6 1457.3 L1025.2 1457.7 L1025.7 1458.1 L1026.3 1458.5 L1026.8 1458.9 L1027.4 1459.4 L1027.9 1459.9 L1028.5 1460.5 L1029.0 1461.0 L1029.5 1461.5 L1030.1 1462.1 L1030.6 1462.6 L1031.2 1463.1 L1031.7 1463.6 L1032.3 1464.1 L1032.8 1464.6 L1033.3 1465.0 L1033.9 1465.4 L1034.4 1465.7 L1035.0 1466.0 L1035.5 1466.3 L1036.1 1466.5 L1036.6 1466.7 L1037.1 1466.8 L1037.7 1466.8 L1038.2 1466.8 L1038.8 1466.7 L1039.3 1466.6 L1039.9 1466.5 L1040.4 1466.2 L1041.0 1466.0 L1041.5 1465.7 L1042.0 1465.3 L1042.6 1464.9 L1043.1 1464.5 L1043.7 1464.1 L1044.2 1463.6 L1044.8 1463.1 L1045.3 1462.6 L1045.8 1462.1 L1046.4 1461.6 L1046.9 1461.1 L1047.5 1460.6 L1048.0 1460.1 L1048.6 1459.7 L1049.1 1459.2 L1049.7 1458.8 L1050.2 1458.5 L1050.7 1458.1 L1051.3 1457.8 L1051.8 1457.6 L1052.4 1457.4 L1052.9 1457.2 L1053.5 1457.1 L1054.0 1457.0 L1054.5 1457.0 L1055.1 1457.1 L1055.6 1457.2 L1056.2 1457.3 L1056.7 1457.5 L1057.3 1457.7 L1057.8 1458.0 L1058.4 1458.3 L1058.9 1458.6 L1059.4 1459.0 L1060.0 1459.4 L1060.5 1459.9 L1061.1 1460.3 L1061.6 1460.8 L1062.2 1461.2 L1062.7 1461.7 L1063.2 1462.2 L1063.8 1462.7 L1064.3 1463.1 L1064.9 1463.5 L1065.4 1464.0 L1066.0 1464.4 L1066.5 1464.7 L1067.0 1465.0 L1067.6 1465.3 L1068.1 1465.6 L1068.7 1465.8 L1069.2 1466.0 L1069.8 1466.1 L1070.3 1466.2 L1070.9 1466.2 L1071.4 1466.2 L1071.9 1466.1 L1072.5 1466.0 L1073.0 1465.8 L1073.6 1465.6 L1074.1 1465.4 L1074.7 1465.1 L1075.2 1464.8 L1075.7 1464.4 L1076.3 1464.0 L1076.8 1463.7 L1077.4 1463.2 L1077.9 1462.8 L1078.5 1462.4 L1079.0 1461.9 L1079.6 1461.5 L1080.1 1461.0 L1080.6 1460.6 L1081.2 1460.2 L1081.7 1459.8 L1082.3 1459.4 L1082.8 1459.1 L1083.4 1458.8 L1083.9 1458.5 L1084.4 1458.2 L1085.0 1458.0 L1085.5 1457.9 L1086.1 1457.7 L1086.6 1457.6 L1087.2 1457.6 L1087.7 1457.6 L1088.3 1457.7 L1088.8 1457.8 L1089.3 1457.9 L1089.9 1458.1 L1090.4 1458.3 L1091.0 1458.5 L1091.5 1458.8 L1092.1 1459.1 L1092.6 1459.5 L1093.1 1459.8 L1093.7 1460.2 L1094.2 1460.6 L1094.8 1461.0 L1095.3 1461.4 L1095.9 1461.9 L1096.4 1462.3 L1096.9 1462.7 L1097.5 1463.1 L1098.0 1463.4 L1098.6 1463.8 L1099.1 1464.1 L1099.7 1464.4 L1100.2 1464.7 L1100.8 1465.0 L1101.3 1465.2 L1101.8 1465.3 L1102.4 1465.5 L1102.9 1465.6 L1103.5 1465.6 L1104.0 1465.6 L1104.6 1465.6 L1105.1 1465.5 L1105.6 1465.4 L1106.2 1465.3 L1106.7 1465.1 L1107.3 1464.8 L1107.8 1464.6 L1108.4 1464.3 L1108.9 1464.0 L1109.5 1463.7 L1110.0 1463.3 L1110.5 1462.9 L1111.1 1462.6 L1111.6 1462.2 L1112.2 1461.8 L1112.7 1461.4 L1113.3 1461.0 L1113.8 1460.6 L1114.3 1460.3 L1114.9 1459.9 L1115.4 1459.6 L1116.0 1459.3 L1116.5 1459.1 L1117.1 1458.8 L1117.6 1458.6 L1118.1 1458.4 L1118.7 1458.3 L1119.2 1458.2 L1119.8 1458.1 L1120.3 1458.1 L1120.9 1458.1 L1121.4 1458.2 L1122.0 1458.3 L1122.5 1458.4 L1123.0 1458.6 L1123.6 1458.8 L1124.1 1459.0 L1124.7 1459.3 L1125.2 1459.6 L1125.8 1459.9 L1126.3 1460.2 L1126.8 1460.5 L1127.4 1460.9 L1127.9 1461.2 L1128.5 1461.6 L1129.0 1462.0 L1129.6 1462.3 L1130.1 1462.7 L1130.7 1463.0 L1131.2 1463.3 L1131.7 1463.6 L1132.3 1463.9 L1132.8 1464.2 L1133.4 1464.4 L1133.9 1464.6 L1134.5 1464.8 L1135.0 1464.9 L1135.5 1465.0 L1136.1 1465.1 L1136.6 1465.1 L1137.2 1465.1 L1137.7 1465.1 L1138.3 1465.0 L1138.8 1464.9 L1139.4 1464.8 L1139.9 1464.6 L1140.4 1464.4 L1141.0 1464.1 L1141.5 1463.9 L1142.1 1463.6 L1142.6 1463.3 L1143.2 1463.0 L1143.7 1462.7 L1144.2 1462.3 L1144.8 1462.0 L1145.3 1461.7 L1145.9 1461.3 L1146.4 1461.0 L1147.0 1460.7 L1147.5 1460.4 L1148.0 1460.1 L1148.6 1459.8 L1149.1 1459.5 L1149.7 1459.3 L1150.2 1459.1 L1150.8 1458.9 L1151.3 1458.8 L1151.9 1458.7 L1152.4 1458.6 L1152.9 1458.6 L1153.5 1458.6 L1154.0 1458.6 L1154.6 1458.7 L1155.1 1458.8 L1155.7 1458.9 L1156.2 1459.0 L1156.7 1459.2 L1157.3 1459.4 L1157.8 1459.7 L1158.4 1459.9 L1158.9 1460.2 L1159.5 1460.5 L1160.0 1460.8 L1160.6 1461.1 L1161.1 1461.4 L1161.6 1461.7 L1162.2 1462.0 L1162.7 1462.4 L1163.3 1462.7 L1163.8 1463.0 L1164.4 1463.2 L1164.9 1463.5 L1165.4 1463.7 L1166.0 1464.0 L1166.5 1464.2 L1167.1 1464.3 L1167.6 1464.5 L1168.2 1464.6 L1168.7 1464.7 L1169.3 1464.7 L1169.8 1464.7 L1170.3 1464.7 L1170.9 1464.7 L1171.4 1464.6 L1172.0 1464.5 L1172.5 1464.3 L1173.1 1464.2 L1173.6 1464.0 L1174.1 1463.8 L1174.7 1463.5 L1175.2 1463.3 L1175.8 1463.0 L1176.3 1462.7 L1176.9 1462.5 L1177.4 1462.2 L1177.9 1461.9 L1178.5 1461.6 L1179.0 1461.3 L1179.6 1461.0 L1180.1 1460.7 L1180.7 1460.4 L1181.2 1460.2 L1181.8 1460.0 L1182.3 1459.7 L1182.8 1459.6 L1183.4 1459.4 L1183.9 1459.2 L1184.5 1459.1 L1185.0 1459.1 L1185.6 1459.0 L1186.1 1459.0 L1186.6 1459.0 L1187.2 1459.0 L1187.7 1459.1 L1188.3 1459.2 L1188.8 1459.3 L1189.4 1459.4 L1189.9 1459.6 L1190.5 1459.8 L1191.0 1460.0 L1191.5 1460.2 L1192.1 1460.5 L1192.6 1460.7 L1193.2 1461.0 L1193.7 1461.3 L1194.3 1461.5 L1194.8 1461.8 L1195.3 1462.1 L1195.9 1462.4 L1196.4 1462.6 L1197.0 1462.9 L1197.5 1463.1 L1198.1 1463.4 L1198.6 1463.6 L1199.1 1463.7 L1199.7 1463.9 L1200.2 1464.1 L1200.8 1464.2 L1201.3 1464.3 L1201.9 1464.3 L1202.4 1464.3 L1203.0 1464.4 L1203.5 1464.3 L1204.0 1464.3 L1204.6 1464.2 L1205.1 1464.1 L1205.7 1464.0 L1206.2 1463.8 L1206.8 1463.7 L1207.3 1463.5 L1207.8 1463.3 L1208.4 1463.0 L1208.9 1462.8 L1209.5 1462.5 L1210.0 1462.3 L1210.6 1462.0 L1211.1 1461.8 L1211.7 1461.5 L1212.2 1461.3 L1212.7 1461.0 L1213.3 1460.8 L1213.8 1460.5 L1214.4 1460.3 L1214.9 1460.1 L1215.5 1459.9 L1216.0 1459.8 L1216.5 1459.6 L1217.1 1459.5 L1217.6 1459.4 L1218.2 1459.4 L1218.7 1459.3 L1219.3 1459.3 L1219.8 1459.3 L1220.4 1459.4 L1220.9 1459.4 L1221.4 1459.5 L1222.0 1459.6 L1222.5 1459.8 L1223.1 1459.9 L1223.6 1460.1 L1224.2 1460.3 L1224.7 1460.5 L1225.2 1460.7 L1225.8 1460.9 L1226.3 1461.2 L1226.9 1461.4 L1227.4 1461.7 L1228.0 1461.9 L1228.5 1462.1 L1229.0 1462.4 L1229.6 1462.6 L1230.1 1462.8 L1230.7 1463.0 L1231.2 1463.2 L1231.8 1463.4 L1232.3 1463.5 L1232.9 1463.7 L1233.4 1463.8 L1233.9 1463.9 L1234.5 1464.0 L1235.0 1464.0 L1235.6 1464.0 L1236.1 1464.0 L1236.7 1464.0 L1237.2 1463.9 L1237.7 1463.9 L1238.3 1463.8 L1238.8 1463.7 L1239.4 1463.5 L1239.9 1463.4 L1240.5 1463.2 L1241.0 1463.0 L1241.6 1462.8 L1242.1 1462.6 L1242.6 1462.4 L1243.2 1462.1 L1243.7 1461.9 L1244.3 1461.7 L1244.8 1461.5 L1245.4 1461.2 L1245.9 1461.0 L1246.4 1460.8 L1247.0 1460.6 L1247.5 1460.4 L1248.1 1460.3 L1248.6 1460.1 L1249.2 1460.0 L1249.7 1459.9 L1250.3 1459.8 L1250.8 1459.7 L1251.3 1459.6 L1251.9 1459.6 L1252.4 1459.6 L1253.0 1459.6 L1253.5 1459.7 L1254.1 1459.7 L1254.6 1459.8 L1255.1 1459.9 L1255.7 1460.1 L1256.2 1460.2 L1256.8 1460.3 L1257.3 1460.5 L1257.9 1460.7 L1258.4 1460.9 L1258.9 1461.1 L1259.5 1461.3 L1260.0 1461.5 L1260.6 1461.7 L1261.1 1461.9 L1261.7 1462.2 L1262.2 1462.4 L1262.8 1462.6 L1263.3 1462.7 L1263.8 1462.9 L1264.4 1463.1 L1264.9 1463.2 L1265.5 1463.4 L1266.0 1463.5 L1266.6 1463.6 L1267.1 1463.6 L1267.6 1463.7 L1268.2 1463.7 L1268.7 1463.7 L1269.3 1463.7 L1269.8 1463.7 L1270.4 1463.7 L1270.9 1463.6 L1271.5 1463.5 L1272.0 1463.4 L1272.5 1463.3 L1273.1 1463.1 L1273.6 1463.0 L1274.2 1462.8 L1274.7 1462.6 L1275.3 1462.4 L1275.8 1462.2 L1276.3 1462.0 L1276.9 1461.8 L1277.4 1461.6 L1278.0 1461.4 L1278.5 1461.2 L1279.1 1461.1 L1279.6 1460.9 L1280.2 1460.7 L1280.7 1460.5 L1281.2 1460.4 L1281.8 1460.4 L1282.3 1460.5 L1282.9 1460.8 L1283.4 1461.3 L1284.0 1462.1 L1284.5 1463.3 L1285.0 1464.9 L1285.6 1466.8 L1286.1 1469.3 L1286.7 1472.1 L1287.2 1475.5 L1287.8 1479.4 L1288.3 1483.8 L1288.8 1488.7 L1289.4 1494.0 L1289.9 1499.9 L1290.5 1506.3 L1291.0 1513.1 L1291.6 1520.4 L1292.1 1528.0 L1292.7 1536.0 L1293.2 1544.3 L1293.7 1552.9 L1294.3 1561.7 L1294.8 1570.7 L1295.4 1579.8 L1295.9 1589.0 L1296.5 1598.1 L1297.0 1607.2 L1297.5 1616.3 L1298.1 1625.1 L1298.6 1633.8 L1299.2 1642.1 L1299.7 1650.2 L1300.3 1657.9 L1300.8 1665.2 L1301.4 1672.1 L1301.9 1678.5 L1302.4 1684.4 L1303.0 1689.7 L1303.5 1694.5 L1304.1 1698.8 L1304.6 1702.5 L1305.2 1705.6 L1305.7 1708.1 L1306.2 1710.1 L1306.8 1711.5 L1307.3 1712.4 L1307.9 1712.8 L1308.4 1712.8 L1309.0 1712.3 L1309.5 1711.4 L1310.0 1710.1 L1310.6 1708.5 L1311.1 1706.7 L1311.7 1704.6 L1312.2 1702.4 L1312.8 1700.1 L1313.3 1697.6 L1313.9 1695.2 L1314.4 1692.9 L1314.9 1690.6 L1315.5 1688.4 L1316.0 1686.5 L1316.6 1684.8 L1317.1 1683.4 L1317.7 1682.2 L1318.2 1681.5 L1318.7 1681.1 L1319.3 1681.1 L1319.8 1681.5 L1320.4 1682.4 L1320.9 1683.7 L1321.5 1685.5 L1322.0 1687.7 L1322.6 1690.3 L1323.1 1693.4 L1323.6 1696.9 L1324.2 1700.8 L1324.7 1705.1 L1325.3 1709.7 L1325.8 1714.6 L1326.4 1719.8 L1326.9 1725.2 L1327.4 1730.8 L1328.0 1736.6 L1328.5 1742.4 L1329.1 1748.3 L1329.6 1754.1 L1330.2 1759.9 L1330.7 1765.7 L1331.3 1771.2 L1331.8 1776.6 L1332.3 1781.7 L1332.9 1786.6 L1333.4 1791.1 L1334.0 1795.2 L1334.5 1799.0 L1335.1 1802.4 L1335.6 1805.3 L1336.1 1807.7 L1336.7 1809.7 L1337.2 1811.1 L1337.8 1812.1 L1338.3 1812.6 L1338.9 1812.6 L1339.4 1812.1 L1339.9 1811.2 L1340.5 1809.8 L1341.0 1807.9 L1341.6 1805.7 L1342.1 1803.1 L1342.7 1800.2 L1343.2 1797.0 L1343.8 1793.5 L1344.3 1789.8 L1344.8 1785.9 L1345.4 1781.9 L1345.9 1777.8 L1346.5 1773.7 L1347.0 1769.7 L1347.6 1765.6 L1348.1 1761.7 L1348.6 1757.9 L1349.2 1754.3 L1349.7 1750.9 L1350.3 1747.8 L1350.8 1745.0 L1351.4 1742.5 L1351.9 1740.3 L1352.5 1738.5 L1353.0 1737.1 L1353.5 1736.1 L1354.1 1735.4 L1354.6 1735.2 L1355.2 1735.4 L1355.7 1736.0 L1356.3 1736.9 L1356.8 1738.2 L1357.3 1739.9 L1357.9 1741.8 L1358.4 1744.1 L1359.0 1746.6 L1359.5 1749.4 L1360.1 1752.3 L1360.6 1755.5 L1361.2 1758.7 L1361.7 1762.0 L1362.2 1765.3 L1362.8 1768.6 L1363.3 1771.9 L1363.9 1775.0 L1364.4 1778.1 L1365.0 1780.9 L1365.5 1783.5 L1366.0 1785.9 L1366.6 1788.0 L1367.1 1789.8 L1367.7 1791.2 L1368.2 1792.3 L1368.8 1792.9 L1369.3 1793.2 L1369.8 1793.0 L1370.4 1792.5 L1370.9 1791.5 L1371.5 1790.0 L1372.0 1788.2 L1372.6 1785.9 L1373.1 1783.3 L1373.7 1780.2 L1374.2 1776.8 L1374.7 1773.1 L1375.3 1769.1 L1375.8 1764.8 L1376.4 1760.2 L1376.9 1755.4 L1377.5 1750.5 L1378.0 1745.5 L1378.5 1740.3 L1379.1 1735.1 L1379.6 1729.9 L1380.2 1724.7 L1380.7 1719.6 L1381.3 1714.6 L1381.8 1709.8 L1382.4 1705.1 L1382.9 1700.7 L1383.4 1696.5 L1384.0 1692.6 L1384.5 1688.9 L1385.1 1685.6 L1385.6 1682.6 L1386.2 1679.9 L1386.7 1677.6 L1387.2 1675.7 L1387.8 1674.1 L1388.3 1672.9 L1388.9 1672.0 L1389.4 1671.4 L1390.0 1671.2 L1390.5 1671.3 L1391.0 1671.7 L1391.6 1672.3 L1392.1 1673.1 L1392.7 1674.2 L1393.2 1675.4 L1393.8 1676.7 L1394.3 1678.1 L1394.9 1679.6 L1395.4 1681.2 L1395.9 1682.7 L1396.5 1684.1 L1397.0 1685.5 L1397.6 1686.7 L1398.1 1687.8 L1398.7 1688.7 L1399.2 1689.3 L1399.7 1689.7 L1400.3 1689.8 L1400.8 1689.7 L1401.4 1689.2 L1401.9 1688.3 L1402.5 1687.1 L1403.0 1685.6 L1403.6 1683.7 L1404.1 1681.4 L1404.6 1678.8 L1405.2 1675.8 L1405.7 1672.4 L1406.3 1668.7 L1406.8 1664.7 L1407.4 1660.4 L1407.9 1655.9 L1408.4 1651.0 L1409.0 1646.0 L1409.5 1640.7 L1410.1 1635.3 L1410.6 1629.8 L1411.2 1624.2 L1411.7 1618.5 L1412.3 1612.8 L1412.8 1607.1 L1413.3 1601.4 L1413.9 1595.9 L1414.4 1590.4 L1415.0 1585.1 L1415.5 1580.0 L1416.1 1575.1 L1416.6 1570.4 L1417.1 1565.9 L1417.7 1561.8 L1418.2 1557.9 L1418.8 1554.3 L1419.3 1551.1 L1419.9 1548.1 L1420.4 1545.5 L1420.9 1543.2 L1421.5 1541.2 L1422.0 1539.5 L1422.6 1538.2 L1423.1 1537.1 L1423.7 1536.3 L1424.2 1535.7 L1424.8 1535.3 L1425.3 1535.2 L1425.8 1535.2 L1426.4 1535.4 L1426.9 1535.7 L1427.5 1536.0 L1428.0 1536.5 L1428.6 1536.9 L1429.1 1537.3 L1429.6 1537.7 L1430.2 1538.0 L1430.7 1538.2 L1431.3 1538.2 L1431.8 1538.1 L1432.4 1537.7 L1432.9 1537.2 L1433.5 1536.4 L1434.0 1535.3 L1434.5 1534.0 L1435.1 1532.4 L1435.6 1530.5 L1436.2 1528.3 L1436.7 1525.7 L1437.3 1522.9 L1437.8 1519.7 L1438.3 1516.3 L1438.9 1512.5 L1439.4 1508.5 L1440.0 1504.2 L1440.5 1499.7 L1441.1 1494.9 L1441.6 1489.9 L1442.2 1484.8 L1442.7 1479.5 L1443.2 1474.1 L1443.8 1468.6 L1444.3 1463.0 L1444.9 1457.4 L1445.4 1451.8 L1446.0 1446.2 L1446.5 1440.7 L1447.0 1435.3 L1447.6 1430.0 L1448.1 1424.8 L1448.7 1419.9 L1449.2 1415.1 L1449.8 1410.5 L1450.3 1406.2 L1450.8 1402.1 L1451.4 1398.3 L1451.9 1394.8 L1452.5 1391.5 L1453.0 1388.6 L1453.6 1385.9 L1454.1 1383.6 L1454.7 1381.5 L1455.2 1379.7 L1455.7 1378.1 L1456.3 1376.9 L1456.8 1375.8 L1457.4 1375.0 L1457.9 1374.4 L1458.5 1373.9 L1459.0 1373.6 L1459.5 1373.5 L1460.1 1373.4 L1460.6 1373.4 L1461.2 1373.5 L1461.7 1373.6 L1462.3 1373.6 L1462.8 1373.7 L1463.4 1373.6 L1463.9 1373.5 L1464.4 1373.2 L1465.0 1372.8 L1465.5 1372.2 L1466.1 1371.4 L1466.6 1370.5 L1467.2 1369.3 L1467.7 1367.8 L1468.2 1366.1 L1468.8 1364.2 L1469.3 1362.0 L1469.9 1359.5 L1470.4 1356.8 L1471.0 1353.8 L1471.5 1350.6 L1472.0 1347.1 L1472.6 1343.4 L1473.1 1339.5 L1473.7 1335.4 L1474.2 1331.1 L1474.8 1326.7 L1475.3 1322.1 L1475.9 1317.4 L1476.4 1312.6 L1476.9 1307.7 L1477.5 1302.8 L1478.0 1297.9 L1478.6 1293.1 L1479.1 1288.2 L1479.7 1283.5 L1480.2 1278.8 L1480.7 1274.3 L1481.3 1269.9 L1481.8 1265.7 L1482.4 1261.7 L1482.9 1257.9 L1483.5 1254.3 L1484.0 1250.9 L1484.6 1247.8 L1485.1 1245.0 L1485.6 1242.4 L1486.2 1240.1 L1486.7 1238.0 L1487.3 1236.2 L1487.8 1234.7 L1488.4 1233.4 L1488.9 1232.4 L1489.4 1231.6 L1490.0 1231.0 L1490.5 1230.6 L1491.1 1230.4 L1491.6 1230.4 L1492.2 1230.5 L1492.7 1230.7 L1493.3 1231.0 L1493.8 1231.4 L1494.3 1231.8 L1494.9 1232.2 L1495.4 1232.7 L1496.0 1233.0 L1496.5 1233.4 L1497.1 1233.6 L1497.6 1233.8 L1498.1 1233.8 L1498.7 1233.7 L1499.2 1233.4 L1499.8 1233.0 L1500.3 1232.3 L1500.9 1231.5 L1501.4 1230.5 L1501.9 1229.2 L1502.5 1227.8 L1503.0 1226.1 L1503.6 1224.2 L1504.1 1222.1 L1504.7 1219.7 L1505.2 1217.2 L1505.8 1214.5 L1506.3 1211.6 L1506.8 1208.6 L1507.4 1205.5 L1507.9 1202.2 L1508.5 1198.8 L1509.0 1195.3 L1509.6 1191.8 L1510.1 1188.2 L1510.6 1184.6 L1511.2 1181.1 L1511.7 1177.6 L1512.3 1174.1 L1512.8 1170.7 L1513.4 1167.5 L1513.9 1164.3 L1514.5 1161.4 L1515.0 1158.5 L1515.5 1155.9 L1516.1 1153.5 L1516.6 1151.2 L1517.2 1149.2 L1517.7 1147.5 L1518.3 1145.9 L1518.8 1144.7 L1519.3 1143.6 L1519.9 1142.8 L1520.4 1142.3 L1521.0 1142.0 L1521.5 1141.9 L1522.1 1142.1 L1522.6 1142.4 L1523.2 1143.0 L1523.7 1143.7 L1524.2 1144.6 L1524.8 1145.7 L1525.3 1146.8 L1525.9 1148.1 L1526.4 1149.5 L1527.0 1150.9 L1527.5 1152.4 L1528.0 1153.9 L1528.6 1155.4 L1529.1 1156.9 L1529.7 1158.3 L1530.2 1159.7 L1530.8 1161.0 L1531.3 1162.2 L1531.8 1163.2 L1532.4 1164.2 L1532.9 1165.0 L1533.5 1165.6 L1534.0 1166.1 L1534.6 1166.4 L1535.1 1166.5 L1535.7 1166.5 L1536.2 1166.3 L1536.7 1165.9 L1537.3 1165.3 L1537.8 1164.6 L1538.4 1163.7 L1538.9 1162.7 L1539.5 1161.5 L1540.0 1160.2 L1540.5 1158.8 L1541.1 1157.4 L1541.6 1155.8 L1542.2 1154.2 L1542.7 1152.6 L1543.3 1151.0 L1543.8 1149.4 L1544.4 1147.8 L1544.9 1146.3 L1545.4 1144.8 L1546.0 1143.5 L1546.5 1142.2 L1547.1 1141.1 L1547.6 1140.1 L1548.2 1139.3 L1548.7 1138.7 L1549.2 1138.3 L1549.8 1138.1 L1550.3 1138.1 L1550.9 1138.3 L1551.4 1138.7 L1552.0 1139.4 L1552.5 1140.3 L1553.0 1141.4 L1553.6 1142.8 L1554.1 1144.3 L1554.7 1146.1 L1555.2 1148.1 L1555.8 1150.3 L1556.3 1152.7 L1556.9 1155.2 L1557.4 1157.9 L1557.9 1160.8 L1558.5 1163.7 L1559.0 1166.8 L1559.6 1169.9 L1560.1 1173.1 L1560.7 1176.4 L1561.2 1179.6 L1561.7 1182.9 L1562.3 1186.2 L1562.8 1189.4 L1563.4 1192.6 L1563.9 1195.8 L1564.5 1198.8 L1565.0 1201.8 L1565.6 1204.6 L1566.1 1207.4 L1566.6 1210.0 L1567.2 1212.5 L1567.7 1214.8 L1568.3 1217.1 L1568.8 1219.1 L1569.4 1221.1 L1569.9 1222.9 L1570.4 1224.5 L1571.0 1226.1 L1571.5 1227.5 L1572.1 1228.8 L1572.6 1230.0 L1573.2 1231.2 L1573.7 1232.2 L1574.3 1233.2 L1574.8 1234.2 L1575.3 1235.1 L1575.9 1236.1 L1576.4 1237.0 L1577.0 1238.0 L1577.5 1239.0 L1578.1 1240.1 L1578.6 1241.3 L1579.1 1242.6 L1579.7 1244.0 L1580.2 1245.6 L1580.8 1247.3 L1581.3 1249.1 L1581.9 1251.2 L1582.4 1253.4 L1582.9 1255.8 L1583.5 1258.5 L1584.0 1261.3 L1584.6 1264.3 L1585.1 1267.6 L1585.7 1271.1 L1586.2 1274.8 L1586.8 1278.7 L1587.3 1282.8 L1587.8 1287.2 L1588.4 1291.7 L1588.9 1296.4 L1589.5 1301.2 L1590.0 1306.3 L1590.6 1311.4 L1591.1 1316.7 L1591.6 1322.2 L1592.2 1327.7 L1592.7 1333.3 L1593.3 1339.0 L1593.8 1344.7 L1594.4 1350.4 L1594.9 1356.2 L1595.5 1362.0 L1596.0 1367.7 L1596.5 1373.5 L1597.1 1379.2 L1597.6 1384.8 L1598.2 1390.3 L1598.7 1395.8 L1599.3 1401.2 L1599.8 1406.5 L1600.3 1411.7 L1600.9 1416.8 L1601.4 1421.8 L1602.0 1426.7 L1602.5 1431.5 L1603.1 1436.1 L1603.6 1440.7 L1604.2 1445.2 L1604.7 1449.6 L1605.2 1453.9 L1605.8 1458.2 L1606.3 1462.4 L1606.9 1466.5 L1607.4 1470.6 L1608.0 1474.6 L1608.5 1478.4 L1609.0 1482.1 L1609.6 1485.4 L1610.1 1488.6 L1610.7 1491.4 L1611.2 1493.9 L1611.8 1496.0 L1612.3 1497.8 L1612.8 1499.2 L1613.4 1500.1 L1613.9 1500.7 L1614.5 1500.8 L1615.0 1500.5 L1615.6 1499.8 L1616.1 1498.7 L1616.7 1497.2 L1617.2 1495.3 L1617.7 1493.1 L1618.3 1490.6 L1618.8 1487.7 L1619.4 1484.6 L1619.9 1481.3 L1620.5 1477.8 L1621.0 1474.1 L1621.5 1470.3 L1622.1 1466.4 L1622.6 1462.5 L1623.2 1458.6 L1623.7 1454.7 L1624.3 1450.9 L1624.8 1447.3 L1625.4 1443.9 L1625.9 1440.6 L1626.4 1437.6 L1627.0 1434.9 L1627.5 1432.4 L1628.1 1430.3 L1628.6 1428.5 L1629.2 1427.1 L1629.7 1426.1 L1630.2 1425.4 L1630.8 1425.2 L1631.3 1425.3 L1631.9 1425.9 L1632.4 1426.8 L1633.0 1428.1 L1633.5 1429.7 L1634.0 1431.7 L1634.6 1433.9 L1635.1 1436.5 L1635.7 1439.3 L1636.2 1442.4 L1636.8 1445.7 L1637.3 1449.1 L1637.9 1452.6 L1638.4 1456.2 L1638.9 1459.9 L1639.5 1463.5 L1640.0 1467.1 L1640.6 1470.7 L1641.1 1474.1 L1641.7 1477.4 L1642.2 1480.5 L1642.7 1483.4 L1643.3 1486.1 L1643.8 1488.5 L1644.4 1490.6 L1644.9 1492.3 L1645.5 1493.8 L1646.0 1494.8 L1646.6 1495.6 L1647.1 1495.9 L1647.6 1495.9 L1648.2 1495.5 L1648.7 1494.8 L1649.3 1493.7 L1649.8 1492.3 L1650.4 1490.6 L1650.9 1488.5 L1651.4 1486.2 L1652.0 1483.6 L1652.5 1480.8 L1653.1 1477.8 L1653.6 1474.7 L1654.2 1471.4 L1654.7 1468.1 L1655.3 1464.7 L1655.8 1461.2 L1656.3 1457.8 L1656.9 1454.5 L1657.4 1451.2 L1658.0 1448.1 L1658.5 1445.1 L1659.1 1442.3 L1659.6 1439.8 L1660.1 1437.5 L1660.7 1435.4 L1661.2 1433.7 L1661.8 1432.2 L1662.3 1431.1 L1662.9 1430.3 L1663.4 1429.8 L1663.9 1429.7 L1664.5 1430.0 L1665.0 1430.6 L1665.6 1431.5 L1666.1 1432.7 L1666.7 1434.2 L1667.2 1436.0 L1667.8 1438.1 L1668.3 1440.5 L1668.8 1443.0 L1669.4 1445.7 L1669.9 1448.6 L1670.5 1451.7 L1671.0 1454.8 L1671.6 1458.0 L1672.1 1461.2 L1672.6 1464.4 L1673.2 1467.5 L1673.7 1470.6 L1674.3 1473.6 L1674.8 1476.4 L1675.4 1479.1 L1675.9 1481.5 L1676.5 1483.8 L1677.0 1485.8 L1677.5 1487.5 L1678.1 1489.0 L1678.6 1490.1 L1679.2 1491.0 L1679.7 1491.5 L1680.3 1491.7 L1680.8 1491.6 L1681.3 1491.2 L1681.9 1490.4 L1682.4 1489.4 L1683.0 1488.0 L1683.5 1486.4 L1684.1 1484.5 L1684.6 1482.4 L1685.2 1480.1 L1685.7 1477.6 L1686.2 1474.9 L1686.8 1472.1 L1687.3 1469.3 L1687.9 1466.3 L1688.4 1463.3 L1689.0 1460.3 L1689.5 1457.3 L1690.0 1454.4 L1690.6 1451.6 L1691.1 1448.9 L1691.7 1446.3 L1692.2 1444.0 L1692.8 1441.8 L1693.3 1439.8 L1693.8 1438.1 L1694.4 1436.7 L1694.9 1435.5 L1695.5 1434.6 L1696.0 1434.0 L1696.6 1433.7 L1697.1 1433.8 L1697.7 1434.1 L1698.2 1434.7 L1698.7 1435.5 L1699.3 1436.7 L1699.8 1438.1 L1700.4 1439.8 L1700.9 1441.7 L1701.5 1443.8 L1702.0 1446.1 L1702.5 1448.6 L1703.1 1451.1 L1703.6 1453.8 L1704.2 1456.6 L1704.7 1459.4 L1705.3 1462.2 L1705.8 1465.0 L1706.4 1467.7 L1706.9 1470.4 L1707.4 1473.0 L1708.0 1475.4 L1708.5 1477.7 L1709.1 1479.8 L1709.6 1481.7 L1710.2 1483.3 L1710.7 1484.8 L1711.2 1486.0 L1711.8 1486.9 L1712.3 1487.5 L1712.9 1487.9 L1713.4 1488.0 L1714.0 1487.8 L1714.5 1487.3 L1715.1 1486.6 L1715.6 1485.6 L1716.1 1484.3 L1716.7 1482.8 L1717.2 1481.1 L1717.8 1479.2 L1718.3 1477.1 L1718.9 1474.9 L1719.4 1472.5 L1719.9 1470.0 L1720.5 1467.5 L1721.0 1464.9 L1721.6 1462.2 L1722.1 1459.6 L1722.7 1457.0 L1723.2 1454.5 L1723.7 1452.1 L1724.3 1449.7 L1724.8 1447.6 L1725.4 1445.5 L1725.9 1443.7 L1726.5 1442.0 L1727.0 1440.6 L1727.6 1439.4 L1728.1 1438.5 L1728.6 1437.8 L1729.2 1437.4 L1729.7 1437.2 L1730.3 1437.3 L1730.8 1437.6 L1731.4 1438.3 L1731.9 1439.1 L1732.4 1440.2 L1733.0 1441.5 L1733.5 1443.1 L1734.1 1444.8 L1734.6 1446.7 L1735.2 1448.8 L1735.7 1450.9 L1736.3 1453.2 L1736.8 1455.6 L1737.3 1458.0 L1737.9 1460.5 L1738.4 1462.9 L1739.0 1465.4 L1739.5 1467.8 L1740.1 1470.1 L1740.6 1472.3 L1741.1 1474.4 L1741.7 1476.3 L1742.2 1478.1 L1742.8 1479.7 L1743.3 1481.1 L1743.9 1482.3 L1744.4 1483.2 L1744.9 1484.0 L1745.5 1484.5 L1746.0 1484.7 L1746.6 1484.7 L1747.1 1484.4 L1747.7 1484.0 L1748.2 1483.2 L1748.8 1482.3 L1749.3 1481.1 L1749.8 1479.7 L1750.4 1478.2 L1750.9 1476.4 L1751.5 1474.6 L1752.0 1472.6 L1752.6 1470.4 L1753.1 1468.3 L1753.6 1466.0 L1754.2 1463.7 L1754.7 1461.4 L1755.3 1459.1 L1755.8 1456.9 L1756.4 1454.7 L1756.9 1452.6 L1757.5 1450.6 L1758.0 1448.7 L1758.5 1447.0 L1759.1 1445.4 L1759.6 1444.1 L1760.2 1442.9 L1760.7 1441.9 L1761.3 1441.2 L1761.8 1440.6 L1762.3 1440.3 L1762.9 1440.3 L1763.4 1440.4 L1764.0 1440.8 L1764.5 1441.4 L1765.1 1442.2 L1765.6 1443.3 L1766.2 1444.5 L1766.7 1445.9 L1767.2 1447.4 L1767.8 1449.2 L1768.3 1451.0 L1768.9 1452.9 L1769.4 1455.0 L1770.0 1457.1 L1770.5 1459.2 L1771.0 1461.4 L1771.6 1463.5 L1772.1 1465.6 L1772.7 1467.7 L1773.2 1469.7 L1773.8 1471.6 L1774.3 1473.4 L1774.8 1475.0 L1775.4 1476.6 L1775.9 1477.9 L1776.5 1479.1 L1777.0 1480.0 L1777.6 1480.8 L1778.1 1481.4 L1778.7 1481.7 L1779.2 1481.9 L1779.7 1481.8 L1780.3 1481.5 L1780.8 1481.0 L1781.4 1480.3 L1781.9 1479.4 L1782.5 1478.3 L1783.0 1477.1 L1783.5 1475.6 L1784.1 1474.1 L1784.6 1472.4 L1785.2 1470.6 L1785.7 1468.7 L1786.3 1466.8 L1786.8 1464.8 L1787.4 1462.8 L1787.9 1460.8 L1788.4 1458.8 L1789.0 1456.8 L1789.5 1454.9 L1790.1 1453.1 L1790.6 1451.4 L1791.2 1449.8 L1791.7 1448.4 L1792.2 1447.0 L1792.8 1445.9 L1793.3 1444.9 L1793.9 1444.1 L1794.4 1443.5 L1795.0 1443.1 L1795.5 1442.9 L1796.1 1442.9 L1796.6 1443.2 L1797.1 1443.6 L1797.7 1444.2 L1798.2 1444.9 L1798.8 1445.9 L1799.3 1447.0 L1799.9 1448.3 L1800.4 1449.7 L1800.9 1451.2 L1801.5 1452.9 L1802.0 1454.6 L1802.6 1456.4 L1803.1 1458.3 L1803.7 1460.1 L1804.2 1462.0 L1804.7 1463.9 L1805.3 1465.8 L1805.8 1467.5 L1806.4 1469.3 L1806.9 1470.9 L1807.5 1472.4 L1808.0 1473.8 L1808.6 1475.1 L1809.1 1476.2 L1809.6 1477.2 L1810.2 1478.0 L1810.7 1478.6 L1811.3 1479.1 L1811.8 1479.3 L1812.4 1479.4 L1812.9 1479.2 L1813.4 1478.9 L1814.0 1478.4 L1814.5 1477.7 L1815.1 1476.9 L1815.6 1475.9 L1816.2 1474.8 L1816.7 1473.5 L1817.3 1472.1 L1817.8 1470.6 L1818.3 1469.0 L1818.9 1467.3 L1819.4 1465.6 L1820.0 1463.8 L1820.5 1462.1 L1821.1 1460.3 L1821.6 1458.6 L1822.1 1456.9 L1822.7 1455.2 L1823.2 1453.7 L1823.8 1452.2 L1824.3 1450.9 L1824.9 1449.6 L1825.4 1448.5 L1825.9 1447.6 L1826.5 1446.8 L1827.0 1446.1 L1827.6 1445.7 L1828.1 1445.4 L1828.7 1445.3 L1829.2 1445.3 L1829.8 1445.6 L1830.3 1446.0 L1830.8 1446.6 L1831.4 1447.3 L1831.9 1448.2 L1832.5 1449.2 L1833.0 1450.4 L1833.6 1451.6 L1834.1 1453.0 L1834.6 1454.5 L1835.2 1456.0 L1835.7 1457.6 L1836.3 1459.2 L1836.8 1460.9 L1837.4 1462.5 L1837.9 1464.2 L1838.5 1465.8 L1839.0 1467.3 L1839.5 1468.8 L1840.1 1470.2 L1840.6 1471.5 L1841.2 1472.7 L1841.7 1473.8 L1842.3 1474.7 L1842.8 1475.5 L1843.3 1476.2 L1843.9 1476.7 L1844.4 1477.0 L1845.0 1477.2 L1845.5 1477.2 L1846.1 1477.0 L1846.6 1476.7 L1847.2 1476.2 L1847.7 1475.5 L1848.2 1474.7 L1848.8 1473.8 L1849.3 1472.8 L1849.9 1471.6 L1850.4 1470.4 L1851.0 1469.0 L1851.5 1467.6 L1852.0 1466.1 L1852.6 1464.6 L1853.1 1463.1 L1853.7 1461.5 L1854.2 1460.0 L1854.8 1458.5 L1855.3 1457.0 L1855.8 1455.6 L1856.4 1454.2 L1856.9 1453.0 L1857.5 1451.8 L1858.0 1450.8 L1858.6 1449.9 L1859.1 1449.1 L1859.7 1448.4 L1860.2 1447.9 L1860.7 1447.6 L1861.3 1447.4 L1861.8 1447.3 L1862.4 1447.4 L1862.9 1447.7 L1863.5 1448.1 L1864.0 1448.6 L1864.5 1449.3 L1865.1 1450.2 L1865.6 1451.1 L1866.2 1452.1 L1866.7 1453.3 L1867.3 1454.5 L1867.8 1455.8 L1868.4 1457.2 L1868.9 1458.6 L1869.4 1460.0 L1870.0 1461.5 L1870.5 1462.9 L1871.1 1464.4 L1871.6 1465.7 L1872.2 1467.1 L1872.7 1468.4 L1873.2 1469.6 L1873.8 1470.7 L1874.3 1471.7 L1874.9 1472.6 L1875.4 1473.4 L1876.0 1474.0 L1876.5 1474.5 L1877.1 1474.9 L1877.6 1475.2 L1878.1 1475.3 L1878.7 1475.2 L1879.2 1475.0 L1879.8 1474.7 L1880.3 1474.2 L1880.9 1473.6 L1881.4 1472.9 L1881.9 1472.0 L1882.5 1471.1 L1883.0 1470.0 L1883.6 1468.9 L1884.1 1467.7 L1884.7 1466.4 L1885.2 1465.1 L1885.7 1463.8 L1886.3 1462.4 L1886.8 1461.1 L1887.4 1459.8 L1887.9 1458.4 L1888.5 1457.2 L1889.0 1456.0 L1889.6 1454.8 L1890.1 1453.7 L1890.6 1452.8 L1891.2 1451.9 L1891.7 1451.1 L1892.3 1450.5 L1892.8 1449.9 L1893.4 1449.5 L1893.9 1449.3 L1894.4 1449.1 L1895.0 1449.1 L1895.5 1449.3 L1896.1 1449.5 L1896.6 1449.9 L1897.2 1450.5 L1897.7 1451.1 L1898.3 1451.9 L1898.8 1452.7 L1899.3 1453.7 L1899.9 1454.7 L1900.4 1455.8 L1901.0 1457.0 L1901.5 1458.2 L1902.1 1459.4 L1902.6 1460.7 L1903.1 1461.9 L1903.7 1463.2 L1904.2 1464.4 L1904.8 1465.6 L1905.3 1466.8 L1905.9 1467.9 L1906.4 1468.9 L1906.9 1469.9 L1907.5 1470.7 L1908.0 1471.5 L1908.6 1472.1 L1909.1 1472.7 L1909.7 1473.1 L1910.2 1473.4 L1910.8 1473.5 L1911.3 1473.6 L1911.8 1473.5 L1912.4 1473.3 L1912.9 1472.9 L1913.5 1472.5 L1914.0 1471.9 L1914.6 1471.3 L1915.1 1470.5 L1915.6 1469.6 L1916.2 1468.7 L1916.7 1467.7 L1917.3 1466.6 L1917.8 1465.5 L1918.4 1464.3 L1918.9 1463.2 L1919.5 1462.0 L1920.0 1460.8 L1920.5 1459.6 L1921.1 1458.5 L1921.6 1457.4 L1922.2 1456.3 L1922.7 1455.3 L1923.3 1454.4 L1923.8 1453.6 L1924.3 1452.9 L1924.9 1452.2 L1925.4 1451.7 L1926.0 1451.3 L1926.5 1450.9 L1927.1 1450.8 L1927.6 1450.7 L1928.2 1450.7 L1928.7 1450.9 L1929.2 1451.2 L1929.8 1451.5 L1930.3 1452.0 L1930.9 1452.6 L1931.4 1453.3 L1932.0 1454.1 L1932.5 1455.0 L1933.0 1455.9 L1933.6 1456.9 L1934.1 1457.9 L1934.7 1459.0 L1935.2 1460.1 L1935.8 1461.2 L1936.3 1462.3 L1936.8 1463.4 L1937.4 1464.5 L1937.9 1465.5 L1938.5 1466.5 L1939.0 1467.4 L1939.6 1468.3 L1940.1 1469.1 L1940.7 1469.8 L1941.2 1470.5 L1941.7 1471.0 L1942.3 1471.4 L1942.8 1471.8 L1943.4 1472.0 L1943.9 1472.1 L1944.5 1472.1 L1945.0 1472.0 L1945.5 1471.8 L1946.1 1471.4 L1946.6 1471.0 L1947.2 1470.5 L1947.7 1469.9 L1948.3 1469.2 L1948.8 1468.4 L1949.4 1467.5 L1949.9 1466.6 L1950.4 1465.7 L1951.0 1464.7 L1951.5 1463.7 L1952.1 1462.6 L1952.6 1461.6 L1953.2 1460.6 L1953.7 1459.5 L1954.2 1458.6 L1954.8 1457.6 L1955.3 1456.7 L1955.9 1455.9 L1956.4 1455.1 L1957.0 1454.4 L1957.5 1453.8 L1958.1 1453.2 L1958.6 1452.8 L1959.1 1452.5 L1959.7 1452.2 L1960.2 1452.1 L1960.8 1452.1 L1961.3 1452.1 L1961.9 1452.3 L1962.4 1452.6 L1962.9 1452.9 L1963.5 1453.4 L1964.0 1454.0 L1964.6 1454.6 L1965.1 1455.3 L1965.7 1456.1 L1966.2 1456.9 L1966.7 1457.8 L1967.3 1458.7 L1967.8 1459.6 L1968.4 1460.6 L1968.9 1461.6 L1969.5 1462.5 L1970.0 1463.5 L1970.6 1464.4 L1971.1 1465.3 L1971.6 1466.2 L1972.2 1467.0 L1972.7 1467.7 L1973.3 1468.4 L1973.8 1469.0 L1974.4 1469.6 L1974.9 1470.0 L1975.4 1470.3 L1976.0 1470.6 L1976.5 1470.8 L1977.1 1470.8 L1977.6 1470.8 L1978.2 1470.7 L1978.7 1470.4 L1979.3 1470.1 L1979.8 1469.7 L1980.3 1469.2 L1980.9 1468.7 L1981.4 1468.0 L1982.0 1467.3 L1982.5 1466.6 L1983.1 1465.7 L1983.6 1464.9 L1984.1 1464.0 L1984.7 1463.1 L1985.2 1462.2 L1985.8 1461.3 L1986.3 1460.4 L1986.9 1459.5 L1987.4 1458.7 L1987.9 1457.9 L1988.5 1457.1 L1989.0 1456.4 L1989.6 1455.7 L1990.1 1455.1 L1990.7 1454.6 L1991.2 1454.2 L1991.8 1453.8 L1992.3 1453.5 L1992.8 1453.4 L1993.4 1453.3 L1993.9 1453.3 L1994.5 1453.4 L1995.0 1453.5 L1995.6 1453.8 L1996.1 1454.2 L1996.6 1454.6 L1997.2 1455.1 L1997.7 1455.7 L1998.3 1456.3 L1998.8 1457.0 L1999.4 1457.8 L1999.9 1458.5 L2000.5 1459.3 L2001.0 1460.2 L2001.5 1461.0 L2002.1 1461.9 L2002.6 1462.7 L2003.2 1463.6 L2003.7 1464.4 L2004.3 1465.1 L2004.8 1465.9 L2005.3 1466.6 L2005.9 1467.2 L2006.4 1467.8 L2007.0 1468.3 L2007.5 1468.7 L2008.1 1469.1 L2008.6 1469.4 L2009.2 1469.6 L2009.7 1469.7 L2010.2 1469.7 L2010.8 1469.6 L2011.3 1469.5 L2011.9 1469.3 L2012.4 1469.0 L2013.0 1468.6 L2013.5 1468.1 L2014.0 1467.6 L2014.6 1467.0 L2015.1 1466.4 L2015.7 1465.7 L2016.2 1465.0 L2016.8 1464.3 L2017.3 1463.5 L2017.8 1462.7 L2018.4 1461.9 L2018.9 1461.1 L2019.5 1460.3 L2020.0 1459.6 L2020.6 1458.8 L2021.1 1458.1 L2021.7 1457.5 L2022.2 1456.8 L2022.7 1456.3 L2023.3 1455.8 L2023.8 1455.4 L2024.4 1455.0 L2024.9 1454.7 L2025.5 1454.5 L2026.0 1454.4 L2026.5 1454.3 L2027.1 1454.3 L2027.6 1454.4 L2028.2 1454.6 L2028.7 1454.9 L2029.3 1455.2 L2029.8 1455.6 L2030.4 1456.1 L2030.9 1456.6 L2031.4 1457.2 L2032.0 1457.8 L2032.5 1458.5 L2033.1 1459.2 L2033.6 1459.9 L2034.2 1460.6 L2034.7 1461.4 L2035.2 1462.1 L2035.8 1462.8 L2036.3 1463.6 L2036.9 1464.3 L2037.4 1464.9 L2038.0 1465.6 L2038.5 1466.2 L2039.1 1466.7 L2039.6 1467.2 L2040.1 1467.6 L2040.7 1468.0 L2041.2 1468.3 L2041.8 1468.5 L2042.3 1468.6 L2042.9 1468.7 L2043.4 1468.7 L2043.9 1468.6 L2044.5 1468.5 L2045.0 1468.3 L2045.6 1468.0 L2046.1 1467.6 L2046.7 1467.2 L2047.2 1466.7 L2047.7 1466.2 L2048.3 1465.6 L2048.8 1465.0 L2049.4 1464.4 L2049.9 1463.7 L2050.5 1463.0 L2051.0 1462.3 L2051.6 1461.6 L2052.1 1461.0 L2052.6 1460.3 L2053.2 1459.6 L2053.7 1459.0 L2054.3 1458.4 L2054.8 1457.8 L2055.4 1457.3 L2055.9 1456.8 L2056.4 1456.4 L2057.0 1456.0 L2057.5 1455.7 L2058.1 1455.5 L2058.6 1455.4 L2059.2 1455.3 L2059.7 1455.2 L2060.3 1455.3 L2060.8 1455.4 L2061.3 1455.6 L2061.9 1455.8 L2062.4 1456.1 L2063.0 1456.5 L2063.5 1456.9 L2064.1 1457.4 L2064.6 1457.9 L2065.1 1458.5 L2065.7 1459.1 L2066.2 1459.7 L2066.8 1460.3 L2067.3 1461.0 L2067.9 1461.6 L2068.4 1462.3 L2068.9 1462.9 L2069.5 1463.5 L2070.0 1464.2 L2070.6 1464.7 L2071.1 1465.3 L2071.7 1465.8 L2072.2 1466.2 L2072.8 1466.6 L2073.3 1467.0 L2073.8 1467.3 L2074.4 1467.5 L2074.9 1467.7 L2075.5 1467.8 L2076.0 1467.8 L2076.6 1467.8 L2077.1 1467.7 L2077.6 1467.6 L2078.2 1467.4 L2078.7 1467.1 L2079.3 1466.8 L2079.8 1466.4 L2080.4 1466.0 L2080.9 1465.5 L2081.5 1465.0 L2082.0 1464.4 L2082.5 1463.9 L2083.1 1463.3 L2083.6 1462.7 L2084.2 1462.1 L2084.7 1461.5 L2085.3 1460.9 L2085.8 1460.3 L2086.3 1459.7 L2086.9 1459.1 L2087.4 1458.6 L2088.0 1458.1 L2088.5 1457.7 L2089.1 1457.3 L2089.6 1456.9 L2090.2 1456.7 L2090.7 1456.4 L2091.2 1456.2 L2091.8 1456.1 L2092.3 1456.1 L2092.9 1456.1 L2093.4 1456.1 L2094.0 1456.2 L2094.5 1456.4 L2095.0 1456.7 L2095.6 1456.9 L2096.1 1457.3 L2096.7 1457.7 L2097.2 1458.1 L2097.8 1458.6 L2098.3 1459.1 L2098.8 1459.6 L2099.4 1460.1 L2099.9 1460.7 L2100.5 1461.3 L2101.0 1461.8 L2101.6 1462.4 L2102.1 1463.0 L2102.7 1463.5 L2103.2 1464.0 L2103.7 1464.5 L2104.3 1465.0 L2104.8 1465.4 L2105.4 1465.8 L2105.9 1466.1 L2106.5 1466.4 L2107.0 1466.7 L2107.5 1466.9 L2108.1 1467.0 L2108.6 1467.1 L2109.2 1467.1 L2109.7 1467.0 L2110.3 1467.0 L2110.8 1466.8 L2111.4 1466.6 L2111.9 1466.3 L2112.4 1466.0 L2113.0 1465.7 L2113.5 1465.3 L2114.1 1464.9 L2114.6 1464.4 L2115.2 1463.9 L2115.7 1463.4 L2116.2 1462.9 L2116.8 1462.4 L2117.3 1461.8 L2117.9 1461.3 L2118.4 1460.8 L2119.0 1460.3 L2119.5 1459.8 L2120.1 1459.3 L2120.6 1458.9 L2121.1 1458.5 L2121.7 1458.1 L2122.2 1457.7 L2122.8 1457.5 L2123.3 1457.2 L2123.9 1457.0 L2124.4 1456.9 L2124.9 1456.8 L2125.5 1456.8 L2126.0 1456.8 L2126.6 1456.8 L2127.1 1457.0 L2127.7 1457.1 L2128.2 1457.4 L2128.7 1457.6 L2129.3 1457.9 L2129.8 1458.3 L2130.4 1458.7 L2130.9 1459.1 L2131.5 1459.5 L2132.0 1460.0 L2132.6 1460.5 L2133.1 1461.0 L2133.6 1461.5 L2134.2 1462.0 L2134.7 1462.5 L2135.3 1463.0 L2135.8 1463.4 L2136.4 1463.9 L2136.9 1464.3 L2137.4 1464.7 L2138.0 1465.1 L2138.5 1465.4 L2139.1 1465.7 L2139.6 1465.9 L2140.2 1466.1 L2140.7 1466.3 L2141.3 1466.4 L2141.8 1466.4 L2142.3 1466.4 L2142.9 1466.4 L2143.4 1466.3 L2144.0 1466.1 L2144.5 1465.9 L2145.1 1465.7 L2145.6 1465.4 L2146.1 1465.1 L2146.7 1464.7 L2147.2 1464.4 L2147.8 1464.0 L2148.3 1463.5 L2148.9 1463.1 L2149.4 1462.6 L2149.9 1462.1 L2150.5 1461.7 L2151.0 1461.2 L2151.6 1460.8 L2152.1 1460.3 L2152.7 1459.9 L2153.2 1459.5 L2153.8 1459.1 L2154.3 1458.7 L2154.8 1458.4 L2155.4 1458.2 L2155.9 1457.9 L2156.5 1457.7 L2157.0 1457.6 L2157.6 1457.5 L2158.1 1457.4 L2158.6 1457.4 L2159.2 1457.4 L2159.7 1457.5 L2160.3 1457.6 L2160.8 1457.8 L2161.4 1458.0 L2161.9 1458.2 L2162.5 1458.5 L2163.0 1458.8 L2163.5 1459.2 L2164.1 1459.6 L2164.6 1460.0 L2165.2 1460.4 L2165.7 1460.8 L2166.3 1461.2 L2166.8 1461.7 L2167.3 1462.1 L2167.9 1462.5 L2168.4 1463.0 L2169.0 1463.4 L2169.5 1463.8 L2170.1 1464.1 L2170.6 1464.5 L2171.2 1464.8 L2171.7 1465.0 L2172.2 1465.3 L2172.8 1465.5 L2173.3 1465.6 L2173.9 1465.7 L2174.4 1465.8 L2175.0 1465.8 L2175.5 1465.8 L2176.0 1465.8 L2176.6 1465.7 L2177.1 1465.5 L2177.7 1465.3 L2178.2 1465.1 L2178.8 1464.9 L2179.3 1464.6 L2179.8 1464.3 L2180.4 1463.9 L2180.9 1463.6 L2181.5 1463.2 L2182.0 1462.8 L2182.6 1462.4 L2183.1 1462.0 L2183.7 1461.6 L2184.2 1461.1 L2184.7 1460.7 L2185.3 1460.4 L2185.8 1460.0 L2186.4 1459.6 L2186.9 1459.3 L2187.5 1459.0 L2188.0 1458.8 L2188.5 1458.5 L2189.1 1458.3 L2189.6 1458.2 L2190.2 1458.0 L2190.7 1458.0 L2191.3 1457.9 L2191.8 1457.9 L2192.4 1458.0 L2192.9 1458.0 L2193.4 1458.2 L2194.0 1458.3 L2194.5 1458.5 L2195.1 1458.8 L2195.6 1459.0 L2196.2 1459.3 L2196.7 1459.6 L2197.2 1459.9 L2197.8 1460.3 L2198.3 1460.7 L2198.9 1461.0 L2199.4 1461.4 L2200.0 1461.8 L2200.5 1462.2 L2201.1 1462.6 L2201.6 1462.9 L2202.1 1463.3 L2202.7 1463.6 L2203.2 1463.9 L2203.8 1464.2 L2204.3 1464.5 L2204.9 1464.7 L2205.4 1464.9 L2205.9 1465.1 L2206.5 1465.2 L2207.0 1465.3 L2207.6 1465.3 L2208.1 1465.3 L2208.7 1465.3 L2209.2 1465.2 L2209.7 1465.1 L2210.3 1465.0 L2210.8 1464.8 L2211.4 1464.6 L2211.9 1464.4 L2212.5 1464.1 L2213.0 1463.9 L2213.6 1463.5 L2214.1 1463.2 L2214.6 1462.9 L2215.2 1462.5 L2215.7 1462.2 L2216.3 1461.8 L2216.8 1461.5 L2217.4 1461.1 L2217.9 1460.8 L2218.4 1460.4 L2219.0 1460.1 L2219.5 1459.8 L2220.1 1459.5 L2220.6 1459.3 L2221.2 1459.1 L2221.7 1458.9 L2222.3 1458.7 L2222.8 1458.6 L2223.3 1458.5 L2223.9 1458.4 L2224.4 1458.4 L2225.0 1458.4 L2225.5 1458.5 L2226.1 1458.5 L2226.6 1458.7 L2227.1 1458.8 L2227.7 1459.0 L2228.2 1459.2 L2228.8 1459.4 L2229.3 1459.7 L2229.9 1460.0 L2230.4 1460.3 L2231.0 1460.6 L2231.5 1460.9 L2232.0 1461.2 L2232.6 1461.6 L2233.1 1461.9 L2233.7 1462.2 L2234.2 1462.6 L2234.8 1462.9 L2235.3 1463.2 L2235.8 1463.5 L2236.4 1463.7 L2236.9 1464.0 L2237.5 1464.2 L2238.0 1464.4 L2238.6 1464.6 L2239.1 1464.7 L2239.6 1464.8 L2240.2 1464.9 L2240.7 1464.9 L2241.3 1464.9 L2241.8 1464.9 L2242.4 1464.8 L2242.9 1464.7 L2243.5 1464.6 L2244.0 1464.4 L2244.5 1464.2 L2245.1 1464.0 L2245.6 1463.8 L2246.2 1463.5 L2246.7 1463.2 L2247.3 1462.9 L2247.8 1462.6 L2248.3 1462.3 L2248.9 1462.0 L2249.4 1461.7 L2250.0 1461.4 L2250.5 1461.1 L2251.1 1460.8 L2251.6 1460.5 L2252.2 1460.2 L2252.7 1460.0 L2253.2 1459.7 L2253.8 1459.5 L2254.3 1459.3 L2254.9 1459.2 L2255.4 1459.0 L2256.0 1458.9 L2256.5 1458.9 L2257.0 1458.8 L2257.6 1458.8 L2258.1 1458.8 L2258.7 1458.9 L2259.2 1459.0 L2259.8 1459.1 L2260.3 1459.2 L2260.8 1459.4 L2261.4 1459.6 L2261.9 1459.8 L2262.5 1460.0 L2263.0 1460.3 L2263.6 1460.5 L2264.1 1460.8 L2264.7 1461.1 L2265.2 1461.4 L2265.7 1461.7 L2266.3 1462.0 L2266.8 1462.3 L2267.4 1462.6 L2267.9 1462.8 L2268.5 1463.1 L2269.0 1463.3 L2269.5 1463.6 L2270.1 1463.8 L2270.6 1464.0 L2271.2 1464.1 L2271.7 1464.2 L2272.3 1464.4 L2272.8 1464.4 L2273.4 1464.5 L2273.9 1464.5 L2274.4 1464.5 L2275.0 1464.4 L2275.5 1464.4 L2276.1 1464.3 L2276.6 1464.2 L2277.2 1464.0 L2277.7 1463.8 L2278.2 1463.6 L2278.8 1463.4 L2279.3 1463.2 L2279.9 1463.0 L2280.4 1462.7 L2281.0 1462.4 L2281.5 1462.2 L2282.1 1461.9 L2282.6 1461.6 L2283.1 1461.3 L2283.7 1461.1 L2284.2 1460.8 L2284.8 1460.6 L2285.3 1460.3 L2285.9 1460.1 L2286.4 1459.9 L2286.9 1459.7 L2287.5 1459.6 L2288.0 1459.5 L2288.6 1459.3 L2289.1 1459.3 L2289.7 1459.2 L2290.2 1459.2 L2290.7 1459.2 L2291.3 1459.2 L2291.8 1459.3 L2292.4 1459.3 L2292.9 1459.5 L2293.5 1459.6 L2294.0 1459.7 L2294.6 1459.9 L2295.1 1460.1 L2295.6 1460.3 L2296.2 1460.5 L2296.7 1460.8 L2297.3 1461.0 L2297.8 1461.3 L2298.4 1461.5 L2298.9 1461.8 L2299.4 1462.0 L2300.0 1462.3 L2300.5 1462.5 L2301.1 1462.8 L2301.6 1463.0 L2302.2 1463.2 L2302.7 1463.4 L2303.3 1463.6 L2303.8 1463.7 L2304.3 1463.9 L2304.9 1464.0 L2305.4 1464.1 L2306.0 1464.1 L2306.5 1464.1 L2307.1 1464.2 L2307.6 1464.1 L2308.1 1464.1 L2308.7 1464.0 L2309.2 1463.9 L2309.8 1463.8 L2310.3 1463.7 L2310.9 1463.5 L2311.4 1463.4 L2312.0 1463.2 L2312.5 1463.0 L2313.0 1462.7 L2313.6 1462.5 L2314.1 1462.3 L2314.7 1462.0 L2315.2 1461.8 L2315.8 1461.6 L2316.3 1461.3 L2316.8 1461.1 L2317.4 1460.9 L2317.9 1460.6 L2318.5 1460.4 L2319.0 1460.3 L2319.6 1460.1 L2320.1 1459.9 L2320.6 1459.8 L2321.2 1459.7 L2321.7 1459.6 L2322.3 1459.6 L2322.8 1459.5 L2323.4 1459.5 L2323.9 1459.5 L2324.5 1459.5 L2325.0 1459.6 L2325.5 1459.7 L2326.1 1459.8 L2326.6 1459.9 L2327.2 1460.0 L2327.7 1460.2 L2328.3 1460.4 L2328.8 1460.6 L2329.3 1460.8 L2329.9 1461.0 L2330.4 1461.2 L2331.0 1461.4 L2331.5 1461.6 L2332.1 1461.9 L2332.6 1462.1 L2333.2 1462.3 L2333.7 1462.5 L2334.2 1462.7 L2334.8 1462.9 L2335.3 1463.1 L2335.9 1463.2 L2336.4 1463.4 L2337.0 1463.5 L2337.5 1463.6 L2338.0 1463.7 L2338.6 1463.8 L2339.1 1463.8 L2339.7 1463.9 L2340.2 1463.9 L2340.8 1463.8 L2341.3 1463.8 L2341.8 1463.7 L2342.4 1463.6 L2342.9 1463.5 L2343.5 1463.4 L2344.0 1463.3 L2344.6 1463.1 L2345.1 1462.9 L2345.7 1462.7 L2346.2 1462.5 L2346.7 1462.3 L2347.3 1462.1 L2347.8 1461.9 L2348.4 1461.7 L2348.9 1461.5 L2349.5 1461.3 L2350.0 1461.1 L2350.5 1460.9 L2351.1 1460.7 L2351.6 1460.6 L2352.2 1460.4 L2352.7 1460.3 L2353.3 1460.1 L2353.8 1460.0 L2354.4 1459.9 L2354.9 1459.9 L2355.4 1459.8 L2356.0 1459.8 L2356.5 1459.8 L2357.1 1459.8 L2357.6 1459.8 L2358.2 1459.9 L2358.7 1460.0 L2359.2 1460.1 L2359.8 1460.2 L2360.3 1460.3 L2360.9 1460.4 L2361.4 1460.6 L2362.0 1460.8 L2362.5 1460.9 L2363.1 1461.1 L2363.6 1461.3 L2364.1 1461.5 L2364.7 1461.7 L2365.2 1461.9 L2365.8 1462.1 L2366.3 1462.3 L2366.9 1462.5 L2367.4 1462.7" fill="none" stroke="#76ad40" stroke-width="14" stroke-linejoin="round" stroke-linecap="butt"/>
<path d="M192.9 1461.8 L193.8 1461.7 L194.6 1461.7 L195.5 1461.7 L196.4 1461.6 L197.2 1461.5 L198.1 1461.3 L199.0 1461.1 L199.9 1460.8 L200.7 1460.3 L201.6 1459.7 L202.5 1458.7 L203.3 1457.2 L204.2 1455.5 L205.1 1453.5 L205.9 1450.9 L206.8 1448.2 L207.7 1445.3 L208.6 1442.3 L209.4 1439.0 L210.3 1435.5 L211.2 1431.8 L212.0 1427.9 L212.9 1423.5 L213.8 1418.7 L214.6 1413.6 L215.5 1408.4 L216.4 1403.2 L217.3 1397.9 L218.1 1392.5 L219.0 1386.9 L219.9 1381.2 L220.7 1375.6 L221.6 1370.2 L222.5 1365.2 L223.3 1360.7 L224.2 1356.5 L225.1 1352.6 L226.0 1348.8 L226.8 1345.1 L227.7 1341.5 L228.6 1337.9 L229.4 1334.3 L230.3 1330.6 L231.2 1326.8 L232.0 1322.9 L232.9 1319.1 L233.8 1315.3 L234.7 1311.4 L235.5 1307.5 L236.4 1303.4 L237.3 1299.3 L238.1 1294.9 L239.0 1290.5 L239.9 1285.9 L240.7 1281.2 L241.6 1276.5 L242.5 1271.6 L243.3 1266.8 L244.2 1261.8 L245.1 1256.9 L246.0 1251.9 L246.8 1246.8 L247.7 1241.6 L248.6 1236.3 L249.4 1231.1 L250.3 1225.9 L251.2 1220.7 L252.0 1215.3 L252.9 1209.9 L253.8 1205.0 L254.7 1200.8 L255.5 1197.0 L256.4 1193.5 L257.3 1190.1 L258.1 1187.0 L259.0 1184.0 L259.9 1181.2 L260.7 1178.5 L261.6 1176.0 L262.5 1173.5 L263.4 1171.2 L264.2 1169.0 L265.1 1166.9 L266.0 1164.9 L266.8 1162.9 L267.7 1161.0 L268.6 1159.2 L269.4 1157.4 L270.3 1155.7 L271.2 1153.9 L272.1 1152.2 L272.9 1150.4 L273.8 1148.6 L274.7 1146.8 L275.5 1144.8 L276.4 1142.9 L277.3 1140.8 L278.1 1138.6 L279.0 1136.1 L279.9 1133.5 L280.7 1130.7 L281.6 1128.0 L282.5 1125.3 L283.4 1123.0 L284.2 1121.0 L285.1 1119.4 L286.0 1118.1 L286.8 1116.9 L287.7 1115.9 L288.6 1115.2 L289.4 1114.7 L290.3 1114.4 L291.2 1114.1 L292.1 1113.9 L292.9 1113.9 L293.8 1114.3 L294.7 1115.0 L295.5 1116.0 L296.4 1117.0 L297.3 1118.1 L298.1 1119.5 L299.0 1121.2 L299.9 1123.1 L300.8 1125.0 L301.6 1127.0 L302.5 1129.0 L303.4 1130.9 L304.2 1132.6 L305.1 1134.2 L306.0 1135.8 L306.8 1137.3 L307.7 1138.8 L308.6 1140.3 L309.5 1141.9 L310.3 1143.4 L311.2 1145.0 L312.1 1146.7 L312.9 1148.4 L313.8 1150.1 L314.7 1151.9 L315.5 1153.7 L316.4 1155.6 L317.3 1157.6 L318.2 1159.7 L319.0 1161.9 L319.9 1164.3 L320.8 1166.7 L321.6 1169.3 L322.5 1172.1 L323.4 1175.0 L324.2 1178.2 L325.1 1181.7 L326.0 1185.3 L326.8 1189.0 L327.7 1192.4 L328.6 1195.6 L329.5 1198.9 L330.3 1202.4 L331.2 1206.4 L332.1 1211.3 L332.9 1217.6 L333.8 1224.6 L334.7 1231.4 L335.5 1237.8 L336.4 1244.2 L337.3 1250.4 L338.2 1256.1 L339.0 1261.7 L339.9 1267.1 L340.8 1272.3 L341.6 1277.4 L342.5 1282.4 L343.4 1287.2 L344.2 1291.8 L345.1 1296.3 L346.0 1300.5 L346.9 1304.4 L347.7 1308.2 L348.6 1311.8 L349.5 1315.4 L350.3 1319.0 L351.2 1322.7 L352.1 1326.6 L352.9 1330.8 L353.8 1334.9 L354.7 1339.2 L355.6 1343.6 L356.4 1348.1 L357.3 1352.7 L358.2 1357.6 L359.0 1362.7 L359.9 1368.1 L360.8 1373.9 L361.6 1380.0 L362.5 1386.4 L363.4 1392.9 L364.3 1399.4 L365.1 1406.0 L366.0 1412.6 L366.9 1419.3 L367.7 1426.2 L368.6 1433.1 L369.5 1440.1 L370.3 1447.1 L371.2 1454.1 L372.1 1461.3 L372.9 1468.5 L373.8 1475.8 L374.7 1482.9 L375.6 1489.7 L376.4 1496.2 L377.3 1502.4 L378.2 1508.4 L379.0 1514.3 L379.9 1520.1 L380.8 1525.7 L381.6 1531.2 L382.5 1536.7 L383.4 1542.0 L384.3 1547.2 L385.1 1552.3 L386.0 1557.3 L386.9 1562.2 L387.7 1567.2 L388.6 1572.1 L389.5 1577.1 L390.3 1582.0 L391.2 1586.9 L392.1 1591.8 L393.0 1596.6 L393.8 1601.6 L394.7 1606.7 L395.6 1611.9 L396.4 1617.3 L397.3 1623.0 L398.2 1629.0 L399.0 1635.0 L399.9 1641.0 L400.8 1647.0 L401.7 1652.6 L402.5 1658.0 L403.4 1663.2 L404.3 1668.2 L405.1 1673.2 L406.0 1678.0 L406.9 1682.7 L407.7 1687.4 L408.6 1691.9 L409.5 1696.3 L410.4 1700.6 L411.2 1704.8 L412.1 1708.9 L413.0 1712.9 L413.8 1716.8 L414.7 1720.7 L415.6 1724.5 L416.4 1728.2 L417.3 1731.9 L418.2 1735.6 L419.0 1739.2 L419.9 1742.9 L420.8 1746.5 L421.7 1750.2 L422.5 1753.8 L423.4 1757.3 L424.3 1760.8 L425.1 1764.3 L426.0 1767.7 L426.9 1771.0 L427.7 1774.1 L428.6 1777.3 L429.5 1780.4 L430.4 1783.5 L431.2 1786.5 L432.1 1789.3 L433.0 1792.0 L433.8 1794.5 L434.7 1796.8 L435.6 1799.1 L436.4 1801.3 L437.3 1803.4 L438.2 1805.4 L439.1 1807.3 L439.9 1808.9 L440.8 1810.2 L441.7 1811.3 L442.5 1812.4 L443.4 1813.4 L444.3 1814.4 L445.1 1815.4 L446.0 1816.2 L446.9 1817.0 L447.8 1817.7 L448.6 1818.3 L449.5 1818.7 L450.4 1819.0 L451.2 1819.1 L452.1 1819.0 L453.0 1818.8 L453.8 1818.5 L454.7 1818.0 L455.6 1817.4 L456.4 1816.8 L457.3 1816.1 L458.2 1815.3 L459.1 1814.5 L459.9 1813.7 L460.8 1812.9 L461.7 1812.2 L462.5 1811.4 L463.4 1810.5 L464.3 1809.6 L465.1 1808.7 L466.0 1807.7 L466.9 1806.6 L467.8 1805.5 L468.6 1804.4 L469.5 1803.2 L470.4 1802.0 L471.2 1800.7 L472.1 1799.4 L473.0 1798.0 L473.8 1796.5 L474.7 1794.9 L475.6 1793.1 L476.5 1791.3 L477.3 1789.2 L478.2 1786.8 L479.1 1784.2 L479.9 1781.3 L480.8 1778.2 L481.7 1775.0 L482.5 1771.5 L483.4 1767.7 L484.3 1763.5 L485.2 1759.1 L486.0 1754.5 L486.9 1749.8 L487.8 1745.1 L488.6 1740.5 L489.5 1735.7 L490.4 1730.9 L491.2 1725.9 L492.1 1720.9 L493.0 1715.9 L493.9 1710.9 L494.7 1705.9 L495.6 1700.9 L496.5 1695.9 L497.3 1690.9 L498.2 1686.0 L499.1 1681.0 L499.9 1676.0 L500.8 1670.9 L501.7 1665.9 L502.5 1660.8 L503.4 1655.7 L504.3 1650.5 L505.2 1645.3 L506.0 1640.1 L506.9 1634.8 L507.8 1629.5 L508.6 1624.3 L509.5 1619.1 L510.4 1613.9 L511.2 1608.8 L512.1 1603.8 L513.0 1598.8 L513.9 1593.9 L514.7 1588.9 L515.6 1583.8 L516.5 1578.6 L517.3 1573.2 L518.2 1567.6 L519.1 1561.9 L519.9 1556.2 L520.8 1550.4 L521.7 1544.7 L522.6 1539.1 L523.4 1533.7 L524.3 1528.2 L525.2 1522.7 L526.0 1517.4 L526.9 1512.4 L527.8 1507.6 L528.6 1503.1 L529.5 1498.7 L530.4 1494.5 L531.3 1490.4 L532.1 1486.5 L533.0 1482.6 L533.9 1478.8 L534.7 1475.0 L535.6 1471.3 L536.5 1467.6 L537.3 1464.0 L538.2 1460.5 L539.1 1457.1 L540.0 1453.9 L540.8 1450.9 L541.7 1448.1 L542.6 1445.3 L543.4 1442.7 L544.3 1440.1 L545.2 1437.7 L546.0 1435.4 L546.9 1433.2 L547.8 1431.2 L548.6 1429.3 L549.5 1427.4 L550.4 1425.6 L551.3 1424.0 L552.1 1422.4 L553.0 1421.0 L553.9 1419.7 L554.7 1418.6 L555.6 1417.6 L556.5 1416.6 L557.3 1415.7 L558.2 1414.8 L559.1 1414.1 L560.0 1413.6 L560.8 1413.3 L561.7 1413.3 L562.6 1413.6 L563.4 1414.0 L564.3 1414.6 L565.2 1415.3 L566.0 1416.1 L566.9 1417.0 L567.8 1417.9 L568.7 1418.8 L569.5 1419.8 L570.4 1421.0 L571.3 1422.4 L572.1 1423.9 L573.0 1425.5 L573.9 1427.3 L574.7 1429.0 L575.6 1430.9 L576.5 1432.8 L577.4 1434.7 L578.2 1436.6 L579.1 1438.4 L580.0 1440.2 L580.8 1441.9 L581.7 1443.6 L582.6 1445.2 L583.4 1446.8 L584.3 1448.5 L585.2 1450.1 L586.0 1451.7 L586.9 1453.4 L587.8 1455.0 L588.7 1456.6 L589.5 1458.2 L590.4 1459.8 L591.3 1461.4 L592.1 1462.9 L593.0 1464.4 L593.9 1465.9 L594.7 1467.3 L595.6 1468.7 L596.5 1470.1 L597.4 1471.5 L598.2 1472.8 L599.1 1474.2 L600.0 1475.6 L600.8 1476.9 L601.7 1478.2 L602.6 1479.5 L603.4 1480.7 L604.3 1481.8 L605.2 1482.9 L606.1 1483.8 L606.9 1484.7 L607.8 1485.5 L608.7 1486.2 L609.5 1487.0 L610.4 1487.7 L611.3 1488.4 L612.1 1489.1 L613.0 1489.6 L613.9 1490.1 L614.8 1490.5 L615.6 1490.7 L616.5 1490.8 L617.4 1490.6 L618.2 1490.3 L619.1 1489.8 L620.0 1489.2 L620.8 1488.4 L621.7 1487.6 L622.6 1486.7 L623.5 1485.8 L624.3 1484.8 L625.2 1483.8 L626.1 1482.6 L626.9 1481.1 L627.8 1479.5 L628.7 1477.8 L629.5 1476.1 L630.4 1474.5 L631.3 1473.2 L632.1 1471.8 L633.0 1470.4 L633.9 1469.1 L634.8 1467.8 L635.6 1466.5 L636.5 1465.4 L637.4 1464.3 L638.2 1463.3 L639.1 1462.5 L640.0 1461.9 L640.8 1461.3 L641.7 1460.7 L642.6 1460.1 L643.5 1459.6 L644.3 1459.1 L645.2 1458.7 L646.1 1458.4 L646.9 1458.1 L647.8 1457.9 L648.7 1457.8 L649.5 1457.7 L650.4 1457.6 L651.3 1457.5 L652.2 1457.5 L653.0 1457.5 L653.9 1457.4 L654.8 1457.4 L655.6 1457.3 L656.5 1457.3 L657.4 1457.2 L658.2 1457.1 L659.1 1457.0 L660.0 1456.8 L660.9 1456.5 L661.7 1456.2 L662.6 1455.9 L663.5 1455.5 L664.3 1455.0 L665.2 1454.6 L666.1 1454.1 L666.9 1453.7 L667.8 1453.3 L668.7 1452.8 L669.6 1452.5 L670.4 1452.1 L671.3 1451.8 L672.2 1451.6 L673.0 1451.4 L673.9 1451.3 L674.8 1451.3 L675.6 1451.4 L676.5 1451.7 L677.4 1452.1 L678.2 1452.5 L679.1 1453.1 L680.0 1453.6 L680.9 1454.3 L681.7 1454.9 L682.6 1455.6 L683.5 1456.2 L684.3 1456.8 L685.2 1457.4 L686.1 1457.9 L686.9 1458.4 L687.8 1458.9 L688.7 1459.5 L689.6 1460.0 L690.4 1460.6 L691.3 1461.1 L692.2 1461.5 L693.0 1461.8 L693.9 1462.1 L694.8 1462.2 L695.6 1462.2 L696.5 1462.2 L697.4 1462.3 L698.3 1462.3 L699.1 1462.3 L700.0 1462.3 L700.9 1462.3 L701.7 1462.3 L702.6 1462.4 L703.5 1462.4 L704.3 1462.4 L705.2 1462.4 L706.1 1462.5 L707.0 1462.5 L707.8 1462.7 L708.7 1463.0 L709.6 1463.3 L710.4 1463.7 L711.3 1464.1 L712.2 1464.6 L713.0 1465.0 L713.9 1465.5 L714.8 1466.0 L715.6 1466.4 L716.5 1466.8 L717.4 1467.1 L718.3 1467.3 L719.1 1467.6 L720.0 1467.8 L720.9 1468.1 L721.7 1468.3 L722.6 1468.5 L723.5 1468.7 L724.3 1468.8 L725.2 1468.9 L726.1 1469.0 L727.0 1469.0 L727.8 1468.9 L728.7 1468.6 L729.6 1468.3 L730.4 1467.9 L731.3 1467.4 L732.2 1466.9 L733.0 1466.4 L733.9 1465.8 L734.8 1465.3 L735.7 1464.8 L736.5 1464.3 L737.4 1463.9 L738.3 1463.6 L739.1 1463.3 L740.0 1463.0 L740.9 1462.7 L741.7 1462.4 L742.6 1462.2 L743.5 1461.9 L744.4 1461.7 L745.2 1461.6 L746.1 1461.5 L747.0 1461.4 L747.8 1461.5 L748.7 1461.5 L749.6 1461.5 L750.4 1461.5 L751.3 1461.6 L752.2 1461.6 L753.1 1461.7 L753.9 1461.7 L754.8 1461.8 L755.7 1461.8 L756.5 1461.8 L757.4 1461.9 L758.3 1461.9 L759.1 1461.9 L760.0 1461.8 L760.9 1461.6 L761.7 1461.4 L762.6 1461.2 L763.5 1460.9 L764.4 1460.6 L765.2 1460.3 L766.1 1460.0 L767.0 1459.8 L767.8 1459.6 L768.7 1459.4 L769.6 1459.3 L770.4 1459.3 L771.3 1459.3 L772.2 1459.2 L773.1 1459.2 L773.9 1459.2 L774.8 1459.2 L775.7 1459.2 L776.5 1459.2 L777.4 1459.2 L778.3 1459.2 L779.1 1459.3 L780.0 1459.3 L780.9 1459.3 L781.8 1459.3 L782.6 1459.4 L783.5 1459.4 L784.4 1459.5 L785.2 1459.5 L786.1 1459.6 L787.0 1459.6 L787.8 1459.7 L788.7 1459.8 L789.6 1459.9 L790.5 1459.9 L791.3 1460.0 L792.2 1460.1 L793.1 1460.2 L793.9 1460.3 L794.8 1460.4 L795.7 1460.5 L796.5 1460.6 L797.4 1460.7 L798.3 1460.8 L799.2 1460.9 L800.0 1461.0 L800.9 1461.1 L801.8 1461.2 L802.6 1461.3 L803.5 1461.4 L804.4 1461.5 L805.2 1461.5 L806.1 1461.6 L807.0 1461.7 L807.8 1461.8 L808.7 1461.9 L809.6 1462.0 L810.5 1462.1 L811.3 1462.2 L812.2 1462.3 L813.1 1462.4 L813.9 1462.4 L814.8 1462.5 L815.7 1462.6 L816.5 1462.7 L817.4 1462.7 L818.3 1462.8 L819.2 1462.8 L820.0 1462.9 L820.9 1462.9 L821.8 1463.0 L822.6 1463.0 L823.5 1463.0 L824.4 1463.1 L825.2 1463.1 L826.1 1463.1 L827.0 1463.1 L827.9 1463.1 L828.7 1463.1 L829.6 1463.1 L830.5 1463.1 L831.3 1463.0 L832.2 1463.0 L833.1 1463.0 L833.9 1463.0 L834.8 1463.0 L835.7 1462.9 L836.6 1462.9 L837.4 1462.9 L838.3 1462.8 L839.2 1462.8 L840.0 1462.7 L840.9 1462.7 L841.8 1462.7 L842.6 1462.6 L843.5 1462.6 L844.4 1462.5 L845.2 1462.5 L846.1 1462.4 L847.0 1462.4 L847.9 1462.3 L848.7 1462.3 L849.6 1462.2 L850.5 1462.2 L851.3 1462.1 L852.2 1462.1 L853.1 1462.0 L853.9 1462.0 L854.8 1461.9 L855.7 1461.9 L856.6 1461.8 L857.4 1461.8 L858.3 1461.7 L859.2 1461.7 L860.0 1461.6 L860.9 1461.6 L861.8 1461.5 L862.6 1461.5 L863.5 1461.4 L864.4 1461.4 L865.3 1461.4 L866.1 1461.3 L867.0 1461.3 L867.9 1461.3 L868.7 1461.3 L869.6 1461.2 L870.5 1461.2 L871.3 1461.2 L872.2 1461.2 L873.1 1461.2 L874.0 1461.2 L874.8 1461.2 L875.7 1461.2 L876.6 1461.2 L877.4 1461.2 L878.3 1461.2 L879.2 1461.2 L880.0 1461.2 L880.9 1461.2 L881.8 1461.2 L882.7 1461.2 L883.5 1461.2 L884.4 1461.2 L885.3 1461.2 L886.1 1461.2 L887.0 1461.2 L887.9 1461.2 L888.7 1461.2 L889.6 1461.2 L890.5 1461.2 L891.3 1461.2 L892.2 1461.2 L893.1 1461.2 L894.0 1461.3 L894.8 1461.3 L895.7 1461.3 L896.6 1461.3 L897.4 1461.3 L898.3 1461.3 L899.2 1461.3 L900.0 1461.3 L900.9 1461.3 L901.8 1461.3 L902.7 1461.3 L903.5 1461.3 L904.4 1461.4 L905.3 1461.4 L906.1 1461.4 L907.0 1461.4 L907.9 1461.4 L908.7 1461.4 L909.6 1461.4 L910.5 1461.4 L911.4 1461.4 L912.2 1461.4 L913.1 1461.4 L914.0 1461.4 L914.8 1461.5 L915.7 1461.5 L916.6 1461.5 L917.4 1461.5 L918.3 1461.5 L919.2 1461.5 L920.1 1461.5 L920.9 1461.5 L921.8 1461.5 L922.7 1461.5 L923.5 1461.5 L924.4 1461.5 L925.3 1461.5 L926.1 1461.5 L927.0 1461.5 L927.9 1461.5 L928.8 1461.5 L929.6 1461.5 L930.5 1461.5 L931.4 1461.5 L932.2 1461.5 L933.1 1461.5 L934.0 1461.5 L934.8 1461.5 L935.7 1461.5 L936.6 1461.5 L937.4 1461.5 L938.3 1461.5 L939.2 1461.5 L940.1 1461.5 L940.9 1461.5 L941.8 1461.5 L942.7 1461.5 L943.5 1461.5 L944.4 1461.5 L945.3 1461.5 L946.1 1461.5 L947.0 1461.5 L947.9 1461.5 L948.8 1461.5 L949.6 1461.5 L950.5 1461.4 L951.4 1461.4 L952.2 1461.4 L953.1 1461.4 L954.0 1461.4 L954.8 1461.4 L955.7 1461.4 L956.6 1461.4 L957.5 1461.4 L958.3 1461.4 L959.2 1461.3 L960.1 1461.3 L960.9 1461.3 L961.8 1461.3 L962.7 1461.3 L963.5 1461.3 L964.4 1461.3 L965.3 1461.3 L966.2 1461.2 L967.0 1461.2 L967.9 1461.2 L968.8 1461.2 L969.6 1461.2 L970.5 1461.2 L971.4 1461.2 L972.2 1461.2 L973.1 1461.1 L974.0 1461.1 L974.9 1461.1 L975.7 1461.1 L976.6 1461.1 L977.5 1461.1 L978.3 1461.1 L979.2 1461.1 L980.1 1461.0 L980.9 1461.0 L981.8 1461.0 L982.7 1461.0 L983.5 1461.0 L984.4 1461.0 L985.3 1461.0 L986.2 1461.0 L987.0 1460.9 L987.9 1460.9 L988.8 1460.9 L989.6 1460.9 L990.5 1460.9 L991.4 1460.9 L992.2 1460.9 L993.1 1460.9 L994.0 1460.9 L994.9 1460.9 L995.7 1460.8 L996.6 1460.8 L997.5 1460.8 L998.3 1460.8 L999.2 1460.8 L1000.1 1460.8 L1000.9 1460.8 L1001.8 1460.8 L1002.7 1460.8 L1003.6 1460.8 L1004.4 1460.8 L1005.3 1460.8 L1006.2 1460.8 L1007.0 1460.8 L1007.9 1460.8 L1008.8 1460.8 L1009.6 1460.8 L1010.5 1460.8 L1011.4 1460.8 L1012.3 1460.8 L1013.1 1460.8 L1014.0 1460.8 L1014.9 1460.8 L1015.7 1460.8 L1016.6 1460.9 L1017.5 1460.9 L1018.3 1460.9 L1019.2 1460.9 L1020.1 1461.0 L1020.9 1461.0 L1021.8 1461.1 L1022.7 1461.1 L1023.6 1461.1 L1024.4 1461.2 L1025.3 1461.2 L1026.2 1461.3 L1027.0 1461.3 L1027.9 1461.4 L1028.8 1461.4 L1029.6 1461.5 L1030.5 1461.5 L1031.4 1461.6 L1032.3 1461.6 L1033.1 1461.7 L1034.0 1461.8 L1034.9 1461.8 L1035.7 1461.9 L1036.6 1461.9 L1037.5 1462.0 L1038.3 1462.0 L1039.2 1462.1 L1040.1 1462.2 L1041.0 1462.2 L1041.8 1462.3 L1042.7 1462.4 L1043.6 1462.5 L1044.4 1462.6 L1045.3 1462.7 L1046.2 1462.8 L1047.0 1462.9 L1047.9 1463.1 L1048.8 1463.2 L1049.7 1463.3 L1050.5 1463.5 L1051.4 1463.6 L1052.3 1463.7 L1053.1 1463.9 L1054.0 1464.0 L1054.9 1464.2 L1055.7 1464.3 L1056.6 1464.4 L1057.5 1464.6 L1058.4 1464.7 L1059.2 1464.8 L1060.1 1465.0 L1061.0 1465.1 L1061.8 1465.2 L1062.7 1465.3 L1063.6 1465.4 L1064.4 1465.5 L1065.3 1465.6 L1066.2 1465.7 L1067.0 1465.8 L1067.9 1465.8 L1068.8 1465.9 L1069.7 1465.9 L1070.5 1466.0 L1071.4 1466.0 L1072.3 1466.0 L1073.1 1466.0 L1074.0 1465.9 L1074.9 1465.9 L1075.7 1465.8 L1076.6 1465.7 L1077.5 1465.6 L1078.4 1465.4 L1079.2 1465.3 L1080.1 1465.1 L1081.0 1464.9 L1081.8 1464.7 L1082.7 1464.5 L1083.6 1464.3 L1084.4 1464.0 L1085.3 1463.8 L1086.2 1463.5 L1087.1 1463.3 L1087.9 1463.0 L1088.8 1462.7 L1089.7 1462.5 L1090.5 1462.2 L1091.4 1461.9 L1092.3 1461.7 L1093.1 1461.4 L1094.0 1461.1 L1094.9 1460.9 L1095.8 1460.6 L1096.6 1460.4 L1097.5 1460.2 L1098.4 1460.0 L1099.2 1459.8 L1100.1 1459.6 L1101.0 1459.4 L1101.8 1459.3 L1102.7 1459.1 L1103.6 1459.0 L1104.5 1458.8 L1105.3 1458.6 L1106.2 1458.5 L1107.1 1458.3 L1107.9 1458.2 L1108.8 1458.0 L1109.7 1457.8 L1110.5 1457.7 L1111.4 1457.5 L1112.3 1457.4 L1113.1 1457.2 L1114.0 1457.1 L1114.9 1456.9 L1115.8 1456.8 L1116.6 1456.6 L1117.5 1456.5 L1118.4 1456.4 L1119.2 1456.3 L1120.1 1456.1 L1121.0 1456.0 L1121.8 1455.9 L1122.7 1455.8 L1123.6 1455.7 L1124.5 1455.6 L1125.3 1455.6 L1126.2 1455.5 L1127.1 1455.5 L1127.9 1455.4 L1128.8 1455.4 L1129.7 1455.4 L1130.5 1455.4 L1131.4 1455.4 L1132.3 1455.4 L1133.2 1455.5 L1134.0 1455.6 L1134.9 1455.7 L1135.8 1455.8 L1136.6 1456.0 L1137.5 1456.2 L1138.4 1456.4 L1139.2 1456.6 L1140.1 1456.8 L1141.0 1457.1 L1141.9 1457.4 L1142.7 1457.7 L1143.6 1458.0 L1144.5 1458.3 L1145.3 1458.6 L1146.2 1458.9 L1147.1 1459.3 L1147.9 1459.6 L1148.8 1459.9 L1149.7 1460.3 L1150.5 1460.6 L1151.4 1461.0 L1152.3 1461.3 L1153.2 1461.7 L1154.0 1462.1 L1154.9 1462.5 L1155.8 1463.0 L1156.6 1463.4 L1157.5 1463.9 L1158.4 1464.5 L1159.2 1465.0 L1160.1 1465.6 L1161.0 1466.2 L1161.9 1466.8 L1162.7 1467.4 L1163.6 1468.1 L1164.5 1468.8 L1165.3 1469.5 L1166.2 1470.2 L1167.1 1470.9 L1167.9 1471.7 L1168.8 1472.6 L1169.7 1473.6 L1170.6 1474.7 L1171.4 1475.8 L1172.3 1476.9 L1173.2 1478.0 L1174.0 1479.1 L1174.9 1480.1 L1175.8 1481.1 L1176.6 1482.0 L1177.5 1482.8 L1178.4 1483.6 L1179.3 1484.4 L1180.1 1485.2 L1181.0 1485.9 L1181.9 1486.6 L1182.7 1487.1 L1183.6 1487.4 L1184.5 1487.6 L1185.3 1487.4 L1186.2 1487.0 L1187.1 1486.3 L1188.0 1485.5 L1188.8 1484.6 L1189.7 1483.5 L1190.6 1482.4 L1191.4 1481.4 L1192.3 1480.3 L1193.2 1478.9 L1194.0 1477.5 L1194.9 1475.9 L1195.8 1474.3 L1196.6 1472.7 L1197.5 1470.8 L1198.4 1468.9 L1199.3 1466.9 L1200.1 1464.9 L1201.0 1463.1 L1201.9 1461.4 L1202.7 1460.0 L1203.6 1458.9 L1204.5 1458.1 L1205.3 1457.3 L1206.2 1456.6 L1207.1 1456.0 L1208.0 1455.4 L1208.8 1454.8 L1209.7 1454.1 L1210.6 1453.5 L1211.4 1452.8 L1212.3 1452.2 L1213.2 1451.5 L1214.0 1450.9 L1214.9 1450.3 L1215.8 1449.6 L1216.7 1448.8 L1217.5 1448.0 L1218.4 1447.0 L1219.3 1445.8 L1220.1 1444.4 L1221.0 1442.9 L1221.9 1441.4 L1222.7 1439.8 L1223.6 1438.3 L1224.5 1436.9 L1225.4 1435.7 L1226.2 1434.5 L1227.1 1433.3 L1228.0 1432.2 L1228.8 1431.1 L1229.7 1430.1 L1230.6 1429.1 L1231.4 1428.2 L1232.3 1427.4 L1233.2 1426.5 L1234.1 1425.7 L1234.9 1424.8 L1235.8 1424.0 L1236.7 1423.4 L1237.5 1423.1 L1238.4 1423.0 L1239.3 1423.2 L1240.1 1423.4 L1241.0 1423.9 L1241.9 1424.4 L1242.7 1425.1 L1243.6 1425.8 L1244.5 1426.6 L1245.4 1427.4 L1246.2 1428.2 L1247.1 1429.1 L1248.0 1430.1 L1248.8 1431.3 L1249.7 1432.6 L1250.6 1434.1 L1251.4 1435.6 L1252.3 1437.2 L1253.2 1438.8 L1254.1 1440.4 L1254.9 1441.9 L1255.8 1443.4 L1256.7 1444.9 L1257.5 1446.5 L1258.4 1448.2 L1259.3 1450.0 L1260.1 1451.9 L1261.0 1454.1 L1261.9 1456.5 L1262.8 1459.5 L1263.6 1462.8 L1264.5 1466.3 L1265.4 1469.7 L1266.2 1472.8 L1267.1 1475.7 L1268.0 1478.5 L1268.8 1481.3 L1269.7 1484.2 L1270.6 1487.3 L1271.5 1490.7 L1272.3 1494.5 L1273.2 1499.0 L1274.1 1504.0 L1274.9 1509.5 L1275.8 1515.4 L1276.7 1521.4 L1277.5 1527.5 L1278.4 1533.4 L1279.3 1539.1 L1280.2 1544.8 L1281.0 1550.4 L1281.9 1556.0 L1282.8 1561.7 L1283.6 1567.3 L1284.5 1573.1 L1285.4 1578.8 L1286.2 1584.7 L1287.1 1590.7 L1288.0 1596.7 L1288.8 1602.4 L1289.7 1608.1 L1290.6 1613.7 L1291.5 1619.4 L1292.3 1625.0 L1293.2 1630.4 L1294.1 1635.6 L1294.9 1640.4 L1295.8 1644.9 L1296.7 1648.9 L1297.5 1652.6 L1298.4 1656.0 L1299.3 1659.3 L1300.2 1662.4 L1301.0 1665.4 L1301.9 1668.4 L1302.8 1671.2 L1303.6 1674.1 L1304.5 1676.9 L1305.4 1679.7 L1306.2 1682.4 L1307.1 1685.0 L1308.0 1687.6 L1308.9 1690.1 L1309.7 1692.6 L1310.6 1695.1 L1311.5 1697.6 L1312.3 1700.2 L1313.2 1702.8 L1314.1 1705.4 L1314.9 1708.1 L1315.8 1710.9 L1316.7 1713.7 L1317.6 1716.5 L1318.4 1719.3 L1319.3 1722.0 L1320.2 1724.6 L1321.0 1727.1 L1321.9 1729.7 L1322.8 1732.3 L1323.6 1734.8 L1324.5 1737.0 L1325.4 1738.9 L1326.2 1740.2 L1327.1 1741.4 L1328.0 1742.5 L1328.9 1743.4 L1329.7 1744.1 L1330.6 1744.5 L1331.5 1744.5 L1332.3 1744.3 L1333.2 1744.0 L1334.1 1743.5 L1334.9 1743.0 L1335.8 1742.3 L1336.7 1741.7 L1337.6 1741.1 L1338.4 1740.6 L1339.3 1740.0 L1340.2 1739.3 L1341.0 1738.5 L1341.9 1737.8 L1342.8 1737.1 L1343.6 1736.6 L1344.5 1736.2 L1345.4 1736.0 L1346.3 1736.0 L1347.1 1736.2 L1348.0 1736.4 L1348.9 1736.8 L1349.7 1737.1 L1350.6 1737.4 L1351.5 1737.7 L1352.3 1738.1 L1353.2 1738.5 L1354.1 1738.9 L1355.0 1739.2 L1355.8 1739.4 L1356.7 1739.4 L1357.6 1739.2 L1358.4 1738.7 L1359.3 1737.9 L1360.2 1736.9 L1361.0 1735.8 L1361.9 1734.6 L1362.8 1733.3 L1363.7 1731.3 L1364.5 1728.8 L1365.4 1726.0 L1366.3 1723.1 L1367.1 1720.3 L1368.0 1717.6 L1368.9 1714.7 L1369.7 1711.8 L1370.6 1708.8 L1371.5 1705.8 L1372.3 1702.9 L1373.2 1699.8 L1374.1 1696.8 L1375.0 1693.9 L1375.8 1691.2 L1376.7 1688.9 L1377.6 1686.8 L1378.4 1684.8 L1379.3 1683.0 L1380.2 1681.2 L1381.0 1679.4 L1381.9 1677.5 L1382.8 1675.6 L1383.7 1673.7 L1384.5 1671.9 L1385.4 1670.0 L1386.3 1668.3 L1387.1 1666.5 L1388.0 1664.7 L1388.9 1662.9 L1389.7 1661.0 L1390.6 1659.0 L1391.5 1657.0 L1392.4 1654.9 L1393.2 1652.7 L1394.1 1650.3 L1395.0 1647.8 L1395.8 1645.0 L1396.7 1641.9 L1397.6 1638.4 L1398.4 1634.7 L1399.3 1630.9 L1400.2 1626.9 L1401.1 1623.0 L1401.9 1619.1 L1402.8 1615.3 L1403.7 1611.3 L1404.5 1607.1 L1405.4 1603.0 L1406.3 1598.9 L1407.1 1595.1 L1408.0 1591.5 L1408.9 1588.4 L1409.8 1585.6 L1410.6 1582.9 L1411.5 1580.5 L1412.4 1578.1 L1413.2 1575.9 L1414.1 1573.6 L1415.0 1571.4 L1415.8 1569.0 L1416.7 1566.6 L1417.6 1564.3 L1418.4 1561.9 L1419.3 1559.7 L1420.2 1557.4 L1421.1 1555.1 L1421.9 1552.8 L1422.8 1550.4 L1423.7 1548.0 L1424.5 1545.4 L1425.4 1542.6 L1426.3 1539.8 L1427.1 1536.7 L1428.0 1533.3 L1428.9 1529.7 L1429.8 1525.9 L1430.6 1521.9 L1431.5 1517.7 L1432.4 1513.4 L1433.2 1509.1 L1434.1 1504.5 L1435.0 1499.5 L1435.8 1494.4 L1436.7 1489.2 L1437.6 1484.1 L1438.5 1479.3 L1439.3 1474.4 L1440.2 1469.7 L1441.1 1465.2 L1441.9 1461.0 L1442.8 1457.2 L1443.7 1453.7 L1444.5 1450.3 L1445.4 1447.0 L1446.3 1443.8 L1447.2 1440.6 L1448.0 1437.3 L1448.9 1433.9 L1449.8 1430.5 L1450.6 1427.1 L1451.5 1423.8 L1452.4 1420.4 L1453.2 1417.0 L1454.1 1413.7 L1455.0 1410.4 L1455.8 1407.2 L1456.7 1404.0 L1457.6 1400.8 L1458.5 1397.7 L1459.3 1394.6 L1460.2 1391.5 L1461.1 1388.4 L1461.9 1385.3 L1462.8 1382.1 L1463.7 1378.9 L1464.5 1375.8 L1465.4 1372.6 L1466.3 1369.4 L1467.2 1366.2 L1468.0 1363.0 L1468.9 1359.8 L1469.8 1356.5 L1470.6 1353.3 L1471.5 1349.9 L1472.4 1346.5 L1473.2 1343.1 L1474.1 1339.5 L1475.0 1335.9 L1475.9 1332.3 L1476.7 1328.6 L1477.6 1325.0 L1478.5 1321.3 L1479.3 1317.6 L1480.2 1314.0 L1481.1 1310.5 L1481.9 1307.0 L1482.8 1303.6 L1483.7 1300.3 L1484.6 1297.0 L1485.4 1293.8 L1486.3 1290.6 L1487.2 1287.4 L1488.0 1284.3 L1488.9 1281.2 L1489.8 1278.2 L1490.6 1275.2 L1491.5 1272.2 L1492.4 1269.3 L1493.3 1266.5 L1494.1 1263.6 L1495.0 1260.9 L1495.9 1258.1 L1496.7 1255.3 L1497.6 1252.6 L1498.5 1249.8 L1499.3 1247.1 L1500.2 1244.3 L1501.1 1241.5 L1501.9 1238.6 L1502.8 1235.7 L1503.7 1232.9 L1504.6 1230.2 L1505.4 1227.6 L1506.3 1225.2 L1507.2 1222.9 L1508.0 1220.7 L1508.9 1218.6 L1509.8 1216.6 L1510.6 1214.7 L1511.5 1212.8 L1512.4 1211.2 L1513.3 1209.6 L1514.1 1208.2 L1515.0 1206.9 L1515.9 1205.6 L1516.7 1204.4 L1517.6 1203.3 L1518.5 1202.2 L1519.3 1201.1 L1520.2 1200.1 L1521.1 1199.0 L1522.0 1197.9 L1522.8 1196.9 L1523.7 1195.7 L1524.6 1194.6 L1525.4 1193.3 L1526.3 1192.1 L1527.2 1190.8 L1528.0 1189.4 L1528.9 1188.1 L1529.8 1186.8 L1530.7 1185.6 L1531.5 1184.4 L1532.4 1183.3 L1533.3 1182.3 L1534.1 1181.5 L1535.0 1180.7 L1535.9 1180.0 L1536.7 1179.3 L1537.6 1178.6 L1538.5 1178.0 L1539.4 1177.4 L1540.2 1176.9 L1541.1 1176.4 L1542.0 1176.1 L1542.8 1175.9 L1543.7 1175.8 L1544.6 1175.9 L1545.4 1176.2 L1546.3 1176.5 L1547.2 1177.0 L1548.0 1177.5 L1548.9 1178.1 L1549.8 1178.8 L1550.7 1179.5 L1551.5 1180.2 L1552.4 1180.8 L1553.3 1181.5 L1554.1 1182.3 L1555.0 1183.2 L1555.9 1184.1 L1556.7 1185.1 L1557.6 1186.2 L1558.5 1187.3 L1559.4 1188.5 L1560.2 1189.7 L1561.1 1190.9 L1562.0 1192.2 L1562.8 1193.6 L1563.7 1194.9 L1564.6 1196.3 L1565.4 1197.8 L1566.3 1199.3 L1567.2 1200.9 L1568.1 1202.5 L1568.9 1204.3 L1569.8 1206.2 L1570.7 1208.1 L1571.5 1210.2 L1572.4 1212.4 L1573.3 1214.7 L1574.1 1217.2 L1575.0 1220.0 L1575.9 1223.2 L1576.8 1226.7 L1577.6 1230.6 L1578.5 1234.6 L1579.4 1238.7 L1580.2 1242.8 L1581.1 1247.0 L1582.0 1251.3 L1582.8 1255.8 L1583.7 1260.5 L1584.6 1265.3 L1585.4 1270.0 L1586.3 1274.6 L1587.2 1279.0 L1588.1 1283.4 L1588.9 1287.8 L1589.8 1292.1 L1590.7 1296.4 L1591.5 1300.7 L1592.4 1305.0 L1593.3 1309.2 L1594.1 1313.4 L1595.0 1317.5 L1595.9 1321.6 L1596.8 1325.6 L1597.6 1329.7 L1598.5 1333.9 L1599.4 1338.0 L1600.2 1342.2 L1601.1 1346.5 L1602.0 1350.9 L1602.8 1355.3 L1603.7 1359.7 L1604.6 1364.2 L1605.5 1368.8 L1606.3 1373.4 L1607.2 1378.2 L1608.1 1383.1 L1608.9 1388.1 L1609.8 1393.4 L1610.7 1398.7 L1611.5 1404.2 L1612.4 1409.8 L1613.3 1415.3 L1614.2 1420.9 L1615.0 1426.4 L1615.9 1431.9 L1616.8 1437.5 L1617.6 1443.1 L1618.5 1448.6 L1619.4 1453.8 L1620.2 1458.8 L1621.1 1464.0 L1622.0 1469.0 L1622.9 1473.2 L1623.7 1476.1 L1624.6 1477.8 L1625.5 1479.4 L1626.3 1480.7 L1627.2 1481.8 L1628.1 1482.6 L1628.9 1483.1 L1629.8 1483.4 L1630.7 1483.4 L1631.5 1483.5 L1632.4 1483.6 L1633.3 1483.6 L1634.2 1483.6 L1635.0 1483.6 L1635.9 1483.7 L1636.8 1483.7 L1637.6 1483.7 L1638.5 1483.8 L1639.4 1483.9 L1640.2 1484.0 L1641.1 1484.6 L1642.0 1485.6 L1642.9 1486.8 L1643.7 1488.3 L1644.6 1489.8 L1645.5 1491.3 L1646.3 1492.8 L1647.2 1494.0 L1648.1 1495.3 L1648.9 1496.7 L1649.8 1498.2 L1650.7 1499.6 L1651.6 1501.0 L1652.4 1502.2 L1653.3 1503.1 L1654.2 1503.7 L1655.0 1503.9 L1655.9 1503.6 L1656.8 1502.9 L1657.6 1501.7 L1658.5 1500.2 L1659.4 1498.5 L1660.3 1496.6 L1661.1 1494.7 L1662.0 1492.7 L1662.9 1490.2 L1663.7 1487.4 L1664.6 1484.6 L1665.5 1481.8 L1666.3 1478.9 L1667.2 1475.9 L1668.1 1473.1 L1669.0 1470.6 L1669.8 1468.5 L1670.7 1466.9 L1671.6 1465.5 L1672.4 1464.1 L1673.3 1462.9 L1674.2 1461.9 L1675.0 1461.1 L1675.9 1460.7 L1676.8 1460.6 L1677.6 1460.5 L1678.5 1460.4 L1679.4 1460.3 L1680.3 1460.3 L1681.1 1460.2 L1682.0 1460.2 L1682.9 1460.2 L1683.7 1460.1 L1684.6 1460.1 L1685.5 1460.0 L1686.3 1459.9 L1687.2 1459.8 L1688.1 1459.5 L1689.0 1458.8 L1689.8 1457.5 L1690.7 1455.9 L1691.6 1454.1 L1692.4 1452.3 L1693.3 1450.6 L1694.2 1448.9 L1695.0 1447.1 L1695.9 1445.3 L1696.8 1443.4 L1697.7 1441.6 L1698.5 1439.9 L1699.4 1438.5 L1700.3 1437.0 L1701.1 1435.5 L1702.0 1434.1 L1702.9 1432.8 L1703.7 1431.6 L1704.6 1430.8 L1705.5 1430.4 L1706.4 1430.5 L1707.2 1431.1 L1708.1 1432.3 L1709.0 1433.8 L1709.8 1435.5 L1710.7 1437.5 L1711.6 1439.5 L1712.4 1441.6 L1713.3 1443.5 L1714.2 1445.3 L1715.1 1447.2 L1715.9 1449.3 L1716.8 1451.5 L1717.7 1453.6 L1718.5 1455.5 L1719.4 1457.2 L1720.3 1458.7 L1721.1 1460.3 L1722.0 1461.9 L1722.9 1463.2 L1723.7 1464.1 L1724.6 1464.5 L1725.5 1464.4 L1726.4 1464.4 L1727.2 1464.2 L1728.1 1464.1 L1729.0 1463.9 L1729.8 1463.7 L1730.7 1463.4 L1731.6 1463.2 L1732.4 1462.8 L1733.3 1462.2 L1734.2 1461.6 L1735.1 1460.9 L1735.9 1460.2 L1736.8 1459.5 L1737.7 1459.0 L1738.5 1458.5 L1739.4 1458.3 L1740.3 1458.3 L1741.1 1458.5 L1742.0 1459.1 L1742.9 1459.8 L1743.8 1460.7 L1744.6 1461.7 L1745.5 1462.7 L1746.4 1463.8 L1747.2 1464.8 L1748.1 1465.7 L1749.0 1466.6 L1749.8 1467.5 L1750.7 1468.5 L1751.6 1469.6 L1752.5 1470.6 L1753.3 1471.6 L1754.2 1472.5 L1755.1 1473.3 L1755.9 1473.8 L1756.8 1474.1 L1757.7 1474.2 L1758.5 1473.9 L1759.4 1473.4 L1760.3 1472.7 L1761.1 1471.9 L1762.0 1471.0 L1762.9 1469.9 L1763.8 1468.8 L1764.6 1467.8 L1765.5 1466.7 L1766.4 1465.8 L1767.2 1465.0 L1768.1 1464.2 L1769.0 1463.4 L1769.8 1462.5 L1770.7 1461.6 L1771.6 1460.8 L1772.5 1460.0 L1773.3 1459.3 L1774.2 1458.8 L1775.1 1458.4 L1775.9 1458.2 L1776.8 1458.3 L1777.7 1458.6 L1778.5 1459.0 L1779.4 1459.6 L1780.3 1460.2 L1781.2 1460.9 L1782.0 1461.6 L1782.9 1462.2 L1783.8 1462.8 L1784.6 1463.5 L1785.5 1464.2 L1786.4 1464.9 L1787.2 1465.5 L1788.1 1466.0 L1789.0 1466.2 L1789.9 1466.1 L1790.7 1465.8 L1791.6 1465.3 L1792.5 1464.6 L1793.3 1463.8 L1794.2 1462.8 L1795.1 1461.9 L1795.9 1460.9 L1796.8 1459.9 L1797.7 1459.0 L1798.6 1458.2 L1799.4 1457.5 L1800.3 1456.8 L1801.2 1456.2 L1802.0 1455.5 L1802.9 1454.8 L1803.8 1454.2 L1804.6 1453.6 L1805.5 1453.1 L1806.4 1452.8 L1807.2 1452.5 L1808.1 1452.4 L1809.0 1452.5 L1809.9 1452.8 L1810.7 1453.2 L1811.6 1453.8 L1812.5 1454.4 L1813.3 1455.1 L1814.2 1455.9 L1815.1 1456.6 L1815.9 1457.3 L1816.8 1458.0 L1817.7 1458.6 L1818.6 1459.1 L1819.4 1459.7 L1820.3 1460.4 L1821.2 1461.1 L1822.0 1461.8 L1822.9 1462.4 L1823.8 1462.9 L1824.6 1463.3 L1825.5 1463.6 L1826.4 1463.8 L1827.3 1463.8 L1828.1 1463.6 L1829.0 1463.3 L1829.9 1462.8 L1830.7 1462.3 L1831.6 1461.8 L1832.5 1461.2 L1833.3 1460.7 L1834.2 1460.2 L1835.1 1459.7 L1836.0 1459.2 L1836.8 1458.8 L1837.7 1458.4 L1838.6 1458.0 L1839.4 1457.8 L1840.3 1457.7 L1841.2 1457.7 L1842.0 1457.8 L1842.9 1457.9 L1843.8 1458.2 L1844.7 1458.5 L1845.5 1458.9 L1846.4 1459.4 L1847.3 1459.9 L1848.1 1460.5 L1849.0 1461.1 L1849.9 1461.7 L1850.7 1462.2 L1851.6 1462.8 L1852.5 1463.3 L1853.3 1463.8 L1854.2 1464.1 L1855.1 1464.4 L1856.0 1464.7 L1856.8 1464.8 L1857.7 1464.9 L1858.6 1464.8 L1859.4 1464.7 L1860.3 1464.4 L1861.2 1464.1 L1862.0 1463.7 L1862.9 1463.3 L1863.8 1462.8 L1864.7 1462.3 L1865.5 1461.7 L1866.4 1461.2 L1867.3 1460.6 L1868.1 1460.1 L1869.0 1459.7 L1869.9 1459.2 L1870.7 1458.9 L1871.6 1458.6 L1872.5 1458.4 L1873.4 1458.3 L1874.2 1458.2 L1875.1 1458.3 L1876.0 1458.4 L1876.8 1458.6 L1877.7 1458.9 L1878.6 1459.3 L1879.4 1459.7 L1880.3 1460.1 L1881.2 1460.6 L1882.1 1461.1 L1882.9 1461.7 L1883.8 1462.2 L1884.7 1462.6 L1885.5 1463.1 L1886.4 1463.5 L1887.3 1463.8 L1888.1 1464.1 L1889.0 1464.2 L1889.9 1464.4 L1890.7 1464.4 L1891.6 1464.3 L1892.5 1464.2 L1893.4 1464.0 L1894.2 1463.7 L1895.1 1463.4 L1896.0 1463.0 L1896.8 1462.6 L1897.7 1462.1 L1898.6 1461.7 L1899.4 1461.2 L1900.3 1460.7 L1901.2 1460.3 L1902.1 1459.9 L1902.9 1459.5 L1903.8 1459.2 L1904.7 1459.0 L1905.5 1458.8 L1906.4 1458.7 L1907.3 1458.7 L1908.1 1458.7 L1909.0 1458.8 L1909.9 1459.0 L1910.8 1459.3 L1911.6 1459.6 L1912.5 1459.9 L1913.4 1460.3 L1914.2 1460.8 L1915.1 1461.2 L1916.0 1461.6 L1916.8 1462.1 L1917.7 1462.5 L1918.6 1462.9 L1919.5 1463.2 L1920.3 1463.5 L1921.2 1463.7 L1922.1 1463.9 L1922.9 1464.0 L1923.8 1464.0 L1924.7 1463.9 L1925.5 1463.8 L1926.4 1463.6 L1927.3 1463.4 L1928.2 1463.1 L1929.0 1462.8 L1929.9 1462.4 L1930.8 1462.0 L1931.6 1461.6 L1932.5 1461.2 L1933.4 1460.8 L1934.2 1460.4 L1935.1 1460.1 L1936.0 1459.8 L1936.8 1459.5 L1937.7 1459.3 L1938.6 1459.1 L1939.5 1459.0 L1940.3 1459.0 L1941.2 1459.1 L1942.1 1459.2 L1942.9 1459.3 L1943.8 1459.6 L1944.7 1459.8 L1945.5 1460.2 L1946.4 1460.5 L1947.3 1460.9 L1948.2 1461.2 L1949.0 1461.6 L1949.9 1462.0 L1950.8 1462.4 L1951.6 1462.7 L1952.5 1463.0 L1953.4 1463.2 L1954.2 1463.4 L1955.1 1463.5 L1956.0 1463.6 L1956.9 1463.6 L1957.7 1463.6 L1958.6 1463.5 L1959.5 1463.3 L1960.3 1463.1 L1961.2 1462.9 L1962.1 1462.6 L1962.9 1462.3 L1963.8 1461.9 L1964.7 1461.6 L1965.6 1461.2 L1966.4 1460.9 L1967.3 1460.5 L1968.2 1460.2 L1969.0 1460.0 L1969.9 1459.7 L1970.8 1459.6 L1971.6 1459.4 L1972.5 1459.4 L1973.4 1459.3 L1974.3 1459.4 L1975.1 1459.5 L1976.0 1459.6 L1976.9 1459.8 L1977.7 1460.1 L1978.6 1460.3 L1979.5 1460.6 L1980.3 1461.0 L1981.2 1461.3 L1982.1 1461.6 L1982.9 1461.9 L1983.8 1462.2 L1984.7 1462.5 L1985.6 1462.8 L1986.4 1463.0 L1987.3 1463.1 L1988.2 1463.3 L1989.0 1463.3 L1989.9 1463.3 L1990.8 1463.3 L1991.6 1463.2 L1992.5 1463.1 L1993.4 1462.9 L1994.3 1462.7 L1995.1 1462.4 L1996.0 1462.1 L1996.9 1461.8 L1997.7 1461.5 L1998.6 1461.2 L1999.5 1460.9 L2000.3 1460.6 L2001.2 1460.4 L2002.1 1460.1 L2003.0 1460.0 L2003.8 1459.8 L2004.7 1459.7 L2005.6 1459.6 L2006.4 1459.6 L2007.3 1459.7 L2008.2 1459.7 L2009.0 1459.9 L2009.9 1460.1 L2010.8 1460.3 L2011.7 1460.5 L2012.5 1460.8 L2013.4 1461.0 L2014.3 1461.3 L2015.1 1461.6 L2016.0 1461.9 L2016.9 1462.1 L2017.7 1462.4 L2018.6 1462.6 L2019.5 1462.8 L2020.3 1462.9 L2021.2 1463.0 L2022.1 1463.1 L2023.0 1463.1 L2023.8 1463.0 L2024.7 1463.0 L2025.6 1462.8 L2026.4 1462.7 L2027.3 1462.5 L2028.2 1462.3 L2029.0 1462.0 L2029.9 1461.8 L2030.8 1461.5 L2031.7 1461.2 L2032.5 1461.0 L2033.4 1460.7 L2034.3 1460.5 L2035.1 1460.3 L2036.0 1460.1 L2036.9 1460.0 L2037.7 1459.9 L2038.6 1459.9 L2039.5 1459.9 L2040.4 1459.9 L2041.2 1460.0 L2042.1 1460.1 L2043.0 1460.2 L2043.8 1460.4 L2044.7 1460.6 L2045.6 1460.9 L2046.4 1461.1 L2047.3 1461.3 L2048.2 1461.6 L2049.1 1461.8 L2049.9 1462.1 L2050.8 1462.3 L2051.7 1462.5 L2052.5 1462.6 L2053.4 1462.7 L2054.3 1462.8 L2055.1 1462.9 L2056.0 1462.9 L2056.9 1462.8 L2057.8 1462.8 L2058.6 1462.6 L2059.5 1462.5 L2060.4 1462.3 L2061.2 1462.1 L2062.1 1461.9 L2063.0 1461.7 L2063.8 1461.5 L2064.7 1461.2 L2065.6 1461.0 L2066.4 1460.8 L2067.3 1460.6 L2068.2 1460.5 L2069.1 1460.3 L2069.9 1460.2 L2070.8 1460.1 L2071.7 1460.1 L2072.5 1460.1 L2073.4 1460.1 L2074.3 1460.2 L2075.1 1460.3 L2076.0 1460.4 L2076.9 1460.6 L2077.8 1460.7 L2078.6 1460.9 L2079.5 1461.2 L2080.4 1461.4 L2081.2 1461.6 L2082.1 1461.8 L2083.0 1462.0 L2083.8 1462.2 L2084.7 1462.3 L2085.6 1462.5 L2086.5 1462.6 L2087.3 1462.6 L2088.2 1462.7 L2089.1 1462.7 L2089.9 1462.6 L2090.8 1462.6 L2091.7 1462.5 L2092.5 1462.4 L2093.4 1462.2 L2094.3 1462.0 L2095.2 1461.9 L2096.0 1461.7 L2096.9 1461.5 L2097.8 1461.3 L2098.6 1461.1 L2099.5 1460.9 L2100.4 1460.7 L2101.2 1460.6 L2102.1 1460.5 L2103.0 1460.4 L2103.9 1460.3 L2104.7 1460.3 L2105.6 1460.3 L2106.5 1460.3 L2107.3 1460.3 L2108.2 1460.4 L2109.1 1460.6 L2109.9 1460.7 L2110.8 1460.8 L2111.7 1461.0 L2112.5 1461.2 L2113.4 1461.4 L2114.3 1461.6 L2115.2 1461.7 L2116.0 1461.9 L2116.9 1462.1 L2117.8 1462.2 L2118.6 1462.3 L2119.5 1462.4 L2120.4 1462.5 L2121.2 1462.5 L2122.1 1462.5 L2123.0 1462.5 L2123.9 1462.4 L2124.7 1462.3 L2125.6 1462.2 L2126.5 1462.1 L2127.3 1461.9 L2128.2 1461.8 L2129.1 1461.6 L2129.9 1461.4 L2130.8 1461.3 L2131.7 1461.1 L2132.6 1460.9 L2133.4 1460.8 L2134.3 1460.7 L2135.2 1460.6 L2136.0 1460.5 L2136.9 1460.4 L2137.8 1460.4 L2138.6 1460.4 L2139.5 1460.4 L2140.4 1460.5 L2141.3 1460.6 L2142.1 1460.7 L2143.0 1460.8 L2143.9 1460.9 L2144.7 1461.1 L2145.6 1461.2 L2146.5 1461.4 L2147.3 1461.6 L2148.2 1461.7 L2149.1 1461.9 L2149.9 1462.0 L2150.8 1462.1 L2151.7 1462.2 L2152.6 1462.3 L2153.4 1462.3 L2154.3 1462.4 L2155.2 1462.4 L2156.0 1462.3 L2156.9 1462.3 L2157.8 1462.2 L2158.6 1462.1 L2159.5 1462.0 L2160.4 1461.9 L2161.3 1461.7 L2162.1 1461.6 L2163.0 1461.4 L2163.9 1461.3 L2164.7 1461.1 L2165.6 1461.0 L2166.5 1460.9 L2167.3 1460.8 L2168.2 1460.7 L2169.1 1460.6 L2170.0 1460.6 L2170.8 1460.5 L2171.7 1460.5 L2172.6 1460.6 L2173.4 1460.6 L2174.3 1460.7 L2175.2 1460.8 L2176.0 1460.9 L2176.9 1461.0 L2177.8 1461.1 L2178.7 1461.3 L2179.5 1461.4 L2180.4 1461.5 L2181.3 1461.7 L2182.1 1461.8 L2183.0 1461.9 L2183.9 1462.0 L2184.7 1462.1 L2185.6 1462.2 L2186.5 1462.2 L2187.4 1462.2 L2188.2 1462.2 L2189.1 1462.2 L2190.0 1462.2 L2190.8 1462.1 L2191.7 1462.0 L2192.6 1461.9 L2193.4 1461.8 L2194.3 1461.7 L2195.2 1461.6 L2196.0 1461.4 L2196.9 1461.3 L2197.8 1461.2 L2198.7 1461.1 L2199.5 1460.9 L2200.4 1460.9 L2201.3 1460.8 L2202.1 1460.7 L2203.0 1460.7 L2203.9 1460.7 L2204.7 1460.7 L2205.6 1460.7 L2206.5 1460.7 L2207.4 1460.8 L2208.2 1460.9 L2209.1 1461.0 L2210.0 1461.1 L2210.8 1461.2 L2211.7 1461.3 L2212.6 1461.4 L2213.4 1461.5 L2214.3 1461.6 L2215.2 1461.8 L2216.1 1461.9 L2216.9 1461.9 L2217.8 1462.0 L2218.7 1462.1 L2219.5 1462.1 L2220.4 1462.1 L2221.3 1462.1 L2222.1 1462.1 L2223.0 1462.1 L2223.9 1462.0 L2224.8 1461.9 L2225.6 1461.8 L2226.5 1461.7 L2227.4 1461.6 L2228.2 1461.5 L2229.1 1461.4 L2230.0 1461.3 L2230.8 1461.2 L2231.7 1461.1 L2232.6 1461.0 L2233.5 1460.9 L2234.3 1460.9 L2235.2 1460.8 L2236.1 1460.8 L2236.9 1460.8 L2237.8 1460.8 L2238.7 1460.8 L2239.5 1460.8 L2240.4 1460.9 L2241.3 1460.9 L2242.1 1461.0 L2243.0 1461.1 L2243.9 1461.2 L2244.8 1461.3 L2245.6 1461.4 L2246.5 1461.5 L2247.4 1461.6 L2248.2 1461.7 L2249.1 1461.8 L2250.0 1461.9 L2250.8 1461.9 L2251.7 1462.0 L2252.6 1462.0 L2253.5 1462.0 L2254.3 1462.0 L2255.2 1462.0 L2256.1 1462.0 L2256.9 1461.9 L2257.8 1461.9 L2258.7 1461.8 L2259.5 1461.7 L2260.4 1461.6 L2261.3 1461.5 L2262.2 1461.4 L2263.0 1461.3 L2263.9 1461.2 L2264.8 1461.1 L2265.6 1461.1 L2266.5 1461.0 L2267.4 1460.9 L2268.2 1460.9 L2269.1 1460.9 L2270.0 1460.9 L2270.9 1460.9 L2271.7 1460.9 L2272.6 1460.9 L2273.5 1461.0 L2274.3 1461.0 L2275.2 1461.1 L2276.1 1461.2 L2276.9 1461.2 L2277.8 1461.3 L2278.7 1461.4 L2279.6 1461.5 L2280.4 1461.6 L2281.3 1461.7 L2282.2 1461.8 L2283.0 1461.8 L2283.9 1461.9 L2284.8 1461.9 L2285.6 1461.9 L2286.5 1461.9 L2287.4 1461.9 L2288.2 1461.9 L2289.1 1461.9 L2290.0 1461.8 L2290.9 1461.8 L2291.7 1461.7 L2292.6 1461.7 L2293.5 1461.6 L2294.3 1461.5 L2295.2 1461.4 L2296.1 1461.3 L2296.9 1461.2 L2297.8 1461.2 L2298.7 1461.1 L2299.6 1461.0 L2300.4 1461.0 L2301.3 1461.0 L2302.2 1460.9 L2303.0 1460.9 L2303.9 1460.9 L2304.8 1460.9 L2305.6 1461.0 L2306.5 1461.0 L2307.4 1461.1 L2308.3 1461.1 L2309.1 1461.2 L2310.0 1461.3 L2310.9 1461.3 L2311.7 1461.4 L2312.6 1461.5 L2313.5 1461.6 L2314.3 1461.6 L2315.2 1461.7 L2316.1 1461.8 L2317.0 1461.8 L2317.8 1461.8 L2318.7 1461.9 L2319.6 1461.9 L2320.4 1461.9 L2321.3 1461.9 L2322.2 1461.8 L2323.0 1461.8 L2323.9 1461.7 L2324.8 1461.7 L2325.6 1461.6 L2326.5 1461.6 L2327.4 1461.5 L2328.3 1461.4 L2329.1 1461.3 L2330.0 1461.3 L2330.9 1461.2 L2331.7 1461.1 L2332.6 1461.1 L2333.5 1461.1 L2334.3 1461.0 L2335.2 1461.0 L2336.1 1461.0 L2337.0 1461.0 L2337.8 1461.0 L2338.7 1461.0 L2339.6 1461.1 L2340.4 1461.1 L2341.3 1461.2 L2342.2 1461.2 L2343.0 1461.3 L2343.9 1461.4 L2344.8 1461.4 L2345.7 1461.5 L2346.5 1461.6 L2347.4 1461.6 L2348.3 1461.7 L2349.1 1461.7 L2350.0 1461.8 L2350.9 1461.8 L2351.7 1461.8 L2352.6 1461.8 L2353.5 1461.8 L2354.4 1461.8 L2355.2 1461.8 L2356.1 1461.7 L2357.0 1461.7 L2357.8 1461.6 L2358.7 1461.6 L2359.6 1461.5 L2360.4 1461.5 L2361.3 1461.4 L2362.2 1461.3 L2363.1 1461.3 L2363.9 1461.2 L2364.8 1461.2 L2365.7 1461.1 L2366.5 1461.1 L2367.4 1461.1" fill="none" stroke="#7f2f8d" stroke-width="14" stroke-linejoin="round" stroke-linecap="butt"/>
<text x="208.50" y="1021.00" text-anchor="middle" font-size="58.5" fill="#4d4d4f">0</text>
<text x="423.21" y="1021.00" text-anchor="middle" font-size="58.5" fill="#4d4d4f">1</text>
<text x="637.92" y="1021.00" text-anchor="middle" font-size="58.5" fill="#4d4d4f">2</text>
<text x="852.63" y="1021.00" text-anchor="middle" font-size="58.5" fill="#4d4d4f">3</text>
<text x="1067.34" y="1021.00" text-anchor="middle" font-size="58.5" fill="#4d4d4f">4</text>
<text x="1282.05" y="1021.00" text-anchor="middle" font-size="58.5" fill="#4d4d4f">5</text>
<text x="1496.76" y="1021.00" text-anchor="middle" font-size="58.5" fill="#4d4d4f">6</text>
<text x="1711.47" y="1021.00" text-anchor="middle" font-size="58.5" fill="#4d4d4f">7</text>
<text x="1926.18" y="1021.00" text-anchor="middle" font-size="58.5" fill="#4d4d4f">8</text>
<text x="2140.89" y="1021.00" text-anchor="middle" font-size="58.5" fill="#4d4d4f">9</text>
<text x="2355.60" y="1021.00" text-anchor="middle" font-size="58.5" fill="#4d4d4f" letter-spacing="0.8">10</text>
<text x="189.30" y="963.10" text-anchor="end" font-size="58.5" fill="#4d4d4f" letter-spacing="0.8">-10</text>
<text x="189.30" y="753.12" text-anchor="end" font-size="58.5" fill="#4d4d4f" letter-spacing="0.8">-5</text>
<text x="189.30" y="543.15" text-anchor="end" font-size="58.5" fill="#4d4d4f">0</text>
<text x="189.30" y="333.18" text-anchor="end" font-size="58.5" fill="#4d4d4f">5</text>
<text x="189.30" y="123.20" text-anchor="end" font-size="58.5" fill="#4d4d4f" letter-spacing="0.8">10</text>
<text x="191.50" y="1959.00" text-anchor="middle" font-size="58.5" fill="#4d4d4f">0</text>
<text x="408.95" y="1959.00" text-anchor="middle" font-size="58.5" fill="#4d4d4f">1</text>
<text x="626.40" y="1959.00" text-anchor="middle" font-size="58.5" fill="#4d4d4f">2</text>
<text x="843.85" y="1959.00" text-anchor="middle" font-size="58.5" fill="#4d4d4f">3</text>
<text x="1061.30" y="1959.00" text-anchor="middle" font-size="58.5" fill="#4d4d4f">4</text>
<text x="1278.75" y="1959.00" text-anchor="middle" font-size="58.5" fill="#4d4d4f">5</text>
<text x="1496.20" y="1959.00" text-anchor="middle" font-size="58.5" fill="#4d4d4f">6</text>
<text x="1713.65" y="1959.00" text-anchor="middle" font-size="58.5" fill="#4d4d4f">7</text>
<text x="1931.10" y="1959.00" text-anchor="middle" font-size="58.5" fill="#4d4d4f">8</text>
<text x="2148.55" y="1959.00" text-anchor="middle" font-size="58.5" fill="#4d4d4f">9</text>
<text x="2368.00" y="1959.00" text-anchor="middle" font-size="58.5" fill="#4d4d4f" letter-spacing="0.8">10</text>
<text x="172.00" y="1900.80" text-anchor="end" font-size="58.5" fill="#4d4d4f" letter-spacing="0.8">-5</text>
<text x="172.00" y="1484.95" text-anchor="end" font-size="58.5" fill="#4d4d4f">0</text>
<text x="172.00" y="1069.10" text-anchor="end" font-size="58.5" fill="#4d4d4f">5</text>
<rect x="1768.75" y="138.75" width="535.50" height="158.50" fill="#fff" stroke="#4d4d4f" stroke-width="3.5"/>
<line x1="1788.7" y1="183" x2="1988" y2="183" stroke="#0b72b9" stroke-width="14"/>
<text x="2001.4" y="204.2" font-size="52.6" fill="#231f20" letter-spacing="0.65">Trapezoidal</text>
<line x1="1788.7" y1="252.6" x2="1988" y2="252.6" stroke="#d85427" stroke-width="14"/>
<text x="2001.0" y="275.2" font-size="52.6" fill="#231f20" letter-spacing="0.6">III grade</text>
<rect x="1820.85" y="1085.05" width="495.70" height="158.90" fill="#fff" stroke="#4d4d4f" stroke-width="3.5"/>
<line x1="1840" y1="1128.8" x2="2040" y2="1128.8" stroke="#76ad40" stroke-width="14"/>
<text x="2053" y="1151.4" font-size="52.6" fill="#231f20" letter-spacing="0.5">V grade</text>
<line x1="1840" y1="1199.9" x2="2040" y2="1199.9" stroke="#7f2f8d" stroke-width="14"/>
<text x="2053" y="1221" font-size="52.6" fill="#231f20" letter-spacing="0.5">Optimized</text>
<text y="75" font-size="64.5" font-weight="bold" fill="#231f20" letter-spacing="0.3"><tspan x="1107.6" font-family='"Liberation Serif", serif' font-style="italic" font-size="63.9">θ</tspan><tspan x="1144.6"> response</tspan></text>
<text x="1278.7" y="2046" text-anchor="middle" font-size="64.5" fill="#4d4d4f" letter-spacing="0.75">Time (s)</text>
<text transform="translate(74,1025) rotate(-90)" text-anchor="middle" font-size="64.5" fill="#4d4d4f" letter-spacing="0.7"><tspan font-family='"Liberation Serif", serif' font-style="italic" font-size="64.5">θ</tspan>[deg]</text>
</svg>
</body></html>
